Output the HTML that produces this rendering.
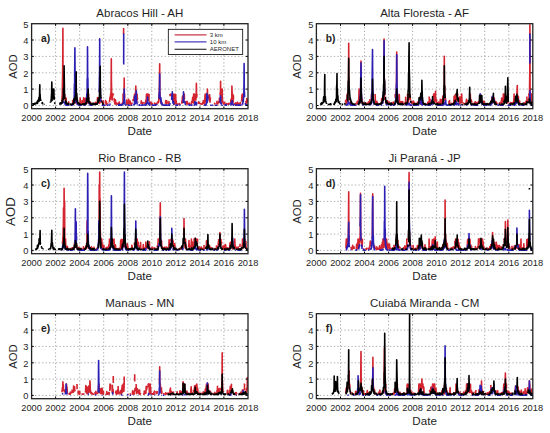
<!DOCTYPE html>
<html><head><meta charset="utf-8"><style>
html,body{margin:0;padding:0;background:#fff;width:550px;height:433px;overflow:hidden}
svg{display:block;font-family:"Liberation Sans", sans-serif}
text{fill:#1e1e1e}
</style></head><body>
<svg width="550" height="433" viewBox="0 0 550 433">
<rect width="550" height="433" fill="#fff"/>
<path d="M55.6,23.7V108.7M79.7,23.7V108.7M103.7,23.7V108.7M127.8,23.7V108.7M151.8,23.7V108.7M175.8,23.7V108.7M199.9,23.7V108.7M223.9,23.7V108.7M31.6,105.5H248.0M31.6,89.1H248.0M31.6,72.8H248.0M31.6,56.4H248.0M31.6,40.0H248.0" stroke="#ababab" stroke-width="1" stroke-dasharray="1.3,2.2" fill="none"/>
<clipPath id="ca"><rect x="31.6" y="23.7" width="216.4" height="85.0"/></clipPath>
<g clip-path="url(#ca)" fill="none" stroke-width="1.6" stroke-linejoin="round">
<path d="M61.1,102.1 61.2,103.6 61.4,102.8M61.7,101.3 61.9,100.9 62.1,96.3 62.2,99.3 62.4,84.6 62.5,80.7 62.7,68.2 62.9,28.4 63.0,68.2 63.2,76.9 63.3,92.7 63.5,99.6 63.7,94.0 63.8,99.5M64.5,94.7 64.5,94.7M64.8,94.0 64.9,97.1 65.1,98.6 65.3,98.2 65.4,100.7 65.6,100.8 65.7,100.4 65.9,103.4 66.1,102.7 66.2,97.6M67.5,104.1 67.7,104.1 67.8,104.1 68.0,104.1 68.1,104.1 68.3,104.1 68.5,104.1 68.6,101.7 68.8,102.8 68.9,103.4M69.3,104.1 69.3,104.1M70.5,104.1 70.7,104.1 70.9,104.1M72.5,100.8 72.6,100.5 72.8,103.8 72.9,103.9 73.1,101.9 73.3,102.1 73.4,103.7 73.6,102.7 73.8,103.3 73.9,102.9 74.1,102.6 74.2,101.6 74.4,102.7 74.6,101.0 74.7,100.8 74.9,94.0 75.0,98.5 75.2,102.2 75.4,101.4 75.5,102.9 75.7,101.6 75.8,101.8 76.0,102.6 76.2,102.3 76.3,102.6 76.5,101.7 76.6,101.2 76.8,102.6M77.9,103.6 78.1,103.8M78.4,104.1 78.6,104.1 78.7,104.1 78.9,104.1 79.0,103.4 79.2,104.1 79.4,104.1 79.5,104.1 79.7,104.1M80.0,104.1 80.2,98.0 80.3,101.8 80.5,104.1 80.6,104.1M81.4,103.9 81.6,102.9 81.8,103.5 81.9,104.1 82.1,100.6 82.2,102.2 82.4,104.1M83.2,104.1 83.4,104.1 83.5,100.7 83.7,97.9 83.8,104.1 84.0,104.1 84.2,104.1 84.3,103.9 84.5,103.3 84.6,101.4 84.8,98.6 85.0,100.7 85.1,101.7 85.3,102.7 85.4,102.3 85.6,99.4 85.8,98.4 85.9,101.6 86.1,99.8 86.3,97.9 86.4,100.9 86.6,101.3 86.7,101.1 86.9,95.6 87.1,102.0 87.2,102.6 87.4,94.7M88.3,103.7 88.5,99.6 88.7,94.0M89.9,101.3 90.1,102.7 90.3,104.0 90.4,104.0M90.7,103.5 90.9,102.8 91.1,103.4 91.2,103.6 91.4,103.6M92.8,104.1 92.8,104.1M93.1,104.1 93.3,103.9 93.5,103.6 93.6,104.1 93.8,104.1M94.1,103.0 94.3,104.1 94.4,104.1 94.6,104.1 94.7,104.1 94.9,104.1 95.1,104.1 95.2,102.4 95.4,102.3 95.5,103.5 95.7,103.4 95.9,104.1 96.0,104.0 96.2,103.6 96.3,104.1 96.5,104.1 96.7,103.7 96.8,102.9 97.0,102.4 97.1,103.6 97.3,101.6 97.5,97.5 97.6,97.5 97.8,98.1 98.0,101.0 98.1,102.4 98.3,102.4M98.6,98.2 98.8,102.7 98.9,102.7 99.1,102.6 99.2,102.2 99.4,101.8 99.6,103.4 99.7,101.9M100.7,99.6 100.8,97.7 101.0,102.7M102.4,102.5 102.4,102.5M102.8,104.1 102.9,103.8 103.1,102.5 103.2,100.9 103.4,103.1 103.6,104.1 103.7,104.1M105.5,103.1 105.6,100.6 105.8,103.6 106.0,104.1 106.1,104.1 106.3,104.1 106.4,101.9 106.6,103.5 106.8,104.1 106.9,102.9M107.7,103.6 107.9,103.0M108.5,103.0 108.7,102.8M109.0,104.1 109.0,104.1M109.3,102.4 109.5,101.4 109.6,101.3 109.8,99.2 110.0,97.1 110.1,98.6 110.3,97.5 110.5,99.0 110.6,94.0 110.8,94.0 110.9,94.9 111.1,89.9 111.3,58.9 111.4,79.2 111.6,89.1 111.7,93.8 111.9,96.1 112.1,100.0 112.2,99.7 112.4,95.5 112.5,94.0 112.7,96.2 112.9,95.0 113.0,94.0 113.2,94.0 113.3,94.0 113.5,94.9M114.0,98.7 114.1,98.5 114.3,101.8 114.5,101.2 114.6,100.8 114.8,103.3 114.9,104.0 115.1,103.6 115.3,100.4 115.4,99.9 115.6,101.2 115.7,104.1 115.9,104.1 116.1,104.1 116.2,104.1 116.4,104.0 116.5,103.1 116.7,104.0 116.9,103.8M117.3,104.1 117.5,104.1 117.7,103.6 117.8,103.5 118.0,102.8M118.3,104.1 118.5,104.1 118.6,104.1 118.8,104.1 118.9,103.8 119.1,102.1 119.3,102.0 119.4,103.2 119.6,104.1 119.7,103.3 119.9,103.4M121.7,104.1 121.7,104.1M122.0,102.9 122.2,104.0 122.3,104.0 122.5,103.7 122.6,102.5 122.8,102.5 123.0,101.8 123.1,94.0 123.3,95.0 123.4,96.5 123.6,94.5 123.8,99.4 123.9,98.2 124.1,87.7 124.2,78.1 124.4,98.9 124.6,97.6 124.7,94.3M126.0,103.8 126.2,103.8 126.3,104.0 126.5,104.1 126.6,104.1 126.8,99.3M127.1,103.5 127.3,103.0 127.4,104.0 127.6,103.7 127.8,101.6 127.9,103.5 128.1,104.1 128.2,103.2 128.4,104.1 128.6,103.9 128.7,99.2 128.9,103.4 129.0,103.6M129.5,103.1 129.7,102.7 129.8,103.8 130.0,102.6 130.2,101.1 130.3,102.1 130.5,104.1 130.6,104.1 130.8,104.1 131.0,103.9 131.1,104.1 131.3,104.1 131.4,104.1 131.6,104.1 131.8,103.5 131.9,103.1 132.1,104.1M133.0,101.2 133.2,99.0M133.5,100.6 133.7,99.8 133.9,98.6 134.0,96.9 134.2,99.6 134.3,98.9 134.5,94.6 134.7,94.0 134.8,94.0 135.0,94.9M135.3,95.9 135.5,97.2 135.6,94.4 135.8,86.0 135.9,94.0 136.1,94.0 136.3,94.0 136.4,94.0 136.6,100.9 136.7,101.7 136.9,99.4 137.1,94.0 137.2,99.7 137.4,97.7 137.5,99.0 137.7,99.6M138.5,101.9 138.7,102.2M139.8,104.1 139.9,104.1M141.1,104.0 141.2,100.7 141.4,103.0 141.5,104.1M141.9,104.1 142.0,104.1 142.2,103.2 142.3,102.5 142.5,103.8 142.7,103.8 142.8,103.9 143.0,103.6 143.1,102.6 143.3,103.7M144.9,104.1 145.1,103.0 145.2,102.2 145.4,103.2 145.5,103.4 145.7,103.0 145.9,100.0 146.0,99.8 146.2,102.5 146.4,95.3 146.5,94.4 146.7,96.1 146.8,94.0 147.0,94.1 147.2,100.1 147.3,100.4 147.5,94.0 147.6,94.0 147.8,94.0 148.0,94.0 148.1,94.0 148.3,96.7 148.4,96.8M148.9,101.0 149.1,94.0M149.7,101.1 149.9,101.9 150.0,102.7 150.2,104.0 150.4,103.0 150.5,102.7 150.7,104.0M151.0,104.1 151.2,103.4 151.3,102.5 151.5,103.9 151.6,104.1 151.8,104.1 152.0,103.8 152.1,103.3 152.3,103.9 152.4,104.1 152.6,104.1M154.4,104.1 154.5,103.1 154.7,104.0 154.8,103.9 155.0,104.0 155.2,104.1 155.3,104.1 155.5,103.8 155.6,103.7 155.8,104.1 156.0,104.1 156.1,104.1 156.3,104.1 156.4,104.1 156.6,104.1 156.8,104.1 156.9,104.0 157.1,103.9 157.2,103.4 157.4,102.1 157.6,103.7M158.2,103.3 158.4,102.6 158.5,101.6 158.7,100.5 158.9,95.9 159.0,93.9 159.2,98.4 159.3,90.6 159.5,78.0 159.7,63.9 159.8,92.2 160.0,92.0 160.1,97.1 160.3,97.6 160.5,97.6 160.6,101.6 160.8,102.8 160.9,102.9 161.1,103.0 161.3,102.9 161.4,103.4 161.6,103.2 161.7,102.1 161.9,102.7M164.3,104.1 164.5,103.8M165.4,103.3 165.6,103.4 165.7,100.6 165.9,101.1 166.1,103.2 166.2,100.8 166.4,102.3 166.5,103.9 166.7,103.1 166.9,101.1 167.0,102.2 167.2,103.5 167.3,103.6M168.3,104.1 168.5,104.1 168.6,103.6 168.8,103.3 168.9,101.6 169.1,102.0 169.3,102.7M169.9,94.0 170.1,96.2M170.6,94.0 170.7,94.8 170.9,94.0 171.0,94.0 171.2,94.0 171.4,94.0 171.5,94.0M173.3,98.6 173.4,101.7 173.6,99.9 173.8,94.0 173.9,94.0 174.1,96.5M174.4,99.5 174.6,104.1 174.7,104.1 174.9,102.9 175.0,100.9 175.2,94.3 175.4,102.0 175.5,101.9 175.7,94.5 175.8,100.4 176.0,103.1 176.2,100.9 176.3,101.5 176.5,104.1 176.6,104.1 176.8,104.1 177.0,104.1M177.4,103.7 177.6,104.1 177.8,104.0M178.2,104.1 178.4,104.1 178.6,104.1 178.7,104.1 178.9,104.1 179.0,104.1 179.2,104.1 179.4,104.1 179.5,103.6 179.7,104.1 179.8,104.1 180.0,104.1 180.2,104.1 180.3,104.1M181.6,103.8 181.8,103.3 181.9,101.1 182.1,102.9 182.3,100.6 182.4,96.7 182.6,98.1 182.7,96.2 182.9,96.3 183.1,95.6 183.2,101.9 183.4,99.6 183.5,100.3 183.7,102.0 183.9,99.8 184.0,95.3 184.2,94.0 184.3,94.0 184.5,99.4M185.8,100.9 185.9,102.3 186.1,103.7 186.3,104.1 186.4,104.0 186.6,104.1M186.9,103.4 187.1,101.4 187.2,103.7 187.4,102.6 187.5,103.1 187.7,103.7 187.9,104.1 188.0,104.1 188.2,104.1 188.3,103.9 188.5,103.5 188.7,104.1 188.8,104.1 189.0,104.1 189.1,104.1 189.3,103.3 189.5,103.6 189.6,104.1 189.8,104.1 189.9,104.1M190.6,104.0 190.7,104.1 190.9,104.0 191.1,104.1 191.2,103.9 191.4,103.9 191.5,101.7 191.7,101.9M192.2,103.2 192.3,101.2 192.5,99.3 192.7,97.3 192.8,99.9 193.0,101.2 193.1,102.6M193.5,102.9 193.6,94.0 193.8,98.9 194.0,103.0 194.1,103.8 194.3,99.0 194.4,101.7 194.6,103.5 194.8,95.6 194.9,94.0 195.1,94.0M195.7,100.6 195.9,99.2 196.0,94.0 196.2,94.0 196.4,83.4 196.5,94.0 196.7,97.4 196.8,96.1 197.0,94.0M198.3,102.7 198.4,103.3 198.6,101.9 198.8,102.4 198.9,102.7 199.1,103.3 199.2,102.9 199.4,102.7 199.6,103.3 199.7,104.0M200.5,103.8 200.7,103.6 200.8,103.5 201.0,104.1 201.2,104.0 201.3,104.0 201.5,104.1 201.6,104.1 201.8,104.1 202.0,104.0 202.1,104.1 202.3,103.9 202.4,103.4 202.6,103.4 202.8,103.1 202.9,102.2M203.2,99.9 203.4,102.1 203.6,104.1M204.0,103.8 204.2,101.3 204.4,102.4 204.5,104.1 204.7,102.7 204.8,100.3 205.0,95.7 205.2,94.0 205.3,98.1M205.6,100.2 205.8,99.2 206.0,101.9 206.1,101.2 206.3,97.7 206.5,97.8 206.6,98.0 206.8,94.0 206.9,94.0 207.1,94.0 207.3,94.0 207.4,89.1 207.6,97.8 207.7,94.0 207.9,94.0M208.7,98.8 208.9,98.2 209.0,96.6 209.2,98.7 209.3,100.1 209.5,94.7 209.7,94.7 209.8,100.5 210.0,102.1 210.1,100.7 210.3,98.8 210.5,97.5M211.4,102.3 211.4,102.3M212.2,103.2 212.2,103.2M214.1,103.0 214.1,103.0M214.5,104.1 214.6,103.4 214.8,104.1 214.9,104.1 215.1,104.1 215.3,104.1 215.4,104.1M216.4,103.8 216.5,103.3 216.7,103.7 216.9,103.5 217.0,101.2 217.2,102.6 217.3,103.2 217.5,103.4 217.7,104.1 217.8,102.6 218.0,102.8 218.2,102.6M218.5,101.9 218.6,102.7 218.8,101.4M219.1,103.2 219.3,101.7 219.4,98.1 219.6,98.2M220.1,94.5 220.2,92.5 220.4,95.5 220.6,81.3 220.7,94.1 220.9,94.0 221.0,94.0 221.2,96.9 221.4,101.1 221.5,100.0 221.7,102.1 221.8,99.6 222.0,96.1 222.2,89.1 222.3,95.8 222.5,100.6 222.6,101.2 222.8,101.1 223.0,103.3 223.1,103.0 223.3,103.3 223.4,103.3 223.6,103.9 223.8,104.0 223.9,104.0 224.1,103.9 224.2,104.1 224.4,104.1 224.6,103.1 224.7,102.3 224.9,104.1M225.5,104.1 225.5,104.1M225.8,104.1 226.0,104.1 226.2,104.1 226.3,104.1 226.5,104.0 226.6,103.6 226.8,103.5 227.0,104.1 227.1,104.0M227.6,103.3 227.8,103.8 227.9,104.1 228.1,104.1 228.2,104.1 228.4,104.1 228.6,104.1 228.7,104.0 228.9,103.2 229.0,104.1 229.2,104.1M230.5,103.6 230.7,102.8 230.8,99.8 231.0,102.9M231.3,102.0 231.5,98.5 231.6,100.0 231.8,98.9 231.9,86.0 232.1,92.0 232.3,95.6 232.4,100.2 232.6,97.0 232.7,94.0 232.9,97.8 233.1,102.3 233.2,99.8 233.4,95.5 233.5,99.5M234.0,103.3 234.2,103.4 234.3,104.1 234.5,103.7 234.7,104.0 234.8,104.1 235.0,104.1 235.1,104.1 235.3,103.7 235.5,104.1 235.6,104.0 235.8,103.2 235.9,102.8 236.1,103.8 236.3,104.1 236.4,104.1 236.6,104.1 236.7,104.1 236.9,104.1 237.1,104.1 237.2,103.2 237.4,102.3 237.5,104.1 237.7,104.1 237.9,103.0 238.0,103.5 238.2,104.1 238.3,104.1 238.5,104.1 238.7,104.1 238.8,103.4 239.0,104.1 239.1,104.1M240.1,104.0 240.3,102.5 240.4,102.7 240.6,103.9 240.7,103.6M241.4,100.6 241.5,101.0 241.7,100.5 241.9,95.6 242.0,95.5 242.2,94.7 242.4,94.0 242.5,95.0 242.7,98.7M243.2,101.6 243.3,95.2M245.2,98.4 245.2,98.4M245.9,101.0 246.0,102.9 246.2,101.7 246.4,101.1 246.5,103.2 246.7,102.5 246.8,98.5 247.0,100.3 247.2,99.4 247.3,102.6M123.6,28.1 123.6,34.3" stroke="#d42430"/>
<path d="M62.4,102.0 62.5,102.6 62.7,102.9 62.9,102.0 63.0,102.6 63.2,101.2M64.6,102.6 64.8,102.0 64.9,103.6 65.1,104.4 65.3,104.2 65.4,104.3 65.6,104.6 65.7,104.9 65.9,104.9 66.1,104.6 66.2,104.7 66.4,105.1 66.5,105.2 66.7,105.1 66.9,105.1 67.0,104.9 67.2,105.0 67.3,105.2 67.5,105.2 67.7,105.2M68.0,105.1 68.1,105.0 68.3,105.2 68.5,105.1 68.6,105.1 68.8,105.2 68.9,105.0 69.1,105.0 69.3,105.2 69.4,105.2M71.2,104.9 71.3,105.0 71.5,105.2 71.7,105.2 71.8,105.2 72.0,105.1 72.1,104.9 72.3,104.9 72.5,104.9 72.6,104.5 72.8,104.6 72.9,104.5 73.1,104.6 73.3,103.3 73.4,103.3 73.6,102.0 73.8,102.9 73.9,100.2 74.1,99.6 74.2,98.9 74.4,84.3 74.6,93.6 74.7,69.8 74.9,47.9 75.0,65.2 75.2,82.2 75.4,96.4 75.5,97.8 75.7,99.2 75.8,98.3 76.0,102.1 76.2,101.5 76.3,102.9M76.6,100.3 76.8,101.8 77.0,103.2 77.1,104.0 77.3,104.5 77.4,105.0M78.2,105.1 78.4,105.1 78.6,105.2 78.7,105.2 78.9,105.1 79.0,105.0 79.2,105.0 79.4,105.0 79.5,105.0 79.7,105.2 79.8,105.2 80.0,105.2 80.2,105.1 80.3,105.0 80.5,105.1 80.6,105.1 80.8,105.2 81.0,105.0 81.1,104.8 81.3,105.0 81.4,104.9 81.6,105.2 81.8,105.2M83.5,105.2 83.7,105.1 83.8,105.2 84.0,105.2 84.2,105.2 84.3,105.2 84.5,104.9 84.6,105.1 84.8,105.0 85.0,104.9 85.1,105.0 85.3,104.9 85.4,104.8 85.6,104.1 85.8,104.5 85.9,103.9 86.1,103.8 86.3,103.4 86.4,100.3 86.6,99.1 86.7,95.5 86.9,93.3 87.1,93.0 87.2,78.7 87.4,83.3 87.5,46.9 87.7,81.3 87.9,78.2 88.0,89.4 88.2,95.4 88.3,101.2 88.5,101.5 88.7,101.8 88.8,101.7 89.0,103.5 89.1,102.6 89.3,104.1 89.5,104.3 89.6,104.1 89.8,104.9 89.9,105.0 90.1,105.0 90.3,105.1 90.4,105.1 90.6,105.0 90.7,105.1 90.9,105.1 91.1,105.1 91.2,105.1 91.4,105.0 91.5,105.1 91.7,105.1 91.9,105.0 92.0,105.2M92.5,105.2 92.7,105.2 92.8,105.2 93.0,105.2 93.1,105.2M98.3,102.4 98.4,100.8 98.6,100.9 98.8,100.0M99.2,92.3 99.4,78.3 99.6,72.7 99.7,38.9 99.9,84.2 100.0,93.2 100.2,87.4 100.4,100.4 100.5,100.1 100.7,101.3 100.8,100.4 101.0,101.3M102.0,104.6 102.1,104.6 102.3,105.0 102.4,105.1 102.6,105.1 102.8,105.1 102.9,105.2 103.1,105.2 103.2,105.2 103.4,105.2 103.6,105.2 103.7,105.2 103.9,105.2 104.0,105.2 104.2,105.0 104.4,105.1 104.5,105.2 104.7,105.2 104.8,105.2 105.0,105.1 105.2,105.0M106.6,105.1 106.8,105.1 106.9,105.1 107.1,105.2 107.2,105.2 107.4,105.2 107.6,105.2 107.7,105.1 107.9,105.2 108.0,105.0 108.2,104.9 108.4,105.2M109.3,105.1 109.5,105.1 109.6,105.2 109.8,105.1 110.0,104.4 110.1,103.5M111.6,102.6 111.7,102.7M112.2,101.8 112.2,101.8M116.1,105.2 116.2,105.2 116.4,105.1M118.0,105.2 118.1,105.1 118.3,105.2 118.5,105.2 118.6,105.2 118.8,105.0 118.9,104.8 119.1,104.3 119.3,104.3 119.4,104.9 119.6,105.1 119.7,105.0 119.9,105.0 120.1,105.2 120.2,105.2 120.4,105.2 120.5,104.9 120.7,104.9 120.9,105.1 121.0,105.2 121.2,105.2 121.3,104.8 121.5,104.7 121.7,104.7 121.8,105.0 122.0,105.0 122.2,104.9 122.3,104.4 122.5,104.7 122.6,104.6 122.8,104.4 123.0,103.8 123.1,103.5 123.3,103.5 123.4,102.5 123.6,102.0 123.8,102.1 123.9,99.7 124.1,99.3 124.2,89.1 124.4,102.2 124.6,99.9 124.7,100.5 124.9,103.6 125.0,104.2 125.2,104.6 125.4,104.7 125.5,104.7 125.7,104.9 125.8,104.7 126.0,105.1 126.2,105.0M127.8,105.2 127.9,105.0 128.1,105.2 128.2,105.2 128.4,105.1 128.6,105.0 128.7,105.2 128.9,105.2 129.0,105.2 129.2,105.2 129.4,105.2 129.5,105.1 129.7,105.2 129.8,105.2 130.0,104.9M131.1,105.1 131.3,105.2 131.4,105.2 131.6,105.2 131.8,105.2 131.9,105.1 132.1,105.2 132.2,105.2 132.4,105.2M132.7,105.2 132.7,105.2M133.5,105.1 133.7,104.8 133.9,104.8 134.0,104.7 134.2,104.5 134.3,104.6 134.5,103.2 134.7,95.9 134.8,100.2 135.0,101.1 135.1,102.2 135.3,103.7 135.5,101.7 135.6,100.7 135.8,100.9 135.9,99.0 136.1,93.9 136.3,90.7 136.4,99.6 136.6,101.2 136.7,101.4 136.9,102.3 137.1,103.8 137.2,103.9 137.4,103.6M138.5,105.1 138.7,105.1 138.8,105.2 139.0,105.2 139.1,105.2 139.3,104.8 139.5,104.9 139.6,105.2 139.8,105.2 139.9,105.2 140.1,105.2 140.3,105.2 140.4,105.2M140.7,105.2 140.9,105.2 141.1,105.1 141.2,105.1 141.4,105.2 141.5,105.2 141.7,105.2 141.9,105.2 142.0,105.2 142.2,105.2 142.3,105.2 142.5,104.9 142.7,105.1M143.0,105.0 143.1,105.0 143.3,105.2 143.5,105.1 143.6,105.2 143.8,105.2M144.4,105.1 144.6,105.1 144.7,104.9 144.9,104.6 145.1,105.0 145.2,105.2 145.4,105.1 145.5,105.0 145.7,105.1 145.9,105.1 146.0,105.1 146.2,104.2 146.4,103.1 146.5,104.2 146.7,104.2 146.8,104.0 147.0,102.7 147.2,102.7 147.3,103.2 147.5,99.7 147.6,97.0 147.8,101.1 148.0,102.7 148.1,103.1 148.3,103.4 148.4,103.4 148.6,103.5 148.8,104.3 148.9,104.3 149.1,104.6 149.2,104.6 149.4,103.0 149.6,103.9 149.7,105.2 149.9,105.0 150.0,104.9 150.2,104.7 150.4,104.7M151.6,105.2 151.8,105.2 152.0,105.2 152.1,105.2 152.3,104.9 152.4,104.9 152.6,105.2 152.8,105.2 152.9,105.2 153.1,105.2 153.2,105.2 153.4,105.1 153.6,105.2 153.7,105.2 153.9,105.2 154.0,105.1 154.2,105.2 154.4,105.2 154.5,105.1 154.7,105.1 154.8,105.1 155.0,105.2 155.2,105.1 155.3,104.9 155.5,105.1 155.6,105.0 155.8,105.0 156.0,105.0 156.1,104.9 156.3,104.9 156.4,104.5 156.6,104.4 156.8,104.5 156.9,104.1M159.0,98.5 159.2,93.3 159.3,91.9 159.5,96.6 159.7,73.9 159.8,94.7 160.0,98.6 160.1,95.2M160.5,98.1 160.6,98.8 160.8,97.9 160.9,101.8 161.1,99.6 161.3,103.9 161.4,103.6 161.6,102.7 161.7,102.7 161.9,104.1 162.1,103.5 162.2,104.4 162.4,104.8 162.5,104.9 162.7,104.6 162.9,104.7 163.0,104.9 163.2,104.8 163.3,104.9 163.5,105.1 163.7,105.0 163.8,105.1 164.0,105.1 164.1,105.1 164.3,105.1 164.5,105.1 164.6,105.1 164.8,105.1 164.9,105.2 165.1,105.2 165.3,105.2 165.4,105.2 165.6,105.2 165.7,105.1 165.9,104.9 166.1,105.2 166.2,105.2 166.4,105.2 166.5,105.2 166.7,105.2 166.9,105.1 167.0,105.1 167.2,105.2 167.3,105.2 167.5,105.1 167.7,105.2 167.8,105.2 168.0,105.1 168.1,105.0 168.3,105.2 168.5,105.2 168.6,105.2 168.8,105.2 168.9,105.2 169.1,105.1 169.3,105.2 169.4,105.2 169.6,104.9 169.7,104.0 169.9,103.9 170.1,103.7 170.2,103.1M171.7,100.0 171.8,94.4 172.0,96.3 172.2,94.8 172.3,91.7 172.5,97.6 172.6,99.4 172.8,101.3 173.0,103.7M173.3,101.1 173.4,101.3 173.6,101.7 173.8,104.3 173.9,104.6 174.1,104.5M175.2,105.2 175.4,105.2 175.5,105.2 175.7,105.2 175.8,105.2 176.0,105.2 176.2,105.1 176.3,105.2 176.5,105.2 176.6,105.2 176.8,105.2 177.0,105.2 177.1,105.2 177.3,105.1 177.4,105.0 177.6,105.0 177.8,105.1 177.9,105.1 178.1,105.2 178.2,105.2M179.5,104.8 179.7,104.8 179.8,104.9 180.0,105.1 180.2,105.0 180.3,104.9 180.5,105.0M182.9,102.9 183.1,102.7 183.2,100.0 183.4,99.3 183.5,91.7 183.7,97.3 183.9,99.1 184.0,100.7M184.5,102.6 184.7,101.7 184.8,102.0 185.0,102.3 185.1,103.3 185.3,104.2 185.5,104.5 185.6,104.3 185.8,104.1 185.9,104.1M187.1,105.2 187.2,105.2 187.4,105.2M188.5,105.2 188.7,105.2 188.8,105.1 189.0,104.7 189.1,104.7 189.3,105.0 189.5,105.2 189.6,105.2 189.8,105.2 189.9,105.2 190.1,105.1 190.3,105.1M190.6,105.2 190.7,105.2 190.9,105.0 191.1,105.2 191.2,105.2 191.4,105.2 191.5,105.0 191.7,105.1 191.9,105.2 192.0,105.1 192.2,105.0 192.3,105.2M193.8,105.0 194.0,105.1 194.1,105.0 194.3,105.0 194.4,104.7 194.6,104.7 194.8,104.3 194.9,101.8 195.1,103.8 195.2,104.7 195.4,104.7 195.6,104.6 195.7,103.9 195.9,104.4 196.0,104.8 196.2,104.8 196.4,103.5 196.5,102.3 196.7,103.8 196.8,104.8 197.0,104.9M199.7,105.0 199.7,105.0M204.4,104.8 204.5,105.1 204.7,105.2 204.8,105.0 205.0,105.1 205.2,104.7 205.3,105.0 205.5,105.2 205.6,105.1 205.8,105.0 206.0,105.0 206.1,104.9 206.3,103.4 206.5,103.4 206.6,103.4 206.8,94.7 206.9,93.5 207.1,102.0 207.3,102.2 207.4,100.8 207.6,100.7 207.7,95.6 207.9,98.8 208.1,98.2 208.2,98.6M210.0,104.2 210.0,104.2M210.5,104.6 210.6,104.8 210.8,105.2 210.9,105.1 211.1,105.1 211.3,105.2 211.4,105.2 211.6,105.2 211.7,105.2M212.2,104.9 212.4,105.0 212.5,105.2 212.7,105.2 212.9,105.2 213.0,105.2 213.2,105.2 213.3,105.2M214.8,105.2 214.8,105.2M215.1,105.1 215.3,105.2 215.4,105.2 215.6,105.2 215.7,105.2 215.9,105.2 216.1,105.2 216.2,105.2 216.4,105.2 216.5,105.2 216.7,105.1 216.9,105.1 217.0,105.0 217.2,104.9M219.9,102.3 220.1,99.2 220.2,100.0 220.4,95.9 220.6,96.7 220.7,103.2 220.9,102.8 221.0,103.5 221.2,103.1 221.4,104.4 221.5,104.7 221.7,104.9 221.8,104.9M222.5,104.9 222.6,105.1 222.8,105.2 223.0,105.2 223.1,105.2M224.7,105.2 224.9,105.2 225.0,105.2 225.2,104.7 225.4,104.8 225.5,105.2 225.7,105.2 225.8,105.1 226.0,105.0 226.2,105.1 226.3,105.1 226.5,105.2 226.6,105.1 226.8,105.1 227.0,105.2M228.9,104.9 229.0,104.9 229.2,105.1M230.5,104.3 230.7,104.1 230.8,104.9 231.0,104.1 231.1,102.8 231.3,104.0 231.5,104.4 231.6,104.3 231.8,102.2 231.9,101.6 232.1,100.8 232.3,100.8 232.4,102.5 232.6,102.7 232.7,104.0 232.9,104.4 233.1,104.4 233.2,104.8 233.4,105.1 233.5,104.9 233.7,104.3M235.1,105.2 235.3,105.2 235.5,104.7 235.6,105.0 235.8,105.0 235.9,105.1 236.1,105.2 236.3,105.0M236.6,105.2 236.7,105.2 236.9,105.2 237.1,105.0 237.2,105.2 237.4,105.2 237.5,105.2 237.7,105.0M238.0,105.2 238.2,105.2 238.3,105.1 238.5,105.2 238.7,105.2 238.8,105.1 239.0,105.0 239.1,105.2 239.3,105.1 239.5,105.2 239.6,105.1 239.8,104.8 239.9,105.2 240.1,105.2 240.3,105.2 240.4,105.2 240.6,105.2 240.7,105.2 240.9,105.2 241.1,105.2 241.2,105.1 241.4,105.2M242.4,104.6 242.5,104.2 242.7,104.2 242.8,103.2 243.0,100.8 243.2,99.7 243.3,101.7 243.5,98.2 243.6,97.9 243.8,95.8 244.0,83.2 244.1,63.6 244.3,92.2 244.4,91.5 244.6,97.1M245.1,103.8 245.2,103.6 245.4,104.0 245.6,104.4 245.7,104.9 245.9,104.6 246.0,104.7 246.2,105.0 246.4,105.1 246.5,105.2 246.7,104.9 246.8,104.9 247.0,105.0 247.2,104.8 247.3,105.1 247.5,105.2M247.8,105.0 248.0,105.1M123.7,33.5 123.7,64.6" stroke="#2c20b4"/>
<path d="M32.2,104.1 32.4,104.0 32.6,103.8 32.7,103.9 32.9,104.1 33.0,104.2 33.2,104.0 33.4,103.9 33.5,104.0 33.7,104.0 33.8,103.8 34.0,104.3 34.2,104.2 34.3,103.5 34.5,103.8 34.6,103.5 34.8,104.2 35.0,103.3 35.1,103.2 35.3,103.1 35.4,103.7 35.6,103.6 35.8,103.7 35.9,103.8 36.1,102.5M36.6,103.8 36.7,102.7 36.9,102.9 37.0,102.6 37.2,101.4 37.4,101.1 37.5,103.4 37.7,101.1 37.9,100.4 38.0,100.6M38.5,102.1 38.7,99.0 38.8,99.5 39.0,97.3 39.1,98.0 39.3,101.0 39.5,97.8 39.6,92.0 39.8,84.7 39.9,96.4 40.1,94.3 40.3,97.5 40.4,99.4 40.6,100.3 40.7,99.7 40.9,101.0M41.9,102.5 42.0,103.0 42.2,103.3 42.3,102.6 42.5,102.9 42.7,103.4 42.8,103.8 43.0,103.8M43.9,103.7 44.1,103.9 44.3,104.0 44.4,103.8M49.7,102.5 49.7,102.5M50.4,101.5 50.5,102.7M50.8,101.5 51.0,101.4 51.2,98.7 51.3,99.2 51.5,94.2 51.6,95.9 51.8,82.1 52.0,92.2 52.1,100.4 52.3,96.3 52.4,98.6 52.6,89.1 52.8,96.5 52.9,93.6 53.1,96.4 53.2,95.0 53.4,95.7 53.6,96.1 53.7,92.7 53.9,89.1 54.0,99.4 54.2,96.9 54.4,99.3M54.7,102.2 54.8,103.4 55.0,102.6M59.3,104.3 59.5,104.3 59.6,104.3 59.8,104.1 60.0,103.8 60.1,103.0 60.3,102.8 60.4,103.8 60.6,103.4 60.8,103.6 60.9,104.0 61.1,103.7 61.2,103.8 61.4,102.9 61.6,102.9 61.7,103.0 61.9,103.0 62.1,101.0 62.2,100.5 62.4,102.8 62.5,102.1 62.7,100.6 62.9,101.0 63.0,98.4 63.2,97.7 63.3,99.4 63.5,88.3 63.7,91.1 63.8,95.8 64.0,95.1 64.1,65.7 64.3,80.5 64.5,93.5 64.6,96.7 64.8,97.4 64.9,99.0M65.4,99.8 65.6,99.9 65.7,101.7 65.9,103.2 66.1,101.5 66.2,102.8 66.4,103.1 66.5,103.3 66.7,103.8 66.9,103.4 67.0,103.4 67.2,103.8 67.3,103.5 67.5,103.3 67.7,104.1 67.8,104.3 68.0,104.2 68.1,104.3 68.3,104.4 68.5,104.0 68.6,103.6 68.8,104.3M69.7,104.4 69.9,104.4 70.1,104.4 70.2,104.4 70.4,104.2 70.5,104.4 70.7,104.4 70.9,104.2 71.0,104.4 71.2,104.3 71.3,104.4 71.5,104.4 71.7,104.4 71.8,104.4 72.0,104.1 72.1,104.4 72.3,104.3 72.5,104.2 72.6,104.1 72.8,104.1 72.9,103.9 73.1,103.4 73.3,103.0 73.4,103.7 73.6,104.0 73.8,102.4 73.9,98.8 74.1,100.1 74.2,102.6 74.4,100.2 74.6,100.3 74.7,100.8 74.9,99.0 75.0,98.6 75.2,95.8 75.4,98.8 75.5,96.8 75.7,96.9 75.8,92.6 76.0,89.0 76.2,71.9 76.3,90.6 76.5,97.8 76.6,99.4 76.8,93.5 77.0,97.1 77.1,98.5 77.3,101.6 77.4,99.8 77.6,101.8 77.8,102.8 77.9,103.5 78.1,102.8 78.2,103.2 78.4,103.6 78.6,103.5 78.7,103.6 78.9,103.2 79.0,103.6 79.2,104.1 79.4,104.3 79.5,104.2 79.7,104.3 79.8,104.3 80.0,104.4 80.2,104.3 80.3,104.3 80.5,104.4 80.6,104.4 80.8,104.4 81.0,104.4 81.1,104.4 81.3,104.4M81.6,103.8 81.8,104.2 81.9,104.4 82.1,104.5 82.2,104.5 82.4,104.4 82.6,104.5 82.7,104.5 82.9,104.5 83.0,104.4 83.2,103.7 83.4,104.3 83.5,104.5 83.7,104.4 83.8,104.5 84.0,104.1 84.2,103.9 84.3,104.4 84.5,104.4 84.6,104.3 84.8,104.4 85.0,104.4 85.1,104.3 85.3,103.7 85.4,103.3 85.6,103.7 85.8,103.4 85.9,102.9 86.1,103.3 86.3,103.5 86.4,102.8 86.6,101.6 86.7,99.0 86.9,99.5 87.1,99.4 87.2,97.7 87.4,98.2 87.5,100.0 87.7,101.5 87.9,93.7 88.0,95.4 88.2,89.1 88.3,97.6 88.5,98.7 88.7,97.6 88.8,100.4 89.0,102.3 89.1,102.4 89.3,102.2 89.5,101.6 89.6,102.2 89.8,103.5 89.9,103.5 90.1,103.5 90.3,103.1 90.4,103.5 90.6,104.2 90.7,104.3 90.9,104.3 91.1,104.1 91.2,103.7 91.4,104.3 91.5,104.4 91.7,104.4 91.9,104.4 92.0,104.4 92.2,104.3 92.3,104.4 92.5,104.5 92.7,104.4 92.8,104.2 93.0,103.0 93.1,104.2 93.3,104.5 93.5,104.5 93.6,104.3 93.8,104.0 93.9,103.9 94.1,104.3 94.3,104.5 94.4,104.4 94.6,104.5 94.7,104.5 94.9,104.4 95.1,104.2 95.2,103.6 95.4,104.4 95.5,104.4 95.7,104.1 95.9,104.1 96.0,104.3 96.2,104.0 96.3,103.7 96.5,103.6 96.7,104.0 96.8,104.3 97.0,104.1 97.1,104.2 97.3,103.4 97.5,103.2 97.6,103.1 97.8,103.2 98.0,100.9 98.1,99.1 98.3,102.2 98.4,101.8 98.6,100.4 98.8,97.7 98.9,100.6 99.1,100.5 99.2,97.2 99.4,97.8 99.6,90.2 99.7,89.8 99.9,96.1 100.0,77.8 100.2,66.2 100.4,93.2 100.5,88.3 100.7,95.9 100.8,97.3 101.0,97.4 101.2,98.4M101.6,101.2 101.8,101.1 102.0,102.5M102.4,103.4 102.6,103.1 102.8,104.1 102.9,104.1 103.1,104.2 103.2,104.2 103.4,104.2 103.6,104.2 103.7,104.3" stroke="#000000"/>
</g>
<path d="M55.6,23.7v2.2M55.6,108.7v-2.2M79.7,23.7v2.2M79.7,108.7v-2.2M103.7,23.7v2.2M103.7,108.7v-2.2M127.8,23.7v2.2M127.8,108.7v-2.2M151.8,23.7v2.2M151.8,108.7v-2.2M175.8,23.7v2.2M175.8,108.7v-2.2M199.9,23.7v2.2M199.9,108.7v-2.2M223.9,23.7v2.2M223.9,108.7v-2.2M31.6,105.5h2.2M248.0,105.5h-2.2M31.6,89.1h2.2M248.0,89.1h-2.2M31.6,72.8h2.2M248.0,72.8h-2.2M31.6,56.4h2.2M248.0,56.4h-2.2M31.6,40.0h2.2M248.0,40.0h-2.2" stroke="#000" stroke-width="1" fill="none"/>
<rect x="31.6" y="23.7" width="216.4" height="85.0" fill="none" stroke="#222" stroke-width="1.3"/>
<text x="31.6" y="120.8" font-size="9.3" text-anchor="middle">2000</text>
<text x="55.6" y="120.8" font-size="9.3" text-anchor="middle">2002</text>
<text x="79.7" y="120.8" font-size="9.3" text-anchor="middle">2004</text>
<text x="103.7" y="120.8" font-size="9.3" text-anchor="middle">2006</text>
<text x="127.8" y="120.8" font-size="9.3" text-anchor="middle">2008</text>
<text x="151.8" y="120.8" font-size="9.3" text-anchor="middle">2010</text>
<text x="175.8" y="120.8" font-size="9.3" text-anchor="middle">2012</text>
<text x="199.9" y="120.8" font-size="9.3" text-anchor="middle">2014</text>
<text x="223.9" y="120.8" font-size="9.3" text-anchor="middle">2016</text>
<text x="248.0" y="120.8" font-size="9.3" text-anchor="middle">2018</text>
<text x="28.5" y="109.2" font-size="9.3" text-anchor="end">0</text>
<text x="28.5" y="92.9" font-size="9.3" text-anchor="end">1</text>
<text x="28.5" y="76.5" font-size="9.3" text-anchor="end">2</text>
<text x="28.5" y="60.2" font-size="9.3" text-anchor="end">3</text>
<text x="28.5" y="43.8" font-size="9.3" text-anchor="end">4</text>
<text x="28.5" y="27.5" font-size="9.3" text-anchor="end">5</text>
<text x="139.8" y="16.8" font-size="11.5" text-anchor="middle">Abracos Hill - AH</text>
<text x="139.8" y="134.5" font-size="11.6" text-anchor="middle">Date</text>
<text transform="translate(16.6,66.6) rotate(-90)" font-size="11.3" text-anchor="middle">AOD</text>
<text x="41.0" y="41.5" font-size="10.2" font-weight="bold">a)</text>
<rect x="168.3" y="29.3" width="74.4" height="25.1" fill="#fff" stroke="#000" stroke-width="0.8"/>
<path d="M174.6,34.9H206.5" stroke="#c83a48" stroke-width="1.1"/>
<text x="209.8" y="36.9" font-size="6">3 km</text>
<path d="M174.6,41.9H206.5" stroke="#4a3ec0" stroke-width="1.1"/>
<text x="209.8" y="43.9" font-size="6">10 km</text>
<path d="M174.6,49.2H206.5" stroke="#111" stroke-width="1.1"/>
<text x="209.8" y="51.2" font-size="6">AERONET</text>
<path d="M340.5,23.7V108.7M364.5,23.7V108.7M388.6,23.7V108.7M412.6,23.7V108.7M436.6,23.7V108.7M460.7,23.7V108.7M484.7,23.7V108.7M508.8,23.7V108.7M316.4,105.5H532.8M316.4,89.1H532.8M316.4,72.8H532.8M316.4,56.4H532.8M316.4,40.0H532.8" stroke="#ababab" stroke-width="1" stroke-dasharray="1.3,2.2" fill="none"/>
<clipPath id="cb"><rect x="316.4" y="23.7" width="216.4" height="85.0"/></clipPath>
<g clip-path="url(#cb)" fill="none" stroke-width="1.6" stroke-linejoin="round">
<path d="M345.5,102.4 345.6,100.8 345.8,101.6 345.9,102.6 346.1,103.2 346.3,101.5 346.4,99.5 346.6,102.8 346.7,103.4 346.9,102.5 347.1,95.6 347.2,94.0 347.4,100.7 347.5,101.5 347.7,97.2 347.9,94.0M348.2,91.5 348.3,93.1 348.5,91.9 348.7,43.3 348.8,76.1 349.0,90.4 349.1,91.0M349.5,97.8 349.6,100.4M349.9,101.8 350.1,103.1 350.3,103.3M350.6,101.7 350.7,104.0 350.9,104.1M351.4,103.8 351.5,104.1 351.7,103.7 351.9,102.8M355.1,104.1 355.2,104.1 355.4,104.1 355.6,104.1 355.7,103.6 355.9,104.1 356.0,104.1 356.2,104.1 356.4,104.1 356.5,104.1M356.8,103.8 357.0,103.7 357.2,102.5 357.3,101.2 357.5,103.6 357.6,103.6 357.8,103.4 358.0,103.2 358.1,101.4 358.3,102.7 358.4,102.4 358.6,100.6 358.8,98.4 358.9,94.1 359.1,89.1 359.2,95.6 359.4,96.1 359.6,99.5 359.7,96.8 359.9,100.0 360.0,101.9 360.2,99.0 360.4,95.9 360.5,90.5 360.7,95.0 360.8,88.1 361.0,61.1 361.2,93.2 361.3,93.8 361.5,96.8 361.6,98.9 361.8,101.1 362.0,98.7 362.1,102.9 362.3,103.8 362.4,101.7M363.1,103.2 363.2,103.2 363.4,102.5 363.6,104.1 363.7,104.1 363.9,103.7 364.0,103.3 364.2,102.9 364.4,103.7M365.7,103.3 365.8,103.8 366.0,103.4M366.5,103.2 366.6,104.1 366.8,104.1 366.9,103.1 367.1,103.7M367.7,104.1 367.9,104.1 368.1,104.1 368.2,104.1 368.4,103.6 368.5,101.9 368.7,101.9 368.9,102.6M369.5,103.5 369.7,103.0 369.8,99.9 370.0,100.6M371.3,100.0 371.4,98.4 371.6,94.0M372.2,99.9 372.4,99.2 372.5,99.4 372.7,95.3 372.9,97.3 373.0,96.7 373.2,94.0 373.3,94.0M374.8,99.2 374.8,99.2M375.1,94.0 375.3,98.8 375.4,101.2 375.6,103.2 375.7,104.1 375.9,104.1 376.1,103.2 376.2,103.0 376.4,104.1 376.5,104.1 376.7,102.9 376.9,101.4 377.0,103.0 377.2,103.9 377.4,103.8 377.5,102.3 377.7,102.3M378.5,104.0 378.6,104.1 378.8,104.1 379.0,103.3M379.4,103.8 379.6,104.1 379.8,104.1 379.9,104.1 380.1,104.1 380.2,104.1 380.4,104.1 380.6,103.1 380.7,103.2 380.9,104.1M381.5,101.9 381.7,97.7M382.0,104.0 382.2,100.3 382.3,99.8 382.5,100.4 382.6,100.3M383.0,94.0 383.1,94.0 383.3,94.0M383.6,92.9 383.8,90.1 383.9,86.6 384.1,39.1 384.2,83.8 384.4,78.5 384.6,87.5 384.7,99.0 384.9,97.4 385.0,100.0M385.5,103.0 385.7,102.2 385.8,100.4 386.0,101.9 386.2,101.6 386.3,103.2 386.5,103.8 386.6,104.0 386.8,103.8 387.0,104.1 387.1,104.1 387.3,102.4 387.4,100.0M387.8,101.6 387.9,104.0 388.1,103.8 388.2,102.5 388.4,103.3 388.6,104.1 388.7,104.1 388.9,102.3 389.1,101.9 389.2,103.7 389.4,103.9M389.7,104.0 389.9,103.4 390.0,103.3 390.2,103.9 390.3,103.9 390.5,104.1 390.7,104.1M391.1,104.1 391.3,104.1 391.5,104.1 391.6,103.3 391.8,102.8 391.9,104.1 392.1,104.1 392.3,104.1M392.6,103.5 392.7,103.4 392.9,103.4 393.1,102.9 393.2,103.7 393.4,104.1 393.5,101.4M395.0,94.0 395.1,94.0 395.3,97.6 395.5,94.0M396.3,93.7 396.4,87.4 396.6,71.4 396.7,52.0 396.9,81.4 397.1,89.3 397.2,94.0 397.4,94.0 397.5,94.0 397.7,100.3 397.9,102.5 398.0,101.9 398.2,100.5 398.3,99.7 398.5,101.7 398.7,102.5M399.1,100.8 399.3,94.6 399.5,100.8 399.6,103.5M400.4,104.1 400.6,101.8 400.8,102.8 400.9,104.1 401.1,104.1 401.2,104.1 401.4,104.1 401.6,101.7 401.7,101.6 401.9,102.7 402.0,103.6 402.2,104.1 402.4,104.1 402.5,103.3 402.7,101.6 402.8,103.0 403.0,104.0 403.2,104.1 403.3,104.1 403.5,104.1 403.6,103.8 403.8,104.1 404.0,104.1 404.1,104.1M404.6,102.7 404.8,103.4 404.9,102.9 405.1,103.9 405.2,104.0 405.4,104.0 405.6,100.5 405.7,97.3 405.9,103.8 406.0,104.1M407.5,96.4 407.6,94.0 407.8,99.4 408.0,96.6 408.1,101.1 408.3,103.7 408.4,101.8 408.6,97.2 408.8,94.0 408.9,94.2M409.6,99.7 409.7,98.2M410.0,94.0 410.2,96.4 410.4,100.2M411.3,103.3 411.5,101.2 411.6,101.9 411.8,103.8 412.0,103.6 412.1,104.1 412.3,104.1M413.1,104.1 413.3,102.5 413.4,101.1 413.6,104.1 413.7,104.1 413.9,104.1 414.1,102.0 414.2,102.7 414.4,103.3 414.5,104.1 414.7,104.1 414.9,103.9 415.0,104.1 415.2,104.1 415.3,103.8 415.5,104.1 415.7,104.1 415.8,104.1 416.0,103.4 416.1,104.1 416.3,104.1M417.1,104.1 417.3,104.1 417.4,103.9 417.6,102.1 417.7,102.1 417.9,104.1 418.1,103.2 418.2,103.7 418.4,103.9M419.0,103.0 419.2,102.7 419.3,103.3M419.8,103.1 419.8,103.1M420.3,103.9 420.5,103.4 420.6,101.2 420.8,102.4 420.9,104.1 421.1,104.1 421.3,104.1 421.4,102.8 421.6,103.2 421.7,103.9 421.9,103.9 422.1,103.7 422.2,104.1M422.5,101.8 422.7,103.5 422.9,104.1 423.0,104.1 423.2,103.7 423.3,102.2M423.8,104.1 424.0,104.1 424.1,104.1 424.3,104.1 424.5,103.7 424.6,103.1M426.6,103.4 426.7,103.7M427.5,104.1 427.7,104.1 427.8,102.3 428.0,104.0 428.2,104.1 428.3,104.1 428.5,101.7 428.6,103.2 428.8,104.1M429.1,96.5 429.3,99.0 429.4,103.6 429.6,101.5 429.8,101.9 429.9,102.0 430.1,99.2 430.2,100.3 430.4,99.8M432.5,94.0 432.5,94.0M433.0,94.0 433.1,94.0 433.3,94.0 433.4,94.0 433.6,94.0 433.8,97.0 433.9,94.5 434.1,94.0 434.2,100.4 434.4,98.7 434.6,97.5 434.7,101.2 434.9,99.2 435.0,100.4 435.2,97.0 435.4,97.6 435.5,91.4 435.7,100.2 435.8,99.0 436.0,100.8 436.2,102.7 436.3,99.8 436.5,99.5 436.6,103.2 436.8,103.7 437.0,103.2 437.1,102.6 437.3,103.9 437.5,103.5 437.6,103.0 437.8,104.0 437.9,104.1 438.1,103.8 438.3,103.4 438.4,104.1 438.6,103.7 438.7,102.0 438.9,103.7 439.1,104.1 439.2,103.8 439.4,104.1 439.5,104.1 439.7,104.1 439.9,104.1 440.0,103.8 440.2,103.0 440.3,99.3 440.5,100.4 440.7,103.8 440.8,104.1 441.0,104.0 441.1,103.4 441.3,103.9 441.5,101.9 441.6,99.8 441.8,101.1 441.9,100.6 442.1,102.0 442.3,104.0 442.4,104.0 442.6,103.4 442.7,96.0 442.9,98.5 443.1,102.2 443.2,101.9 443.4,100.9 443.5,102.3 443.7,101.3 443.9,94.4 444.0,96.4 444.2,94.7 444.3,56.4 444.5,93.1 444.7,86.2 444.8,96.5 445.0,96.4M445.5,98.0 445.6,100.6 445.8,100.8M448.5,104.1 448.5,104.1M448.8,101.1 449.0,102.9 449.2,104.1M449.5,99.9 449.6,102.6 449.8,104.1M450.3,104.1 450.4,104.1M450.8,102.0 450.9,102.1M451.4,103.6 451.6,103.4 451.7,104.0 451.9,104.1 452.0,104.1 452.2,104.1M452.7,102.8 452.8,103.4 453.0,103.9 453.2,104.1 453.3,103.4 453.5,103.2 453.6,102.7 453.8,101.7 454.0,98.6 454.1,96.4 454.3,97.9M454.9,98.4 455.1,95.1 455.2,100.3 455.4,101.0 455.6,95.1 455.7,96.5 455.9,99.1 456.0,97.0M456.7,102.0 456.8,94.0 457.0,94.0 457.2,96.5 457.3,98.5 457.5,100.1 457.6,94.8 457.8,94.0 458.0,94.0 458.1,94.0 458.3,94.0 458.4,94.0M458.9,96.1 458.9,96.1M459.6,104.0 459.7,102.7 459.9,96.8 460.0,99.3 460.2,100.7 460.4,101.9 460.5,102.8 460.7,102.9 460.9,102.5 461.0,102.4 461.2,101.1 461.3,102.4 461.5,97.3 461.7,94.0 461.8,97.1 462.0,101.7 462.1,101.9 462.3,102.5 462.5,103.2M462.9,103.6 463.1,103.6 463.3,103.8 463.4,103.6 463.6,103.2 463.7,104.0M465.2,103.0 465.3,104.1M465.7,102.4 465.8,103.1 466.0,103.0 466.1,102.8 466.3,101.0 466.5,99.2 466.6,101.0 466.8,103.4 466.9,102.7 467.1,101.4 467.3,100.1M469.5,95.1 469.7,94.0 469.8,94.2 470.0,99.0 470.1,94.0 470.3,94.0 470.5,100.5 470.6,102.3 470.8,101.8 470.9,100.8 471.1,99.9 471.3,100.8 471.4,101.2 471.6,101.7 471.7,100.6M472.4,104.1 472.5,103.8 472.7,103.2 472.9,103.5 473.0,104.1M473.4,104.1 473.4,104.1M474.0,104.1 474.2,104.1 474.3,104.1 474.5,104.0 474.6,102.9 474.8,103.4 475.0,103.4 475.1,101.8 475.3,101.8 475.4,104.1 475.6,104.1 475.8,104.1 475.9,103.7 476.1,103.0 476.2,102.9 476.4,104.1 476.6,104.0 476.7,102.9 476.9,103.2 477.0,102.4 477.2,104.0M478.2,104.1 478.3,104.1M478.6,103.3 478.8,101.4 479.0,101.4 479.1,103.3 479.3,103.0 479.4,101.5 479.6,100.3 479.8,99.5 479.9,100.0 480.1,98.7 480.2,98.8 480.4,102.0 480.6,101.7 480.7,94.0M481.0,94.0 481.0,94.0M483.0,103.4 483.1,101.8 483.3,101.4M483.6,102.7 483.8,101.0 483.9,103.5 484.1,103.8 484.2,101.9 484.4,101.7 484.6,103.2 484.7,104.1M485.4,103.2 485.5,104.1 485.7,104.1 485.9,104.1 486.0,104.1 486.2,104.1 486.3,104.1M487.1,103.6 487.3,104.1M487.6,104.1 487.8,104.1M488.1,104.0 488.3,104.1 488.4,104.1 488.6,103.3M489.9,104.0 490.0,104.1 490.2,103.7 490.3,103.2 490.5,104.0 490.7,103.8 490.8,102.4 491.0,102.8 491.1,101.7 491.3,102.4 491.5,102.9 491.6,100.8 491.8,99.8 491.9,97.3 492.1,101.4 492.3,101.3 492.4,103.1M493.4,102.8 493.5,102.5 493.7,100.6 493.9,102.7 494.0,102.2 494.2,99.8 494.3,98.0 494.5,102.4 494.7,102.4 494.8,101.0 495.0,101.3 495.1,103.0 495.3,104.1 495.5,103.7 495.6,104.1 495.8,104.1 495.9,103.4 496.1,101.8 496.3,102.3 496.4,103.3 496.6,104.1 496.7,102.7 496.9,103.2 497.1,104.1 497.2,104.1 497.4,104.1M498.4,101.6 498.4,101.6M498.7,104.1 498.7,104.1M499.3,104.1 499.5,104.1 499.6,102.8 499.8,103.0 500.0,103.6 500.1,104.0 500.3,104.1 500.4,104.1 500.6,103.5 500.8,103.6 500.9,104.1 501.1,103.9 501.2,101.3 501.4,100.8 501.6,99.7 501.7,98.0 501.9,101.8 502.0,99.9M502.8,103.2 503.0,102.1 503.2,99.3 503.3,94.0 503.5,94.0 503.6,94.0 503.8,94.0 504.0,94.0 504.1,99.3M504.8,94.0 504.9,98.2 505.1,95.3 505.2,94.0 505.4,99.5 505.6,94.5M506.4,103.2 506.4,103.2M506.7,100.6 506.8,99.0M507.5,97.9 507.6,100.5 507.8,103.0 508.0,102.2 508.1,101.8 508.3,100.5M509.6,104.1 509.7,104.1 509.9,104.1 510.1,104.1 510.2,104.1 510.4,104.1 510.5,103.5 510.7,102.8 510.9,101.9M511.5,104.1 511.7,103.6 511.8,102.8 512.0,103.2 512.1,103.8 512.3,103.3 512.5,104.0 512.6,104.1 512.8,104.1 512.9,102.6 513.1,103.8 513.3,104.1 513.4,104.1 513.6,103.7 513.7,101.1 513.9,98.8 514.1,94.0 514.2,100.6 514.4,103.5 514.5,102.6 514.7,103.3 514.9,102.4 515.0,101.3M516.0,97.4 516.1,102.7 516.3,102.6 516.5,102.2 516.6,99.8 516.8,94.0 516.9,94.0 517.1,89.8 517.3,85.5 517.4,100.1 517.6,97.7 517.7,99.3M518.2,101.8 518.4,96.4 518.5,101.5 518.7,103.5 518.9,103.7 519.0,101.1M519.5,101.1 519.7,101.0 519.8,103.6 520.0,103.5 520.1,102.9M522.4,104.1 522.6,104.1 522.7,104.1 522.9,104.1 523.0,103.5M523.5,104.1 523.7,104.0 523.8,104.1 524.0,102.9 524.2,102.7 524.3,104.1 524.5,104.1M525.1,104.1 525.3,103.9 525.4,103.0 525.6,103.4 525.8,103.4 525.9,102.2 526.1,100.5M526.4,99.5 526.4,99.5M526.9,96.4 527.0,102.0 527.2,100.9 527.4,99.3M528.2,94.0 528.3,94.0 528.5,94.0 528.6,94.0 528.8,95.0 529.0,95.2 529.1,100.4 529.3,99.5 529.4,98.2 529.6,85.5 529.8,69.2 529.9,24.8 530.1,87.7 530.2,90.1 530.4,94.9 530.6,100.6 530.7,101.4 530.9,103.0 531.0,100.7 531.2,96.9 531.4,94.0 531.5,94.0 531.7,100.1 531.8,101.1 532.0,103.5 532.2,104.1 532.3,103.2 532.5,100.7 532.6,103.6 532.8,104.1" stroke="#d42430"/>
<path d="M345.5,105.2 345.6,105.2 345.8,105.2 345.9,105.1 346.1,105.1 346.3,104.7 346.4,104.7 346.6,104.9 346.7,104.9 346.9,105.0 347.1,104.4 347.2,104.0 347.4,104.6 347.5,104.8 347.7,104.1 347.9,103.6 348.0,103.2 348.2,101.8 348.3,102.7M348.8,101.9 349.0,103.6 349.1,103.5 349.3,103.3 349.5,103.9 349.6,103.6 349.8,103.6 349.9,103.6 350.1,104.2 350.3,104.8 350.4,105.0 350.6,104.9 350.7,105.1 350.9,105.2 351.1,105.2 351.2,105.2 351.4,105.2 351.5,104.9 351.7,104.9 351.9,105.2 352.0,105.2 352.2,105.2 352.3,105.2 352.5,105.0 352.7,105.0 352.8,105.1 353.0,104.9 353.2,105.2 353.3,105.2 353.5,105.2 353.6,105.2 353.8,105.2 354.0,105.0 354.1,105.1 354.3,105.2 354.4,105.2 354.6,105.2 354.8,105.0 354.9,104.9 355.1,105.2 355.2,105.1 355.4,105.2 355.6,105.2 355.7,105.2 355.9,105.2M356.2,105.2 356.4,105.2 356.5,105.2 356.7,105.2 356.8,105.2M359.1,103.7 359.2,101.6 359.4,102.6 359.6,101.3 359.7,102.2 359.9,102.1 360.0,102.7 360.2,97.2 360.4,93.8 360.5,93.8 360.7,81.8 360.8,74.3 361.0,62.9 361.2,83.8 361.3,89.7 361.5,94.2 361.6,97.6 361.8,101.0 362.0,100.6M362.4,104.1 362.6,104.3 362.8,104.2 362.9,104.6 363.1,105.1 363.2,104.9 363.4,105.1 363.6,105.1 363.7,105.1M364.7,105.2 364.7,105.2M365.3,105.2 365.5,105.2 365.7,105.2M368.5,104.8 368.7,105.0M369.8,104.8 370.0,104.8 370.1,104.9 370.3,104.8 370.5,104.7 370.6,104.6 370.8,104.7 370.9,103.3 371.1,102.2 371.3,103.5 371.4,103.1 371.6,101.1 371.7,93.2 371.9,98.5 372.1,91.8 372.2,72.5 372.4,59.4 372.5,49.5 372.7,81.7 372.9,92.9 373.0,90.3 373.2,95.7 373.3,97.6 373.5,102.9 373.7,102.4 373.8,102.1 374.0,104.1 374.1,103.9 374.3,104.1 374.5,104.5M376.2,105.1 376.4,105.2 376.5,105.2 376.7,105.2 376.9,105.2 377.0,105.2 377.2,105.2 377.4,105.2 377.5,105.2 377.7,105.1 377.8,105.0 378.0,105.0 378.2,105.2 378.3,105.2 378.5,105.0 378.6,104.9 378.8,104.9M380.9,105.2 381.0,105.1 381.2,105.1 381.4,105.0 381.5,105.0 381.7,105.0 381.8,104.7 382.0,104.9M382.8,103.6 383.0,101.0 383.1,99.2 383.3,94.2 383.4,92.9 383.6,96.4 383.8,84.1 383.9,66.7 384.1,40.9 384.2,80.3 384.4,79.2 384.6,93.2M385.0,97.1 385.0,97.1M385.8,104.2 386.0,104.2 386.2,104.7 386.3,104.6 386.5,104.6 386.6,104.8M387.3,105.1 387.4,104.8 387.6,105.1M388.6,105.2 388.7,105.2 388.9,105.2 389.1,105.2M390.3,105.2 390.5,105.1 390.7,104.9 390.8,105.2 391.0,105.2 391.1,105.2 391.3,105.0 391.5,105.1 391.6,105.2 391.8,105.2M392.7,105.1 392.9,105.1 393.1,105.1 393.2,105.2 393.4,105.2 393.5,105.2 393.7,105.2 393.9,105.1 394.0,104.7 394.2,105.0 394.3,104.9 394.5,104.9 394.7,104.6 394.8,104.7 395.0,104.4 395.1,103.8 395.3,104.0 395.5,102.8 395.6,101.5 395.8,98.4 395.9,100.9 396.1,96.0 396.3,88.2 396.4,84.3 396.6,87.5 396.7,54.8 396.9,77.6 397.1,96.4 397.2,88.2 397.4,94.7 397.5,96.9 397.7,100.7 397.9,103.5 398.0,104.0 398.2,103.9 398.3,103.7 398.5,104.3 398.7,104.8M402.2,105.2 402.4,105.2 402.5,105.2 402.7,105.2M403.0,105.2 403.0,105.2M403.5,105.2 403.5,105.2M405.4,105.2 405.6,105.2 405.7,105.2 405.9,105.2 406.0,105.2 406.2,105.0 406.4,104.9 406.5,104.9 406.7,104.4 406.8,104.5 407.0,104.7 407.2,104.6 407.3,104.7 407.5,103.7 407.6,102.7 407.8,103.7M408.8,103.3 408.9,104.2 409.1,104.8 409.2,104.3 409.4,103.3 409.6,104.1 409.7,104.6 409.9,104.8 410.0,105.1 410.2,105.1 410.4,105.0 410.5,105.0 410.7,104.9 410.8,105.1 411.0,105.2 411.2,105.2 411.3,105.2 411.5,105.2 411.6,105.2 411.8,105.2 412.0,105.2M412.6,105.2 412.8,105.2 412.9,105.1 413.1,105.2 413.3,105.2 413.4,105.2 413.6,105.2 413.7,105.2 413.9,105.1 414.1,105.2 414.2,105.2 414.4,105.2 414.5,105.2 414.7,105.0 414.9,105.1M415.2,105.2 415.3,105.2 415.5,105.2 415.7,105.0 415.8,105.2 416.0,105.2 416.1,105.2 416.3,105.2 416.5,105.2 416.6,105.2 416.8,105.2 416.9,105.0 417.1,105.1 417.3,105.2M417.9,104.8 418.1,104.9 418.2,105.1 418.4,105.1 418.5,104.6M419.5,104.4 419.7,104.3 419.8,103.2 420.0,101.5 420.1,102.6 420.3,102.6 420.5,98.5 420.6,98.3 420.8,101.8 420.9,97.8 421.1,99.4 421.3,103.1 421.4,100.6 421.6,100.4 421.7,104.1 421.9,104.6 422.1,104.9 422.2,104.9 422.4,104.5 422.5,104.9 422.7,104.8 422.9,104.0 423.0,104.5M424.5,105.2 424.6,105.2 424.8,104.9M425.6,105.0 425.8,105.1 425.9,105.2 426.1,104.8M427.4,105.1 427.5,105.1 427.7,105.2 427.8,105.2 428.0,105.2 428.2,105.2 428.3,105.2 428.5,105.2 428.6,105.1 428.8,105.1 429.0,105.2 429.1,105.2 429.3,105.2 429.4,105.2 429.6,105.2 429.8,105.2 429.9,105.1 430.1,105.1 430.2,105.2 430.4,105.1 430.6,104.3 430.7,103.3 430.9,104.1 431.0,104.5 431.2,103.6 431.4,102.6 431.5,104.1 431.7,104.1 431.8,100.2 432.0,101.6 432.2,103.1 432.3,101.9 432.5,101.9M432.8,102.4 433.0,104.1 433.1,103.8M435.8,105.2 435.8,105.2M437.1,105.2 437.3,104.9 437.5,104.9 437.6,105.2 437.8,105.2 437.9,105.2 438.1,105.2 438.3,105.2 438.4,105.2 438.6,105.0 438.7,105.2M439.1,105.2 439.2,105.1 439.4,104.7 439.5,105.0 439.7,105.2 439.9,105.1 440.0,104.9 440.2,105.0 440.3,105.0 440.5,105.2 440.7,105.2 440.8,105.2 441.0,105.2 441.1,105.1 441.3,105.2 441.5,105.2 441.6,105.1 441.8,105.2 441.9,105.2 442.1,105.1 442.3,105.2 442.4,105.2 442.6,105.1 442.7,104.7 442.9,105.1 443.1,105.0 443.2,104.9 443.4,104.7 443.5,103.6 443.7,103.5 443.9,104.2 444.0,104.6 444.2,103.3 444.3,103.6 444.5,103.7 444.7,102.8 444.8,103.1 445.0,103.6 445.1,103.4 445.3,102.6 445.5,102.6 445.6,100.3 445.8,102.4 445.9,104.3 446.1,104.8 446.3,104.4 446.4,104.3 446.6,104.8 446.7,105.0 446.9,105.2 447.1,105.1 447.2,105.0 447.4,105.1 447.5,105.1 447.7,105.1 447.9,105.1 448.0,105.1 448.2,105.2 448.3,105.2 448.5,105.1 448.7,105.1M449.2,105.2 449.3,105.1 449.5,105.2 449.6,105.1 449.8,105.1 450.0,105.2 450.1,104.9 450.3,105.2 450.4,105.2 450.6,105.0 450.8,105.1 450.9,105.2 451.1,105.2 451.2,105.2 451.4,105.1 451.6,105.2 451.7,105.2M453.6,105.2 453.8,105.1 454.0,105.2 454.1,105.2 454.3,105.1 454.4,105.1 454.6,104.8 454.8,104.1 454.9,104.1 455.1,104.3 455.2,104.0 455.4,103.4 455.6,101.6 455.7,102.7 455.9,104.4 456.0,103.9 456.2,102.5 456.4,102.2 456.5,102.2 456.7,104.0 456.8,104.4 457.0,103.5 457.2,104.0M458.1,104.7 458.3,103.2 458.4,103.8 458.6,104.7 458.8,105.1 458.9,105.1 459.1,104.8 459.2,105.2 459.4,105.2M460.5,105.2 460.7,105.2 460.9,105.0 461.0,105.2 461.2,105.1M462.1,105.2 462.1,105.2M462.5,105.2 462.6,105.2 462.8,105.2 462.9,105.1 463.1,105.1M466.0,105.2 466.1,105.2 466.3,105.1 466.5,105.0 466.6,104.7M467.1,103.2 467.3,103.4 467.4,103.0 467.6,103.8 467.7,103.0 467.9,102.2M470.6,104.4 470.8,104.6 470.9,105.0M471.3,105.1 471.4,105.2 471.6,105.2 471.7,105.2 471.9,105.2 472.1,105.1 472.2,105.2 472.4,105.2 472.5,105.2 472.7,105.2M473.5,105.0 473.7,105.1 473.8,105.1 474.0,105.2 474.2,105.2 474.3,105.2 474.5,105.2 474.6,105.2 474.8,105.2 475.0,105.2 475.1,105.2 475.3,105.2 475.4,105.1 475.6,105.2 475.8,105.0 475.9,105.0 476.1,105.1 476.2,105.0 476.4,105.1 476.6,105.2 476.7,105.2 476.9,105.2 477.0,105.2 477.2,105.2 477.4,105.2 477.5,105.1 477.7,105.0 477.8,105.0 478.0,105.0 478.2,105.0M480.2,93.2 480.4,97.3 480.6,97.0 480.7,95.5 480.9,97.0 481.0,99.9 481.2,101.8 481.4,101.3 481.5,101.2 481.7,102.1 481.8,103.7 482.0,104.3 482.2,103.6 482.3,103.6M483.1,105.1 483.3,105.1 483.4,104.8 483.6,105.1 483.8,105.2 483.9,105.2 484.1,105.2 484.2,105.0M484.7,105.2 484.9,105.1 485.1,105.2 485.2,105.2 485.4,105.2 485.5,105.2 485.7,105.2 485.9,105.0M486.2,105.1 486.3,105.2 486.5,105.2 486.7,105.2 486.8,105.2 487.0,105.2 487.1,105.0 487.3,105.0 487.5,105.0 487.6,105.1M488.6,105.2 488.7,105.2 488.9,104.9 489.1,104.9M489.7,105.2 489.9,105.2 490.0,105.2 490.2,105.2 490.3,104.9 490.5,104.5 490.7,104.7 490.8,104.9 491.0,104.8 491.1,104.2M491.5,103.7 491.6,102.3 491.8,101.5 491.9,103.6 492.1,103.1 492.3,99.2 492.4,96.3 492.6,96.3 492.7,99.8M494.0,102.8 494.2,99.5 494.3,103.2M495.9,105.2 495.9,105.2M497.4,105.2 497.6,105.2 497.7,105.1 497.9,104.9 498.0,105.1 498.2,105.2 498.4,105.2 498.5,105.2 498.7,105.2 498.8,105.2 499.0,105.2M499.6,105.2 499.8,105.2 500.0,105.2 500.1,105.1 500.3,105.2 500.4,105.2 500.6,105.2 500.8,105.2 500.9,105.2 501.1,105.2 501.2,105.1 501.4,105.1 501.6,105.2 501.7,105.2 501.9,105.1 502.0,105.1 502.2,105.2 502.4,105.1 502.5,105.1 502.7,104.7 502.8,104.8 503.0,104.6 503.2,104.8 503.3,104.9 503.5,104.3M504.4,103.3 504.4,103.3M507.6,105.1 507.8,105.2 508.0,105.2 508.1,105.2 508.3,105.2 508.4,105.1 508.6,105.1 508.8,105.0 508.9,105.0 509.1,105.2 509.3,105.2 509.4,105.2 509.6,105.2 509.7,105.2 509.9,105.2 510.1,105.1 510.2,105.0 510.4,105.2 510.5,105.2 510.7,105.2 510.9,105.2 511.0,105.2 511.2,105.2 511.3,105.1M513.3,105.2 513.4,105.2 513.6,105.2 513.7,105.2 513.9,105.2 514.1,105.0 514.2,105.0 514.4,105.1 514.5,105.0 514.7,105.2 514.9,104.5 515.0,103.0 515.2,104.3 515.3,104.4 515.5,104.1 515.7,104.1 515.8,103.5 516.0,101.5 516.1,102.1M516.8,102.1 516.9,103.0 517.1,99.6 517.3,97.3 517.4,98.1 517.6,100.4 517.7,103.4M518.5,104.8 518.5,104.8M519.0,104.6 519.2,105.1 519.3,105.1 519.5,105.1 519.7,105.1M520.8,105.1 521.0,105.2 521.1,105.2 521.3,105.2M521.8,105.1 521.9,105.1 522.1,105.2 522.2,105.2 522.4,104.7 522.6,105.1M522.9,104.8 523.0,105.0 523.2,105.2 523.4,105.2 523.5,105.2 523.7,105.2 523.8,105.1 524.0,105.1 524.2,105.2 524.3,105.2 524.5,105.2 524.6,105.2M528.8,96.7 528.8,96.7M529.4,100.3 529.6,98.8 529.8,100.9 529.9,90.7 530.1,95.0 530.2,100.6 530.4,102.0 530.6,102.6 530.7,103.8 530.9,104.2 531.0,104.3 531.2,104.5 531.4,104.7 531.5,105.0 531.7,105.0 531.8,105.0 532.0,105.0 532.2,105.1 532.3,105.1 532.5,105.2 532.6,105.2 532.8,105.2M529.9,33.5 529.9,63.6" stroke="#2c20b4"/>
<path d="M320.5,104.5 320.6,104.1 320.8,104.3 320.9,104.5 321.1,103.4 321.3,103.8 321.4,104.5 321.6,104.4M321.9,102.0 322.1,103.6 322.2,104.0 322.4,103.4M323.0,102.5 323.2,102.7 323.3,101.6 323.5,99.3 323.7,96.8 323.8,101.0 324.0,101.9 324.1,99.3 324.3,100.1 324.5,97.3 324.6,82.3 324.8,74.5 324.9,97.0 325.1,98.7 325.3,96.4 325.4,97.5 325.6,101.5 325.7,101.1 325.9,101.9 326.1,102.4 326.2,102.6 326.4,102.9 326.5,104.0M327.7,104.4 327.8,104.4 328.0,104.4 328.1,104.5 328.3,104.5 328.5,104.5 328.6,104.5 328.8,104.5 329.0,104.5 329.1,104.5 329.3,104.4 329.4,104.5 329.6,104.5 329.8,104.5 329.9,104.3 330.1,104.4 330.2,104.3 330.4,103.7 330.6,103.8 330.7,104.2 330.9,104.4 331.0,104.1 331.2,104.5 331.4,104.5M331.7,104.4 331.7,104.4M333.1,104.4 333.3,104.3 333.4,104.3 333.6,104.3 333.8,104.3 333.9,104.1 334.1,104.1 334.2,104.0 334.4,104.2 334.6,103.1 334.7,102.5 334.9,102.3 335.0,101.7 335.2,102.6 335.4,102.5 335.5,102.7 335.7,101.1 335.8,99.3 336.0,100.8 336.2,98.9 336.3,101.4 336.5,98.0 336.6,86.0 336.8,85.9 337.0,73.6 337.1,86.7 337.3,94.1 337.4,89.1 337.6,97.7 337.8,95.8 337.9,95.9 338.1,101.0 338.2,102.2 338.4,101.4 338.6,101.2 338.7,101.5 338.9,101.4 339.0,102.0 339.2,102.9 339.4,102.6 339.5,103.0 339.7,103.6 339.8,103.8 340.0,103.8 340.2,103.9 340.3,103.8 340.5,104.2M341.8,104.4 341.9,104.4 342.1,104.1 342.3,104.2 342.4,104.4 342.6,104.4 342.7,104.4 342.9,104.3 343.1,104.3M344.0,104.4 344.2,104.1M344.5,103.7 344.7,103.5 344.8,103.8 345.0,104.0 345.1,103.8 345.3,103.9 345.5,103.5M347.2,100.2 347.4,100.0 347.5,95.4 347.7,98.0 347.9,100.6 348.0,90.4 348.2,81.0 348.3,90.0 348.5,80.9 348.7,58.4 348.8,75.5 349.0,80.9 349.1,86.8 349.3,90.9 349.5,90.0 349.6,93.3 349.8,94.7 349.9,97.0 350.1,99.5 350.3,97.7 350.4,99.1 350.6,101.3 350.7,99.7 350.9,101.5 351.1,102.8 351.2,101.3 351.4,101.8 351.5,103.3 351.7,103.3 351.9,103.2 352.0,102.9 352.2,103.9 352.3,103.2 352.5,103.8 352.7,103.7 352.8,104.1 353.0,103.9 353.2,104.2 353.3,104.0 353.5,104.0 353.6,104.0 353.8,104.0 354.0,104.2 354.1,104.3 354.3,104.4 354.4,104.4 354.6,104.4 354.8,104.3 354.9,104.3 355.1,104.4 355.2,104.4M356.7,102.8 356.7,102.8M357.0,104.2 357.0,104.2M357.6,104.2 357.8,104.2 358.0,104.3 358.1,104.2 358.3,104.2 358.4,104.3 358.6,104.0 358.8,104.2 358.9,103.3 359.1,103.9 359.2,103.9 359.4,102.4 359.6,102.9 359.7,101.0 359.9,103.0 360.0,100.0 360.2,100.4 360.4,98.8 360.5,96.1 360.7,98.3 360.8,93.6 361.0,78.1 361.2,91.0 361.3,95.5 361.5,101.9M362.1,101.2 362.3,103.7 362.4,102.8 362.6,103.7 362.8,103.1 362.9,103.7 363.1,103.7 363.2,103.6 363.4,104.0 363.6,104.3 363.7,104.3 363.9,103.8 364.0,103.7 364.2,104.2 364.4,104.0 364.5,104.2 364.7,104.4 364.9,104.4 365.0,104.2 365.2,102.8 365.3,103.8 365.5,104.3 365.7,104.2 365.8,104.1 366.0,103.8 366.1,103.9 366.3,104.3 366.5,104.5 366.6,104.5 366.8,104.5 366.9,104.5 367.1,104.5 367.3,104.5 367.4,104.5 367.6,104.5 367.7,104.4 367.9,104.5 368.1,104.3 368.2,104.4 368.4,104.4 368.5,104.4 368.7,104.2 368.9,104.3 369.0,104.3 369.2,104.3 369.3,104.2 369.5,103.5 369.7,103.7 369.8,103.9 370.0,104.1 370.1,103.6 370.3,103.8 370.5,102.9 370.6,102.6 370.8,102.5 370.9,102.1 371.1,103.1 371.3,100.5 371.4,103.0M372.1,100.6 372.2,97.6 372.4,86.7 372.5,79.3 372.7,96.0 372.9,93.7 373.0,95.0 373.2,99.3 373.3,99.2 373.5,100.3 373.7,100.7 373.8,101.8 374.0,101.8 374.1,103.0 374.3,102.8 374.5,103.8 374.6,104.0 374.8,103.5 374.9,103.7 375.1,103.9 375.3,104.2 375.4,103.9 375.6,104.4 375.7,104.4 375.9,104.4 376.1,104.3 376.2,104.3 376.4,104.4 376.5,104.4 376.7,104.4 376.9,103.6 377.0,104.3 377.2,104.4 377.4,104.1 377.5,104.4 377.7,104.4 377.8,104.4 378.0,104.4 378.2,104.4 378.3,104.0 378.5,104.2 378.6,104.3 378.8,104.4 379.0,104.3 379.1,104.4 379.3,104.2 379.4,104.1 379.6,104.0 379.8,103.9 379.9,104.0 380.1,104.1 380.2,104.0 380.4,104.2 380.6,104.0 380.7,103.5 380.9,103.9 381.0,104.0 381.2,102.8 381.4,103.0 381.5,103.2 381.7,103.3 381.8,101.9 382.0,102.2 382.2,101.2 382.3,102.6 382.5,99.8 382.6,100.5 382.8,97.5 383.0,95.1 383.1,96.3 383.3,91.3 383.4,100.4 383.6,84.3 383.8,93.2 383.9,68.5 384.1,56.4 384.2,87.1 384.4,80.9 384.6,81.2 384.7,94.5 384.9,89.1M385.4,97.0 385.5,97.2 385.7,100.0 385.8,100.2 386.0,102.9 386.2,102.7 386.3,100.7 386.5,101.3 386.6,101.7 386.8,103.1 387.0,103.2 387.1,102.4 387.3,102.4 387.4,102.8 387.6,103.6 387.8,103.3 387.9,103.3 388.1,103.8 388.2,103.9 388.4,104.1 388.6,104.2 388.7,103.9 388.9,104.1 389.1,103.7 389.2,104.3 389.4,104.2 389.5,104.2 389.7,104.4 389.9,104.4 390.0,104.3 390.2,104.4 390.3,104.4 390.5,104.3 390.7,104.4 390.8,103.3 391.0,103.0 391.1,103.8 391.3,104.4 391.5,104.4 391.6,103.7 391.8,104.0 391.9,104.4 392.1,104.4 392.3,104.4 392.4,104.4 392.6,104.4 392.7,104.4 392.9,104.4M393.9,104.3 394.0,104.2 394.2,104.4 394.3,104.2 394.5,103.8 394.7,104.1 394.8,103.4 395.0,103.0 395.1,102.5 395.3,102.1 395.5,100.9 395.6,101.4M395.9,100.4 396.1,102.0 396.3,101.8 396.4,97.6 396.6,101.3 396.7,89.1 396.9,93.0 397.1,96.0 397.2,99.7 397.4,100.4 397.5,101.8 397.7,103.4 397.9,101.3 398.0,102.3 398.2,103.2 398.3,103.1 398.5,104.0 398.7,103.6 398.8,103.9 399.0,104.1 399.1,104.0 399.3,104.3 399.5,104.2 399.6,104.4 399.8,104.0 399.9,104.1 400.1,104.2 400.3,103.7 400.4,104.4 400.6,104.4 400.8,104.4 400.9,104.5 401.1,104.3 401.2,104.3 401.4,104.5 401.6,104.3 401.7,103.7 401.9,104.1 402.0,103.3 402.2,103.9 402.4,104.5 402.5,104.4 402.7,104.4 402.8,104.4 403.0,104.4 403.2,104.4 403.3,104.4 403.5,104.4 403.6,104.4 403.8,104.4 404.0,104.3 404.1,104.2M404.9,104.3 405.1,104.0 405.2,103.7 405.4,103.2 405.6,103.5 405.7,103.9 405.9,104.2 406.0,103.7 406.2,103.2 406.4,103.7M406.7,102.4 406.8,103.1 407.0,103.6 407.2,102.7 407.3,102.2 407.5,100.7 407.6,99.7 407.8,98.8 408.0,99.7 408.1,90.4 408.3,91.4 408.4,89.1 408.6,73.1 408.8,73.9 408.9,55.6 409.1,42.7 409.2,67.4 409.4,74.0 409.6,80.7 409.7,88.1 409.9,97.4 410.0,95.7 410.2,97.7M410.5,101.6 410.7,101.3 410.8,102.0 411.0,102.9M411.5,103.2 411.6,103.0M413.4,104.3 413.6,104.1 413.7,104.3 413.9,104.1 414.1,103.7 414.2,104.0 414.4,104.4 414.5,104.3 414.7,104.4 414.9,104.4 415.0,104.2 415.2,104.4 415.3,104.4 415.5,104.5 415.7,104.4 415.8,104.0 416.0,103.7 416.1,104.1 416.3,103.9 416.5,103.6 416.6,104.4 416.8,104.4 416.9,104.5 417.1,104.5 417.3,104.2 417.4,104.3 417.6,104.5 417.7,104.5 417.9,104.2 418.1,104.2 418.2,104.0 418.4,103.5 418.5,103.6 418.7,102.6 418.9,101.7 419.0,97.9 419.2,99.1M419.7,100.5 419.8,99.7 420.0,99.0 420.1,97.0 420.3,97.2 420.5,99.3 420.6,98.8 420.8,93.2 420.9,97.7 421.1,97.6 421.3,93.2 421.4,93.4 421.6,94.1 421.7,93.7 421.9,80.3 422.1,92.3 422.2,91.4 422.4,100.7 422.5,97.2 422.7,100.2 422.9,101.3 423.0,102.6 423.2,102.7 423.3,103.9 423.5,103.4 423.7,103.3 423.8,103.7 424.0,104.1 424.1,103.9 424.3,104.1 424.5,104.3 424.6,104.3 424.8,104.3 425.0,104.3 425.1,103.6 425.3,104.0 425.4,104.5 425.6,104.4 425.8,104.2 425.9,104.3 426.1,104.5 426.2,104.5 426.4,104.5 426.6,104.5 426.7,104.5 426.9,104.5 427.0,104.5 427.2,104.5 427.4,104.5 427.5,104.4M428.3,103.9 428.5,103.7 428.6,104.4 428.8,104.5 429.0,103.9 429.1,104.4 429.3,104.4 429.4,104.2 429.6,103.6 429.8,103.7 429.9,104.4 430.1,104.4M430.7,103.9 430.9,103.1 431.0,103.2 431.2,103.7 431.4,103.2 431.5,101.7 431.7,101.3M432.2,102.8 432.3,101.6 432.5,102.0 432.6,96.5 432.8,99.2 433.0,101.6 433.1,103.0 433.3,102.2 433.4,102.6 433.6,103.5 433.8,102.9 433.9,102.1 434.1,103.1 434.2,103.4 434.4,103.3 434.6,103.9 434.7,104.3M435.5,104.2 435.7,104.0 435.8,104.2 436.0,104.5 436.2,104.4 436.3,104.1 436.5,104.5 436.6,104.3 436.8,104.0 437.0,104.2 437.1,104.5 437.3,104.5 437.5,104.1 437.6,103.6 437.8,104.2 437.9,104.5 438.1,104.5 438.3,104.4 438.4,104.4 438.6,104.4 438.7,104.4 438.9,104.4 439.1,104.4 439.2,104.4 439.4,104.2M439.7,104.4 439.9,104.4 440.0,104.3 440.2,104.4 440.3,104.3 440.5,104.3 440.7,104.3 440.8,104.1 441.0,104.0M441.9,103.8 442.1,103.5 442.3,103.5 442.4,103.6 442.6,103.4 442.7,103.7 442.9,102.2 443.1,101.1 443.2,98.6 443.4,101.9 443.5,98.6 443.7,96.4 443.9,94.8 444.0,85.4 444.2,86.9 444.3,65.7 444.5,92.8 444.7,85.8 444.8,93.8 445.0,94.3 445.1,96.8 445.3,98.2M445.8,101.7 445.8,101.7M448.5,104.3 448.7,104.3 448.8,104.4 449.0,104.4 449.2,104.4 449.3,104.4 449.5,104.4 449.6,103.9M450.3,104.4 450.4,104.5 450.6,104.4 450.8,104.4 450.9,104.4 451.1,104.4 451.2,104.1M451.6,104.4 451.7,104.5 451.9,104.5 452.0,104.0 452.2,104.4 452.4,104.4 452.5,104.5 452.7,104.5 452.8,104.5 453.0,104.5 453.2,104.4 453.3,103.6 453.5,103.5 453.6,104.3 453.8,103.8 454.0,103.9 454.1,103.5 454.3,102.6 454.4,103.7 454.6,103.5 454.8,102.9 454.9,101.8 455.1,101.0 455.2,100.3 455.4,101.4 455.6,102.0M456.2,95.2 456.4,93.2 456.5,94.5 456.7,95.8 456.8,93.5 457.0,91.5 457.2,89.6 457.3,99.7 457.5,99.6 457.6,98.3 457.8,97.7 458.0,98.6 458.1,97.8 458.3,98.9 458.4,101.9 458.6,102.2M459.9,104.4 460.0,104.4M460.9,104.5 461.0,104.5 461.2,104.5 461.3,104.5 461.5,104.5 461.7,104.5M462.1,104.5 462.3,104.5 462.5,104.5 462.6,104.2M464.5,104.5 464.7,104.3 464.9,104.5 465.0,104.5 465.2,104.1 465.3,104.4 465.5,104.5 465.7,104.4 465.8,104.4 466.0,103.9 466.1,103.9 466.3,104.5 466.5,104.3 466.6,103.6 466.8,103.6 466.9,104.3 467.1,104.3 467.3,104.2 467.4,104.0 467.6,104.1 467.7,103.9 467.9,103.6 468.1,103.9 468.2,102.8 468.4,103.4 468.5,103.3 468.7,101.4 468.9,100.1 469.0,101.9 469.2,100.7 469.3,99.2 469.5,95.5 469.7,87.3 469.8,96.7 470.0,97.7 470.1,102.5 470.3,99.3 470.5,101.8 470.6,102.2 470.8,103.6 470.9,103.9 471.1,103.9 471.3,104.2 471.4,104.1 471.6,104.3 471.7,104.4 471.9,104.3 472.1,104.3 472.2,104.1 472.4,104.2 472.5,104.3 472.7,104.4 472.9,104.4 473.0,104.4 473.2,104.1 473.4,104.3 473.5,104.5 473.7,104.5 473.8,104.5 474.0,104.3 474.2,104.1 474.3,104.1 474.5,103.7 474.6,103.9 474.8,104.5 475.0,104.5 475.1,104.3 475.3,104.2 475.4,104.5 475.6,104.5 475.8,104.5 475.9,104.3 476.1,104.5 476.2,104.5 476.4,104.5 476.6,104.5 476.7,104.5 476.9,104.5 477.0,104.5 477.2,104.3 477.4,103.9 477.5,104.0 477.7,104.3M478.6,102.4 478.8,102.9 479.0,103.3 479.1,102.4 479.3,103.3 479.4,101.6 479.6,95.3 479.8,96.2 479.9,96.5 480.1,99.6 480.2,102.7 480.4,101.2 480.6,99.0 480.7,99.2 480.9,99.8 481.0,95.6 481.2,96.0 481.4,98.4 481.5,100.6 481.7,97.6 481.8,95.6 482.0,100.2 482.2,102.6 482.3,103.8 482.5,103.8 482.6,104.1 482.8,103.2 483.0,103.4 483.1,103.8 483.3,103.8 483.4,103.6 483.6,104.4 483.8,104.4 483.9,104.4 484.1,104.0 484.2,104.2 484.4,104.5 484.6,104.3 484.7,104.0 484.9,104.5 485.1,104.5M485.5,104.5 485.7,104.1 485.9,103.5 486.0,104.2 486.2,104.5 486.3,104.5 486.5,104.5 486.7,104.5 486.8,104.5 487.0,104.5 487.1,103.9 487.3,103.6 487.5,104.4 487.6,104.5 487.8,104.5 487.9,104.5 488.1,104.5 488.3,104.5 488.4,104.5 488.6,104.5 488.7,104.5 488.9,104.5 489.1,104.4 489.2,103.7 489.4,103.3 489.5,104.1 489.7,104.5 489.9,104.3M490.2,103.6 490.3,103.2 490.5,103.5 490.7,102.6 490.8,101.4 491.0,101.0 491.1,101.5 491.3,102.2 491.5,101.5 491.6,101.5 491.8,102.4 491.9,102.1 492.1,102.2 492.3,101.9 492.4,97.4M492.9,100.5 493.1,100.0 493.2,101.0 493.4,93.4 493.5,99.6 493.7,100.6 493.9,102.5 494.0,102.2 494.2,101.0 494.3,101.4 494.5,102.7 494.7,103.1 494.8,103.6 495.0,104.1 495.1,103.0 495.3,102.4 495.5,104.2M495.9,104.2 496.1,104.0 496.3,104.4 496.4,104.4 496.6,104.5 496.7,104.4 496.9,104.5 497.1,104.5M498.5,103.7 498.7,104.0M499.0,104.5 499.2,104.5 499.3,104.5 499.5,104.3 499.6,104.3 499.8,104.5 500.0,104.5 500.1,104.5 500.3,104.5M500.9,104.2 501.1,104.5 501.2,104.5 501.4,104.5 501.6,104.4 501.7,104.0 501.9,104.0 502.0,104.3 502.2,104.1 502.4,104.2 502.5,104.0 502.7,104.3 502.8,104.2 503.0,104.4 503.2,104.2 503.3,104.2 503.5,103.9 503.6,104.0 503.8,103.5 504.0,102.9 504.1,100.8 504.3,101.3 504.4,103.6 504.6,100.0 504.8,99.7 504.9,101.2 505.1,102.0 505.2,98.2 505.4,86.2 505.6,99.1 505.7,95.7 505.9,96.6 506.0,100.1 506.2,99.7 506.4,103.2 506.5,101.8 506.7,102.6 506.8,101.2 507.0,100.0 507.2,97.2 507.3,98.4 507.5,95.1 507.6,85.9 507.8,77.8 508.0,88.8 508.1,91.5 508.3,101.7M509.6,103.7 509.7,103.6 509.9,104.0 510.1,103.9 510.2,104.2 510.4,104.4 510.5,104.4 510.7,104.3 510.9,104.4 511.0,104.2 511.2,103.9 511.3,104.1 511.5,104.1 511.7,104.1 511.8,104.4M512.1,104.5 512.3,104.5 512.5,104.5 512.6,104.4 512.8,104.0 512.9,103.8 513.1,104.3 513.3,104.4M513.7,103.5 513.9,103.7 514.1,103.8 514.2,102.8 514.4,102.7 514.5,103.8 514.7,103.8M515.2,100.9 515.3,101.1 515.5,98.2 515.7,96.4 515.8,98.8 516.0,101.6 516.1,101.9 516.3,100.6M516.8,99.3 516.9,94.2 517.1,96.8 517.3,97.3 517.4,100.9 517.6,99.6 517.7,98.8 517.9,99.1 518.1,101.7 518.2,103.0 518.4,102.9 518.5,103.7 518.7,104.3 518.9,103.2 519.0,103.0 519.2,103.7 519.3,103.9 519.5,104.4 519.7,104.4M520.3,104.5 520.5,104.1 520.6,104.1 520.8,103.9 521.0,104.0 521.1,104.5 521.3,104.5 521.4,104.4 521.6,104.3 521.8,104.1 521.9,103.8 522.1,103.8 522.2,104.3 522.4,104.5 522.6,104.5 522.7,104.2 522.9,103.3 523.0,103.7 523.2,104.3 523.4,104.5 523.5,104.5 523.7,104.4 523.8,104.5 524.0,104.4M524.3,104.5 524.5,104.4 524.6,104.2 524.8,104.3 525.0,104.5 525.1,104.5 525.3,104.5 525.4,104.5 525.6,104.5 525.8,103.8 525.9,104.2 526.1,104.5 526.2,104.1 526.4,103.6 526.6,104.4 526.7,104.0 526.9,101.8 527.0,101.9 527.2,102.5M527.8,101.7 528.0,102.2 528.2,102.6 528.3,102.4 528.5,102.4 528.6,102.3 528.8,102.1 529.0,101.1 529.1,102.0 529.3,102.1 529.4,98.5 529.6,99.4 529.8,102.1 529.9,103.1 530.1,103.3 530.2,103.7 530.4,103.5M530.9,103.1 531.0,103.3 531.2,102.8 531.4,102.9 531.5,102.3 531.7,102.3 531.8,104.1 532.0,104.3 532.2,103.9 532.3,104.1 532.5,104.2 532.6,104.0 532.8,103.8" stroke="#000000"/>
</g>
<path d="M340.5,23.7v2.2M340.5,108.7v-2.2M364.5,23.7v2.2M364.5,108.7v-2.2M388.6,23.7v2.2M388.6,108.7v-2.2M412.6,23.7v2.2M412.6,108.7v-2.2M436.6,23.7v2.2M436.6,108.7v-2.2M460.7,23.7v2.2M460.7,108.7v-2.2M484.7,23.7v2.2M484.7,108.7v-2.2M508.8,23.7v2.2M508.8,108.7v-2.2M316.4,105.5h2.2M532.8,105.5h-2.2M316.4,89.1h2.2M532.8,89.1h-2.2M316.4,72.8h2.2M532.8,72.8h-2.2M316.4,56.4h2.2M532.8,56.4h-2.2M316.4,40.0h2.2M532.8,40.0h-2.2" stroke="#000" stroke-width="1" fill="none"/>
<rect x="316.4" y="23.7" width="216.4" height="85.0" fill="none" stroke="#222" stroke-width="1.3"/>
<text x="316.4" y="120.8" font-size="9.3" text-anchor="middle">2000</text>
<text x="340.5" y="120.8" font-size="9.3" text-anchor="middle">2002</text>
<text x="364.5" y="120.8" font-size="9.3" text-anchor="middle">2004</text>
<text x="388.6" y="120.8" font-size="9.3" text-anchor="middle">2006</text>
<text x="412.6" y="120.8" font-size="9.3" text-anchor="middle">2008</text>
<text x="436.6" y="120.8" font-size="9.3" text-anchor="middle">2010</text>
<text x="460.7" y="120.8" font-size="9.3" text-anchor="middle">2012</text>
<text x="484.7" y="120.8" font-size="9.3" text-anchor="middle">2014</text>
<text x="508.8" y="120.8" font-size="9.3" text-anchor="middle">2016</text>
<text x="532.8" y="120.8" font-size="9.3" text-anchor="middle">2018</text>
<text x="313.3" y="109.2" font-size="9.3" text-anchor="end">0</text>
<text x="313.3" y="92.9" font-size="9.3" text-anchor="end">1</text>
<text x="313.3" y="76.5" font-size="9.3" text-anchor="end">2</text>
<text x="313.3" y="60.2" font-size="9.3" text-anchor="end">3</text>
<text x="313.3" y="43.8" font-size="9.3" text-anchor="end">4</text>
<text x="313.3" y="27.5" font-size="9.3" text-anchor="end">5</text>
<text x="424.6" y="16.8" font-size="11.5" text-anchor="middle">Alta Floresta - AF</text>
<text x="424.6" y="134.5" font-size="11.6" text-anchor="middle">Date</text>
<text transform="translate(301.4,66.6) rotate(-90)" font-size="11.3" text-anchor="middle">AOD</text>
<text x="325.8" y="41.5" font-size="10.2" font-weight="bold">b)</text>
<path d="M55.6,168.7V253.7M79.7,168.7V253.7M103.7,168.7V253.7M127.8,168.7V253.7M151.8,168.7V253.7M175.8,168.7V253.7M199.9,168.7V253.7M223.9,168.7V253.7M31.6,250.4H248.0M31.6,234.1H248.0M31.6,217.8H248.0M31.6,201.4H248.0M31.6,185.0H248.0" stroke="#ababab" stroke-width="1" stroke-dasharray="1.3,2.2" fill="none"/>
<clipPath id="cc"><rect x="31.6" y="168.7" width="216.4" height="85.0"/></clipPath>
<g clip-path="url(#cc)" fill="none" stroke-width="1.6" stroke-linejoin="round">
<path d="M62.4,243.8 62.5,242.4 62.7,241.5 62.9,236.9 63.0,239.0 63.2,226.7 63.3,230.1 63.5,207.9 63.7,223.1 63.8,230.4 64.0,212.9 64.1,188.3 64.3,221.2 64.5,231.8 64.6,201.4 64.8,241.0 64.9,240.6 65.1,243.2 65.3,246.1 65.4,246.0 65.6,239.0 65.7,245.6 65.9,247.3 66.1,246.7 66.2,246.7 66.4,246.8 66.5,248.8 66.7,248.6 66.9,248.1 67.0,248.6 67.2,247.6 67.3,246.3 67.5,247.0 67.7,249.1 67.8,249.1M68.3,248.5 68.5,248.2M69.9,248.7 70.1,248.7 70.2,249.0 70.4,248.7 70.5,247.9M71.0,249.1 71.2,249.1 71.3,249.1 71.5,249.0 71.7,249.1 71.8,249.1 72.0,247.9 72.1,248.4 72.3,248.5 72.5,247.7 72.6,249.1 72.8,249.1 72.9,248.5 73.1,248.1M74.2,247.7 74.4,246.1 74.6,243.0 74.7,244.7 74.9,245.9 75.0,245.2 75.2,247.5 75.4,245.5 75.5,241.0 75.7,245.3 75.8,244.7 76.0,243.7 76.2,247.1 76.3,246.4 76.5,245.4 76.6,246.3 76.8,244.6M77.4,247.9 77.6,248.8 77.8,249.1 77.9,248.3 78.1,247.2 78.2,248.8 78.4,249.1 78.6,249.1 78.7,247.7 78.9,248.3M79.2,249.1 79.4,249.1 79.5,248.1 79.7,248.9 79.8,249.1 80.0,249.1 80.2,249.1 80.3,249.1 80.5,249.1 80.6,249.1 80.8,248.7 81.0,248.3 81.1,248.8 81.3,249.1 81.4,249.1M82.1,249.1 82.1,249.1M82.7,248.5 82.9,249.1 83.0,249.1 83.2,248.2 83.4,248.0 83.5,246.7 83.7,248.0 83.8,248.4 84.0,247.9 84.2,249.1 84.3,249.1 84.5,249.1 84.6,249.1 84.8,248.4M85.3,248.4 85.4,249.1 85.6,247.7 85.8,248.6 85.9,248.2 86.1,245.0M86.6,246.2 86.7,245.2 86.9,244.7 87.1,221.0 87.2,229.2 87.4,235.3 87.5,240.1 87.7,246.0 87.9,246.5 88.0,248.0 88.2,247.7 88.3,245.9 88.5,245.6M88.8,239.0 88.8,239.0M89.8,247.7 89.9,248.9 90.1,249.1 90.3,248.5 90.4,248.2 90.6,248.6 90.7,248.3 90.9,248.4 91.1,248.8 91.2,248.6 91.4,247.9 91.5,246.9 91.7,247.4 91.9,248.8 92.0,249.1 92.2,248.9 92.3,249.1 92.5,249.1 92.7,248.7 92.8,248.6 93.0,249.1 93.1,248.7 93.3,249.1 93.5,249.1 93.6,249.1 93.8,249.1 93.9,248.8 94.1,246.7M95.4,248.8 95.4,248.8M96.7,248.0 96.8,248.6 97.0,248.6 97.1,248.1 97.3,247.9M98.6,242.0 98.8,238.2 98.9,232.2 99.1,232.5 99.2,185.0 99.4,213.2 99.6,187.7 99.7,172.0 99.9,219.0 100.0,198.1 100.2,227.4 100.4,234.1 100.5,238.3 100.7,239.0 100.8,239.0 101.0,239.0 101.2,239.3 101.3,242.6 101.5,240.7 101.6,239.0 101.8,239.0 102.0,246.7 102.1,248.5 102.3,243.1M102.6,247.6 102.6,247.6M102.9,249.0 103.1,248.6 103.2,248.9 103.4,248.4 103.6,245.8 103.7,245.2 103.9,245.4 104.0,246.8 104.2,247.1 104.4,247.7M105.6,249.1 105.8,248.6 106.0,248.7 106.1,247.7 106.3,248.9 106.4,249.1 106.6,249.1 106.8,249.1 106.9,248.2 107.1,248.9 107.2,247.0 107.4,248.4 107.6,249.1 107.7,249.1 107.9,249.1 108.0,248.4 108.2,247.9 108.4,247.5 108.5,247.0 108.7,247.4 108.8,244.8 109.0,245.8 109.2,245.4 109.3,244.3 109.5,239.0 109.6,239.0 109.8,239.0M110.1,239.0 110.3,239.0 110.5,239.0 110.6,239.0M111.1,239.0 111.3,239.0 111.4,241.2 111.6,243.7 111.7,240.7 111.9,239.0 112.1,239.0 112.2,243.2 112.4,239.0 112.5,239.0 112.7,239.0 112.9,243.5M113.8,239.0 114.0,239.0 114.1,242.0 114.3,244.9 114.5,247.9 114.6,246.8 114.8,246.6 114.9,249.1 115.1,249.1 115.3,247.8 115.4,244.9 115.6,246.0 115.7,248.7 115.9,249.1 116.1,249.1 116.2,248.2 116.4,249.1 116.5,249.1 116.7,249.1 116.9,249.1 117.0,249.0 117.2,249.1 117.3,249.1 117.5,249.1 117.7,249.1 117.8,248.7 118.0,248.5 118.1,249.1 118.3,249.1 118.5,248.7 118.6,248.8M119.6,247.5 119.7,248.6 119.9,249.1 120.1,249.1 120.2,248.9 120.4,248.5 120.5,245.6 120.7,240.1 120.9,243.3 121.0,243.2 121.2,246.6 121.3,249.1 121.5,247.5 121.7,239.4 121.8,247.5 122.0,240.9 122.2,239.0M122.8,247.2 123.0,240.5 123.1,244.5M123.4,239.0 123.6,239.0 123.8,239.0 123.9,246.5 124.1,247.1 124.2,239.0 124.4,239.0 124.6,239.0 124.7,240.8 124.9,239.0 125.0,241.2 125.2,245.5M126.5,249.1 126.6,248.8 126.8,247.9 127.0,246.7 127.1,246.1 127.3,245.6 127.4,243.8 127.6,245.6 127.8,246.7 127.9,248.3 128.1,248.9 128.2,249.1 128.4,249.1 128.6,248.9 128.7,249.1 128.9,249.1 129.0,248.6 129.2,248.9 129.4,249.1 129.5,249.1 129.7,249.1 129.8,249.1 130.0,249.1 130.2,249.1 130.3,249.1 130.5,249.1 130.6,249.0 130.8,249.1 131.0,249.1M131.6,248.2 131.8,245.4 131.9,246.9 132.1,246.0 132.2,248.4 132.4,249.1 132.6,249.1 132.7,249.1 132.9,249.1 133.0,249.1M133.9,244.7 133.9,244.7M134.3,245.1 134.5,242.9 134.7,245.6M135.3,240.6 135.5,239.0 135.6,239.0 135.8,239.0M136.6,245.4 136.7,246.9 136.9,246.2 137.1,239.0 137.2,239.0 137.4,242.6 137.5,244.6 137.7,245.0 137.9,243.0 138.0,243.8 138.2,242.2 138.3,244.4 138.5,246.8M139.1,247.8 139.3,246.1 139.5,248.7 139.6,249.1 139.8,249.1 139.9,248.8 140.1,248.2M140.4,244.7 140.6,242.6 140.7,247.5 140.9,249.1 141.1,248.6 141.2,248.7 141.4,249.1 141.5,249.1 141.7,249.0 141.9,249.1 142.0,249.1 142.2,249.1M142.7,248.6 142.8,248.4 143.0,249.0 143.1,246.9 143.3,244.5 143.5,247.7 143.6,248.4 143.8,248.5M144.6,249.1 144.7,248.5 144.9,248.3 145.1,247.7 145.2,248.9 145.4,249.1 145.5,249.0 145.7,246.7 145.9,242.0 146.0,245.6 146.2,247.4 146.4,248.0 146.5,245.9M147.8,248.3 148.0,248.0 148.1,249.1M149.1,246.0 149.2,243.8 149.4,241.7 149.6,246.6M149.9,249.1 150.0,248.4 150.2,248.6 150.4,249.1 150.5,249.1M151.0,249.1 151.2,249.1 151.3,249.1 151.5,247.9 151.6,248.1 151.8,249.1 152.0,249.1M152.4,247.1 152.6,247.1 152.8,249.1M153.6,248.3 153.7,249.1M154.0,249.0 154.2,249.1 154.4,249.1 154.5,248.2 154.7,247.1M155.2,248.5 155.3,248.0 155.5,247.9M155.8,249.1 156.0,249.1 156.1,248.9M157.2,245.3 157.4,246.8 157.6,249.1 157.7,248.6 157.9,244.2 158.1,242.7 158.2,239.0 158.4,239.0 158.5,239.0 158.7,239.0 158.9,239.0 159.0,239.0M159.8,236.9 160.0,238.3 160.1,219.5 160.3,202.9 160.5,238.1 160.6,239.0 160.8,239.0 160.9,240.3M161.3,245.6 161.4,243.0 161.6,241.0 161.7,246.7M162.4,246.3 162.5,247.9 162.7,247.4M164.1,247.0 164.3,249.1 164.5,248.8 164.6,247.4 164.8,249.1 164.9,249.1 165.1,249.1 165.3,248.7 165.4,247.9 165.6,247.3 165.7,247.3 165.9,248.5 166.1,249.1 166.2,249.1 166.4,248.9 166.5,248.0 166.7,247.1 166.9,248.6 167.0,249.1 167.2,249.1 167.3,249.1 167.5,249.1 167.7,249.1 167.8,249.1 168.0,248.8 168.1,248.2 168.3,249.1 168.5,249.1 168.6,249.1 168.8,248.4 168.9,245.8 169.1,239.7 169.3,242.2 169.4,244.6 169.6,241.9M170.9,239.0 171.0,241.0 171.2,239.2 171.4,239.0 171.5,242.2 171.7,240.9 171.8,243.6 172.0,239.0 172.2,239.0 172.3,239.0 172.5,239.0 172.6,241.7 172.8,244.4 173.0,242.8 173.1,240.9 173.3,247.1 173.4,245.7 173.6,245.9 173.8,248.9M174.1,247.7 174.2,248.4 174.4,247.7 174.6,243.6 174.7,244.5 174.9,244.8 175.0,247.4 175.2,248.3 175.4,248.9 175.5,249.1 175.7,248.7 175.8,249.1 176.0,249.1 176.2,249.1 176.3,248.9M177.4,249.0 177.6,249.1 177.8,249.1M178.4,249.1 178.6,249.1 178.7,249.1 178.9,249.1 179.0,249.1 179.2,249.1M179.5,249.1 179.7,249.1M180.0,249.1 180.2,249.1 180.3,248.4 180.5,247.5 180.6,249.1 180.8,249.1 181.0,249.1 181.1,249.1M181.4,248.4 181.6,248.2 181.8,248.8 181.9,249.1 182.1,248.9 182.3,248.6 182.4,248.8 182.6,247.8 182.7,246.4M183.5,243.8 183.7,240.6 183.9,239.9 184.0,218.6 184.2,237.1 184.3,242.4 184.5,244.4 184.7,244.7 184.8,246.2 185.0,247.6 185.1,246.9 185.3,241.3 185.5,239.0 185.6,242.2 185.8,243.5 185.9,246.8 186.1,248.9 186.3,247.9 186.4,246.7M188.5,247.5 188.7,245.9 188.8,244.8 189.0,240.6 189.1,244.8 189.3,244.5 189.5,246.0 189.6,247.3 189.8,248.4 189.9,248.1 190.1,248.3M190.9,247.5 191.1,246.2 191.2,244.9 191.4,239.0 191.5,245.7 191.7,243.8 191.9,244.8M192.2,247.2 192.3,242.1 192.5,248.4 192.7,248.4 192.8,248.9 193.0,248.8 193.1,248.8 193.3,245.2 193.5,246.6 193.6,248.3 193.8,248.0 194.0,244.1 194.1,239.0 194.3,240.3 194.4,239.0 194.6,240.1 194.8,244.5 194.9,241.4 195.1,238.2 195.2,239.0 195.4,242.3 195.6,244.5 195.7,239.0 195.9,239.0 196.0,239.0 196.2,239.0 196.4,239.0 196.5,239.0 196.7,239.0M197.2,239.3 197.3,244.5 197.5,241.8 197.6,239.0 197.8,239.0M198.4,248.7 198.6,248.0 198.8,246.9 198.9,247.7 199.1,248.2 199.2,248.4 199.4,249.1 199.6,247.4 199.7,248.0 199.9,248.8 200.0,248.3 200.2,249.1 200.4,248.5 200.5,248.5 200.7,249.1 200.8,249.1 201.0,248.8 201.2,248.1 201.3,247.1 201.5,249.1 201.6,249.1 201.8,249.1M202.3,249.1 202.4,249.1 202.6,249.1 202.8,249.1 202.9,248.3 203.1,248.9 203.2,249.1 203.4,249.1 203.6,249.1 203.7,249.1M204.0,245.0 204.2,249.1 204.4,249.1 204.5,249.1 204.7,249.1M206.1,248.8 206.3,248.6 206.5,240.7 206.6,244.3 206.8,246.6 206.9,246.3M208.5,249.1 208.5,249.1M209.2,247.6 209.3,247.5 209.5,244.7M210.3,246.6 210.5,248.0M211.1,248.4 211.3,247.6 211.4,246.8M212.2,249.1 212.4,249.1 212.5,248.8 212.7,249.1M213.5,249.1 213.7,249.1 213.8,249.1 214.0,249.1 214.1,249.1 214.3,249.1 214.5,248.8 214.6,248.9 214.8,248.6 214.9,249.1 215.1,249.0 215.3,249.1M215.7,248.0 215.9,249.1 216.1,249.1 216.2,249.1 216.4,248.0 216.5,246.1 216.7,247.4 216.9,246.1M218.0,245.9 218.2,248.2 218.3,241.6M218.6,239.0 218.8,242.8 219.0,246.1 219.1,242.0 219.3,242.1 219.4,243.5 219.6,240.9 219.8,239.0 219.9,232.6 220.1,241.4 220.2,241.8 220.4,241.0 220.6,241.3 220.7,245.8 220.9,245.3 221.0,239.0 221.2,239.0M221.5,241.9 221.7,242.7 221.8,242.3M222.3,246.2 222.5,246.5 222.6,246.3 222.8,248.5 223.0,248.3 223.1,248.2 223.3,249.0 223.4,247.5 223.6,247.8 223.8,249.1 223.9,247.8 224.1,245.2 224.2,245.8 224.4,246.5 224.6,247.8 224.7,248.6 224.9,249.1 225.0,249.1 225.2,249.1 225.4,249.0 225.5,244.6 225.7,245.3 225.8,248.7 226.0,248.2 226.2,248.1 226.3,249.1 226.5,249.1 226.6,248.4 226.8,246.8M227.1,249.1 227.3,249.1 227.4,249.0 227.6,249.1 227.8,249.1 227.9,249.1 228.1,249.1 228.2,248.1 228.4,248.3 228.6,249.1 228.7,249.1M229.0,249.1 229.2,248.6 229.4,248.0 229.5,248.0 229.7,248.6 229.8,246.6 230.0,242.9 230.2,247.0 230.3,248.0 230.5,247.7 230.7,247.3 230.8,247.3 231.0,245.9 231.1,241.3M231.5,245.1 231.6,245.9 231.8,243.8 231.9,243.2 232.1,245.2 232.3,243.3 232.4,246.6 232.6,249.0 232.7,248.9 232.9,248.4 233.1,248.4 233.2,247.5 233.4,246.9 233.5,247.7 233.7,245.0 233.9,246.6 234.0,247.1 234.2,245.0 234.3,245.8 234.5,245.0 234.7,240.7 234.8,239.0 235.0,246.3 235.1,245.6 235.3,247.6 235.5,247.0 235.6,248.4 235.8,246.7 235.9,248.5M236.4,247.8 236.6,249.0 236.7,248.7 236.9,247.6 237.1,249.1 237.2,249.1M237.5,249.1 237.7,249.1 237.9,249.1 238.0,249.1 238.2,248.8 238.3,246.4M239.6,249.0 239.6,249.0M239.9,247.1 240.1,243.8M242.0,245.1 242.2,247.0 242.4,246.5 242.5,239.0 242.7,239.0 242.8,247.9 243.0,245.1M243.5,239.0 243.5,239.0M244.1,239.0 244.3,239.0M244.6,239.0 244.8,242.0 244.9,243.0 245.1,243.2 245.2,244.8M245.6,248.7 245.7,247.4 245.9,241.5 246.0,247.2 246.2,246.9 246.4,248.5" stroke="#d42430"/>
<path d="M61.1,250.1 61.2,250.0 61.4,249.7 61.6,250.0 61.7,249.9 61.9,249.0 62.1,249.8 62.2,249.4 62.4,248.5 62.5,247.3 62.7,245.0 62.9,247.0 63.0,247.9 63.2,246.4 63.3,245.8 63.5,246.6 63.7,244.5 63.8,243.1 64.0,247.7M64.6,247.2 64.8,246.6 64.9,247.8 65.1,248.4 65.3,248.4 65.4,249.3 65.6,249.8M66.5,250.1 66.7,250.1 66.9,250.1 67.0,250.2 67.2,250.1 67.3,250.2 67.5,250.2 67.7,250.2M68.1,250.1 68.3,250.2 68.5,250.2 68.6,250.0 68.8,250.2 68.9,250.2 69.1,250.2 69.3,250.2M70.4,249.9 70.5,250.1 70.7,250.2 70.9,250.2 71.0,250.2 71.2,250.2 71.3,250.2 71.5,250.2 71.7,250.2 71.8,250.2 72.0,250.2 72.1,250.1 72.3,249.8 72.5,250.0 72.6,250.1 72.8,250.1M73.4,250.0 73.6,249.9 73.8,249.8 73.9,249.5 74.1,249.3 74.2,248.4M74.9,240.0 75.0,244.2 75.2,230.0 75.4,208.9 75.5,234.7 75.7,239.2 75.8,232.4 76.0,232.8 76.2,221.8 76.3,242.7 76.5,236.0 76.6,240.2M78.1,249.7 78.2,250.0 78.4,249.6 78.6,249.9 78.7,249.9 78.9,250.0 79.0,250.0 79.2,250.1 79.4,250.1 79.5,250.1 79.7,250.0 79.8,250.2 80.0,250.2 80.2,250.1 80.3,250.2 80.5,250.2 80.6,250.2 80.8,250.2 81.0,250.2 81.1,250.1 81.3,250.0 81.4,250.2 81.6,250.2 81.8,250.2 81.9,250.0 82.1,250.1 82.2,250.2 82.4,250.0 82.6,249.6 82.7,250.0 82.9,250.2 83.0,250.2 83.2,250.2 83.4,250.2 83.5,250.2 83.7,250.0 83.8,250.0 84.0,250.2 84.2,250.2 84.3,249.8 84.5,250.2 84.6,250.2 84.8,250.2 85.0,250.2M87.2,233.7 87.4,229.1 87.5,211.8 87.7,173.4 87.9,201.1 88.0,234.6 88.2,231.3 88.3,240.6 88.5,246.8 88.7,247.4 88.8,246.9 89.0,247.5 89.1,245.3 89.3,246.5 89.5,248.8 89.6,249.4 89.8,249.5 89.9,249.2 90.1,249.4 90.3,250.2 90.4,250.2 90.6,250.2 90.7,250.2 90.9,250.2 91.1,250.2 91.2,250.2 91.4,250.1 91.5,250.1 91.7,250.2 91.9,249.9 92.0,250.0 92.2,250.2 92.3,250.2 92.5,250.0 92.7,250.1 92.8,250.1 93.0,250.0 93.1,250.2 93.3,250.2 93.5,250.0 93.6,249.5 93.8,250.0 93.9,250.2 94.1,250.2 94.3,250.2 94.4,250.2 94.6,250.2 94.7,250.1 94.9,250.2 95.1,250.2 95.2,250.2 95.4,250.1 95.5,250.0 95.7,249.9 95.9,249.9 96.0,250.0 96.2,250.1 96.3,250.1 96.5,250.1 96.7,250.1 96.8,250.0 97.0,249.7 97.1,249.7 97.3,249.4 97.5,249.2 97.6,249.1 97.8,249.2 98.0,246.7 98.1,245.6 98.3,245.4 98.4,242.5 98.6,244.2 98.8,234.3 98.9,221.0 99.1,233.2 99.2,241.5 99.4,239.7M100.8,246.7 101.0,249.1M101.8,249.5 102.0,249.1 102.1,249.4 102.3,249.8 102.4,250.0 102.6,250.0 102.8,250.1M103.2,250.2 103.4,250.2 103.6,250.2 103.7,250.2 103.9,249.9 104.0,249.8 104.2,250.1 104.4,250.1M104.8,250.2 105.0,250.0 105.2,250.0 105.3,250.2 105.5,250.2 105.6,250.1 105.8,249.9 106.0,250.2 106.1,250.2 106.3,250.2 106.4,250.2 106.6,250.1 106.8,250.1 106.9,250.2 107.1,250.2 107.2,250.2 107.4,250.2 107.6,250.2 107.7,250.2 107.9,250.2 108.0,250.2 108.2,250.2 108.4,250.2 108.5,250.2 108.7,250.2 108.8,250.1 109.0,249.7 109.2,249.8 109.3,249.8 109.5,249.5 109.6,249.5 109.8,249.7 110.0,249.6 110.1,249.6 110.3,247.4 110.5,246.9 110.6,247.1 110.8,247.2 110.9,245.3 111.1,235.4 111.3,217.8 111.4,195.7 111.6,237.5 111.7,242.0 111.9,238.7 112.1,243.5 112.2,245.2 112.4,244.9 112.5,246.3 112.7,248.0 112.9,246.8 113.0,246.7 113.2,247.7 113.3,249.1 113.5,249.8 113.7,249.8 113.8,249.8 114.0,250.1 114.1,250.2 114.3,250.0 114.5,249.8 114.6,249.9 114.8,250.2 114.9,250.2 115.1,250.2 115.3,250.2 115.4,250.0 115.6,250.1 115.7,250.1 115.9,250.1 116.1,250.2 116.2,250.2 116.4,250.1 116.5,250.0 116.7,249.9 116.9,250.1 117.0,250.2 117.2,250.2 117.3,250.2 117.5,250.2 117.7,250.2 117.8,250.2 118.0,250.2 118.1,250.2 118.3,250.2 118.5,250.2 118.6,250.2 118.8,250.1 118.9,249.9 119.1,250.1 119.3,250.2 119.4,250.2 119.6,250.2 119.7,250.2 119.9,250.2 120.1,250.2 120.2,250.0 120.4,249.7 120.5,250.1 120.7,250.2 120.9,250.2 121.0,250.2 121.2,250.2M121.7,249.1 121.7,249.1M122.2,249.8 122.3,250.0 122.5,249.7 122.6,248.2 122.8,245.7M123.9,230.3 124.1,237.1 124.2,225.3 124.4,172.0 124.6,230.2 124.7,223.7 124.9,243.0M125.2,242.3 125.4,247.4 125.5,247.3 125.7,249.3 125.8,249.3 126.0,249.7 126.2,249.8 126.3,250.1 126.5,250.1 126.6,250.1 126.8,250.1M127.6,249.9 127.8,250.1 127.9,250.2 128.1,250.2 128.2,250.2 128.4,250.2 128.6,250.2 128.7,250.2 128.9,249.5 129.0,249.1 129.2,250.0 129.4,250.2M131.3,250.2 131.3,250.2M132.7,250.1 132.9,250.2 133.0,250.2 133.2,250.2 133.4,250.1 133.5,250.2 133.7,250.1 133.9,249.8 134.0,249.6 134.2,248.9 134.3,248.9 134.5,249.4 134.7,248.9 134.8,248.3 135.0,248.4 135.1,246.3 135.3,243.4 135.5,246.9 135.6,241.1 135.8,221.0 135.9,243.2 136.1,244.3 136.3,245.5M136.6,244.7 136.7,247.4 136.9,246.6 137.1,248.8 137.2,249.6 137.4,248.8 137.5,248.6 137.7,249.6 137.9,249.8 138.0,249.6 138.2,249.9 138.3,249.8 138.5,250.1 138.7,250.2 138.8,250.1 139.0,250.2M142.3,250.1 142.5,249.9 142.7,250.1 142.8,250.0 143.0,250.0 143.1,250.1 143.3,250.2 143.5,250.2 143.6,250.2 143.8,250.1 143.9,250.1 144.1,249.8 144.3,250.2M144.6,250.2 144.7,250.2 144.9,250.2 145.1,250.2 145.2,250.1 145.4,250.2 145.5,250.2 145.7,250.0 145.9,249.0 146.0,248.0M148.4,247.4 148.6,247.0 148.8,246.1 148.9,246.9 149.1,248.1 149.2,247.2 149.4,247.4 149.6,249.2 149.7,249.9 149.9,249.9 150.0,250.0 150.2,250.0 150.4,250.0 150.5,250.2M152.3,250.1 152.3,250.1M153.1,250.2 153.1,250.2M153.7,249.9 153.9,250.1 154.0,250.2 154.2,250.1 154.4,249.8 154.5,250.2 154.7,250.2 154.8,250.1 155.0,250.2 155.2,250.2 155.3,250.2 155.5,250.2 155.6,250.1 155.8,250.2 156.0,250.2 156.1,250.2 156.3,250.1 156.4,250.2 156.6,250.2 156.8,250.2 156.9,249.9 157.1,249.9 157.2,249.9 157.4,249.7 157.6,249.9 157.7,249.3 157.9,249.0 158.1,249.7 158.2,249.0 158.4,247.1 158.5,246.0 158.7,247.3M159.0,246.8 159.2,243.4 159.3,245.6 159.5,244.0M159.8,238.2 160.0,232.0 160.1,237.4 160.3,216.9 160.5,233.1 160.6,237.1 160.8,242.2 160.9,246.7M162.2,250.0 162.4,249.9 162.5,250.1 162.7,249.9 162.9,250.0 163.0,250.0 163.2,250.2 163.3,250.2 163.5,250.2 163.7,250.2 163.8,250.2 164.0,250.2 164.1,250.2M165.6,250.2 165.7,250.2 165.9,250.2 166.1,250.2 166.2,250.2 166.4,250.1 166.5,250.2 166.7,250.2 166.9,250.1 167.0,250.2M168.0,250.2 168.1,250.2 168.3,250.2 168.5,250.2 168.6,250.1 168.8,250.0 168.9,250.1 169.1,250.1 169.3,249.7 169.4,248.0 169.6,249.6 169.7,250.0 169.9,249.8 170.1,249.0 170.2,247.4 170.4,249.2 170.6,248.4 170.7,248.2 170.9,247.6 171.0,247.5 171.2,247.7 171.4,242.3 171.5,242.5 171.7,239.0 171.8,228.4 172.0,243.7 172.2,245.7 172.3,245.8 172.5,246.6M173.0,248.5 173.1,249.5 173.3,249.2 173.4,248.8 173.6,249.2 173.8,249.2 173.9,249.9 174.1,250.1 174.2,250.1 174.4,250.1M176.3,250.2 176.5,250.1 176.6,250.2 176.8,250.2 177.0,250.2 177.1,250.2 177.3,250.1 177.4,249.8 177.6,250.0 177.8,250.2 177.9,250.2 178.1,250.2 178.2,250.2 178.4,250.2 178.6,250.2M181.6,250.2 181.6,250.2M182.1,249.5 182.3,248.1 182.4,247.7 182.6,248.8 182.7,249.5 182.9,249.1 183.1,247.5M185.5,249.6 185.6,249.6M186.7,250.2 186.9,250.2 187.1,250.2 187.2,250.2 187.4,250.2 187.5,250.2M188.0,250.2 188.2,250.2 188.3,250.2M190.1,250.2 190.3,250.2 190.4,250.2 190.6,250.0 190.7,250.2 190.9,250.2 191.1,250.1 191.2,250.2 191.4,250.2 191.5,250.2 191.7,250.2 191.9,250.2 192.0,250.2 192.2,249.9 192.3,250.2 192.5,250.2 192.7,250.2 192.8,250.2 193.0,250.2 193.1,250.2M194.6,247.3 194.8,248.8 194.9,248.5 195.1,248.9 195.2,247.5 195.4,242.2 195.6,245.6M196.2,247.6 196.4,248.4 196.5,249.8 196.7,249.7 196.8,248.3M197.2,248.7 197.3,247.8 197.5,249.0 197.6,249.4 197.8,249.7 198.0,250.1M198.6,250.0 198.8,250.2 198.9,250.2 199.1,250.2 199.2,250.2 199.4,250.2 199.6,249.9 199.7,249.8M200.0,250.2 200.2,250.2 200.4,250.1 200.5,250.0 200.7,250.2 200.8,250.2 201.0,250.2 201.2,250.2M203.1,250.2 203.2,250.2 203.4,250.2 203.6,249.9 203.7,250.2 203.9,250.2M204.5,250.1 204.7,250.1 204.8,250.0 205.0,249.9M206.8,249.7 206.9,249.9 207.1,248.9 207.3,248.5 207.4,248.7 207.6,249.2 207.7,249.7 207.9,249.4 208.1,247.8M209.8,250.1 210.0,250.1 210.1,250.1M213.2,250.2 213.3,250.2 213.5,250.2 213.7,250.2 213.8,250.2 214.0,250.2 214.1,250.2 214.3,250.1 214.5,250.2 214.6,250.2 214.8,250.2 214.9,250.2 215.1,250.2M216.4,250.2 216.5,250.1 216.7,250.2 216.9,250.2 217.0,249.8 217.2,249.6 217.3,249.9 217.5,249.8 217.7,249.6 217.8,249.5 218.0,249.4 218.2,249.0 218.3,248.3 218.5,248.2 218.6,246.3M221.4,247.9 221.5,248.6 221.7,248.9 221.8,248.8M224.1,250.1 224.2,250.2 224.4,250.1 224.6,250.0 224.7,250.1 224.9,250.2 225.0,250.2 225.2,250.2 225.4,250.2 225.5,250.2 225.7,250.2 225.8,249.9 226.0,249.7 226.2,250.2 226.3,250.2 226.5,250.2M228.2,250.2 228.4,250.2 228.6,250.2 228.7,250.2 228.9,250.2 229.0,250.1 229.2,249.8 229.4,249.8 229.5,250.1 229.7,250.1 229.8,249.9M231.5,245.5 231.6,243.6 231.8,243.0 231.9,238.2 232.1,238.2 232.3,238.2 232.4,242.6 232.6,245.6 232.7,238.3 232.9,246.0 233.1,248.4M235.0,250.2 235.1,250.2 235.3,250.2 235.5,250.1 235.6,250.2 235.8,250.2M237.4,250.2 237.5,250.2 237.7,250.0 237.9,250.1 238.0,250.2 238.2,250.2 238.3,250.2 238.5,250.2 238.7,250.2 238.8,250.2 239.0,250.2 239.1,250.2 239.3,250.2 239.5,250.2 239.6,250.2 239.8,250.2M240.3,249.8 240.4,250.2 240.6,250.2 240.7,250.2 240.9,250.2 241.1,250.2 241.2,250.0 241.4,250.1 241.5,250.1M243.8,245.0 244.0,244.9 244.1,238.3 244.3,227.4 244.4,209.2 244.6,230.0 244.8,244.2 244.9,243.8 245.1,247.6M247.6,250.2 247.8,250.1 248.0,250.2" stroke="#2c20b4"/>
<path d="M35.3,249.5 35.4,249.4 35.6,249.1 35.8,249.5 35.9,249.5M36.2,249.2 36.4,249.4 36.6,248.6 36.7,248.8 36.9,248.7 37.0,248.7 37.2,248.0 37.4,245.4 37.5,247.2 37.7,248.1 37.9,247.0 38.0,246.8 38.2,246.1 38.3,246.0 38.5,245.1 38.7,243.4 38.8,243.8 39.0,241.9 39.1,238.9 39.3,242.0 39.5,242.1 39.6,238.2 39.8,239.7 39.9,238.2 40.1,230.5 40.3,244.2 40.4,243.3 40.6,244.0M41.4,247.7 41.5,246.8 41.7,247.4 41.9,248.0 42.0,248.2 42.2,248.8M43.0,249.1 43.1,248.9 43.3,249.1 43.5,249.2M44.1,249.5 44.1,249.5M47.9,249.4 48.1,249.4 48.3,249.4 48.4,249.4 48.6,249.3 48.7,249.2 48.9,249.2M49.4,249.2 49.5,249.1 49.7,249.1 49.9,248.8 50.0,249.0 50.2,248.2 50.4,248.6 50.5,248.7 50.7,248.3 50.8,247.4 51.0,245.2 51.2,243.3 51.3,246.3 51.5,240.2 51.6,237.7 51.8,230.2 52.0,242.7 52.1,243.0 52.3,244.2 52.4,242.9 52.6,245.9 52.8,245.7 52.9,248.0 53.1,248.3 53.2,248.1 53.4,249.1 53.6,248.5 53.7,248.8 53.9,248.9 54.0,247.8 54.2,248.9 54.4,249.2 54.5,249.3 54.7,249.4 54.8,249.4 55.0,249.4 55.2,249.4 55.3,249.4 55.5,249.3 55.6,249.4 55.8,249.5 56.0,249.5M57.7,249.5 57.9,249.5M58.2,249.5 58.4,249.5 58.5,249.3 58.7,248.9 58.8,249.5 59.0,249.5 59.2,249.1 59.3,249.3 59.5,249.0 59.6,249.2 59.8,249.1 60.0,248.1M60.6,249.4 60.8,249.4 60.9,248.7 61.1,248.7 61.2,249.0 61.4,249.2 61.6,249.1 61.7,249.4 61.9,249.2 62.1,248.7 62.2,248.5 62.4,249.0 62.5,248.4 62.7,247.9 62.9,247.1 63.0,246.6 63.2,246.6 63.3,243.3 63.5,243.3 63.7,241.9 63.8,241.1 64.0,235.8 64.1,228.4 64.3,240.3 64.5,241.2 64.6,243.7 64.8,244.1 64.9,245.6 65.1,245.8 65.3,248.9 65.4,247.6 65.6,248.9 65.7,248.8 65.9,249.0 66.1,248.7 66.2,249.2 66.4,249.4 66.5,249.4 66.7,249.2 66.9,249.3 67.0,249.4 67.2,249.3 67.3,248.3 67.5,248.4 67.7,248.8 67.8,249.3 68.0,249.5 68.1,249.5 68.3,249.5 68.5,249.5 68.6,249.4 68.8,249.1 68.9,249.5 69.1,249.5 69.3,249.3 69.4,249.5 69.6,249.5 69.7,249.3 69.9,249.2 70.1,249.4 70.2,249.5 70.4,249.5 70.5,249.1 70.7,249.5 70.9,249.5 71.0,249.5 71.2,249.5 71.3,249.5 71.5,249.5 71.7,249.4 71.8,249.5 72.0,249.5 72.1,249.5 72.3,249.4 72.5,249.4 72.6,249.4 72.8,249.3 72.9,248.9 73.1,248.3 73.3,248.6 73.4,249.1 73.6,249.1 73.8,249.1 73.9,247.7 74.1,247.4 74.2,247.6 74.4,245.0 74.6,246.6 74.7,247.5 74.9,245.4 75.0,245.1 75.2,246.8 75.4,246.9 75.5,240.6 75.7,245.8 75.8,244.3 76.0,243.9 76.2,244.2 76.3,244.9 76.5,243.2 76.6,243.7 76.8,247.2 77.0,247.9 77.1,248.9 77.3,249.1 77.4,248.5 77.6,248.7 77.8,248.7 77.9,249.1 78.1,249.4 78.2,249.4 78.4,248.9 78.6,249.4 78.7,249.3 78.9,248.4 79.0,248.8 79.2,249.5 79.4,249.4 79.5,249.2 79.7,249.5 79.8,249.4 80.0,249.5 80.2,249.2 80.3,249.2 80.5,249.3 80.6,248.9 80.8,248.6 81.0,248.7 81.1,249.1 81.3,249.3 81.4,249.5 81.6,249.5 81.8,249.4M83.2,249.5 83.4,249.5M84.0,249.4 84.2,249.4 84.3,249.4 84.5,249.4 84.6,248.9 84.8,248.8 85.0,249.1 85.1,249.0 85.3,249.2 85.4,249.2 85.6,248.8 85.8,249.0 85.9,247.9 86.1,246.6 86.3,246.9 86.4,247.5 86.6,245.8 86.7,243.3 86.9,245.7 87.1,246.3 87.2,245.5 87.4,242.0 87.5,243.1 87.7,234.1 87.9,244.5 88.0,240.6 88.2,243.8 88.3,243.6 88.5,246.2 88.7,246.8 88.8,246.7 89.0,247.3 89.1,248.3 89.3,248.5 89.5,248.1 89.6,248.5 89.8,248.7 89.9,247.7 90.1,247.6 90.3,248.0 90.4,248.8 90.6,248.8 90.7,248.8 90.9,249.0 91.1,249.4 91.2,249.3 91.4,249.2 91.5,249.5 91.7,249.1 91.9,249.1 92.0,249.5 92.2,249.5 92.3,249.2 92.5,248.7 92.7,248.9 92.8,249.4 93.0,249.5 93.1,249.4 93.3,249.0 93.5,249.4 93.6,249.5 93.8,249.4 93.9,248.9 94.1,249.1 94.3,249.5 94.4,249.3 94.6,248.9 94.7,249.3 94.9,249.5 95.1,249.5 95.2,249.4 95.4,249.4 95.5,249.4M96.0,249.4 96.0,249.4M96.3,249.3 96.5,249.4M98.0,248.5 98.1,247.6 98.3,246.4 98.4,244.4 98.6,247.4 98.8,240.7 98.9,239.5 99.1,242.3 99.2,237.6 99.4,223.4 99.6,222.8 99.7,201.4 99.9,216.2 100.0,230.8 100.2,238.6 100.4,237.5 100.5,244.5 100.7,246.4 100.8,241.7 101.0,247.6 101.2,247.0M101.5,247.7 101.5,247.7M102.4,248.8 102.6,249.1 102.8,249.3 102.9,249.3M103.2,249.3 103.4,248.6 103.6,249.0 103.7,249.5 103.9,249.4 104.0,249.1 104.2,249.0 104.4,249.0 104.5,249.5 104.7,249.5 104.8,249.5 105.0,249.2 105.2,249.5 105.3,249.5 105.5,249.5 105.6,249.5 105.8,249.5 106.0,249.2 106.1,249.0 106.3,249.0 106.4,249.3 106.6,249.2 106.8,249.3 106.9,249.5 107.1,249.4 107.2,249.4 107.4,249.3 107.6,249.5M108.7,247.9 108.8,248.2 109.0,248.9 109.2,249.2 109.3,249.2 109.5,248.9 109.6,248.4 109.8,248.0 110.0,247.7 110.1,246.9 110.3,247.4 110.5,246.7 110.6,247.6 110.8,245.0 110.9,247.2 111.1,242.1 111.3,238.7 111.4,227.6 111.6,234.9 111.7,242.8 111.9,238.6 112.1,239.3 112.2,243.7 112.4,244.8 112.5,243.7 112.7,245.2 112.9,247.5 113.0,247.5 113.2,245.7 113.3,247.0 113.5,247.7 113.7,246.9 113.8,248.1 114.0,249.1M114.5,249.4 114.6,248.9 114.8,249.2 114.9,249.5 115.1,249.5 115.3,248.9 115.4,249.1 115.6,249.5 115.7,249.5 115.9,249.4 116.1,249.5 116.2,249.4 116.4,249.4 116.5,248.7 116.7,249.2 116.9,249.5 117.0,249.5 117.2,249.5 117.3,249.3 117.5,249.5 117.7,249.5 117.8,249.2 118.0,249.4 118.1,249.5 118.3,249.3 118.5,249.4 118.6,249.5 118.8,249.5 118.9,249.4 119.1,249.4 119.3,249.5 119.4,249.5 119.6,249.5 119.7,249.5 119.9,249.1 120.1,249.4 120.2,249.4 120.4,249.4M121.8,248.5 122.0,248.9 122.2,246.8 122.3,244.8 122.5,245.8 122.6,246.0 122.8,246.2 123.0,246.5 123.1,244.4 123.3,242.6 123.4,242.4 123.6,241.5 123.8,241.0 123.9,231.3 124.1,228.3 124.2,236.4 124.4,204.3 124.6,221.9 124.7,240.9 124.9,243.5 125.0,234.6 125.2,242.6 125.4,246.6 125.5,242.9 125.7,244.9 125.8,247.9 126.0,247.3 126.2,247.3 126.3,248.7 126.5,248.1 126.6,248.6 126.8,248.8 127.0,249.2 127.1,249.2 127.3,249.4 127.4,249.2 127.6,249.4 127.8,249.3 127.9,249.4 128.1,249.4 128.2,249.4 128.4,249.4 128.6,249.4 128.7,249.4 128.9,249.3 129.0,248.9 129.2,249.3 129.4,249.4 129.5,249.5 129.7,249.5 129.8,249.5 130.0,249.5 130.2,249.5 130.3,249.0 130.5,248.9 130.6,249.1 130.8,248.7 131.0,249.5 131.1,249.5 131.3,249.3 131.4,249.3 131.6,248.8 131.8,249.2 131.9,248.5 132.1,248.2 132.2,249.4 132.4,249.4 132.6,249.4 132.7,249.4 132.9,248.9 133.0,248.9 133.2,248.8 133.4,248.6 133.5,249.0 133.7,248.9 133.9,249.1 134.0,248.7 134.2,248.7 134.3,248.2 134.5,248.0 134.7,248.0 134.8,247.1 135.0,247.6 135.1,245.0 135.3,242.8 135.5,243.5 135.6,237.2 135.8,229.2 135.9,233.9 136.1,243.4 136.3,242.1 136.4,244.9 136.6,246.7 136.7,246.6 136.9,248.4 137.1,247.8 137.2,248.4M137.5,248.4 137.7,249.2 137.9,249.0 138.0,248.9 138.2,248.7 138.3,249.0 138.5,249.4 138.7,249.3 138.8,248.9 139.0,248.1 139.1,248.5 139.3,249.0 139.5,248.9 139.6,249.3 139.8,249.5 139.9,249.5 140.1,249.5 140.3,249.5 140.4,249.5 140.6,249.5 140.7,249.5 140.9,249.5 141.1,249.5 141.2,249.5 141.4,249.5 141.5,249.5 141.7,249.5 141.9,249.5 142.0,249.5 142.2,249.5 142.3,249.5M143.5,249.5 143.6,249.1 143.8,249.5 143.9,249.5 144.1,249.2 144.3,249.1 144.4,249.4 144.6,249.4 144.7,249.5 144.9,249.5M145.9,248.8 145.9,248.8M147.3,247.8 147.5,244.9 147.6,244.8 147.8,241.0 148.0,247.2 148.1,244.4 148.3,246.7 148.4,248.2 148.6,248.1 148.8,246.8 148.9,248.1 149.1,248.3 149.2,248.2 149.4,249.2 149.6,249.3 149.7,249.4 149.9,249.3 150.0,249.2M150.5,249.3 150.7,249.1 150.8,249.3 151.0,249.4 151.2,249.3M151.5,249.5 151.6,249.4 151.8,249.3 152.0,249.5 152.1,249.5 152.3,249.4 152.4,249.2 152.6,249.2 152.8,249.3 152.9,249.5 153.1,249.4M153.9,248.9 153.9,248.9M154.4,249.5 154.5,249.5 154.7,249.2 154.8,249.1 155.0,249.4 155.2,249.5 155.3,249.5 155.5,249.5 155.6,249.1 155.8,249.3 156.0,249.4 156.1,249.4 156.3,249.0 156.4,249.4 156.6,249.4 156.8,249.1 156.9,249.4 157.1,249.4 157.2,249.3 157.4,249.1 157.6,248.8 157.7,249.3 157.9,249.1 158.1,247.9 158.2,246.5 158.4,246.5 158.5,246.1M159.8,245.0 160.0,230.2 160.1,239.7 160.3,218.6 160.5,243.2 160.6,243.7 160.8,240.7 160.9,245.3 161.1,245.7 161.3,245.3 161.4,245.8 161.6,248.3 161.7,248.1 161.9,247.9 162.1,248.4 162.2,248.9 162.4,249.1 162.5,248.6 162.7,249.3 162.9,248.9 163.0,248.5 163.2,249.1 163.3,249.2 163.5,249.4 163.7,248.9 163.8,249.3 164.0,249.4 164.1,249.1 164.3,248.4 164.5,248.4 164.6,248.7 164.8,248.8 164.9,249.1 165.1,249.1 165.3,249.4 165.4,249.5 165.6,249.5 165.7,249.5 165.9,249.2 166.1,249.3 166.2,249.5 166.4,249.5 166.5,249.5 166.7,249.5 166.9,249.5 167.0,249.5 167.2,249.1 167.3,248.8 167.5,248.4 167.7,249.4 167.8,249.5 168.0,249.5 168.1,249.1 168.3,249.0 168.5,249.3M169.4,249.1 169.6,249.2 169.7,247.4 169.9,247.2 170.1,246.4 170.2,244.4 170.4,245.1 170.6,247.4 170.7,247.1 170.9,246.5 171.0,244.3 171.2,243.5 171.4,245.1 171.5,246.1 171.7,246.1 171.8,234.1 172.0,241.9 172.2,245.7 172.3,243.9M173.3,246.3 173.4,245.8 173.6,248.5 173.8,249.0 173.9,248.3 174.1,248.0 174.2,248.3 174.4,249.0 174.6,248.9 174.7,248.2 174.9,249.4 175.0,249.4 175.2,249.1 175.4,248.8 175.5,249.4 175.7,249.3 175.8,248.1 176.0,249.0 176.2,249.4 176.3,249.3 176.5,249.4 176.6,249.2 176.8,249.3 177.0,249.5 177.1,249.5 177.3,249.5 177.4,249.5 177.6,249.2M178.4,249.5 178.6,249.5 178.7,249.4 178.9,249.0 179.0,249.4 179.2,249.5 179.4,249.5 179.5,249.3 179.7,249.0 179.8,249.4M181.0,248.9 181.0,248.9M181.4,248.8 181.6,247.8 181.8,246.1 181.9,247.1 182.1,247.7 182.3,248.4M182.6,245.7 182.7,245.2 182.9,246.6 183.1,242.1 183.2,238.2 183.4,240.6 183.5,241.7 183.7,242.8 183.9,243.1 184.0,228.4 184.2,236.3 184.3,237.4 184.5,240.3M185.1,241.7 185.3,243.2 185.5,245.5 185.6,245.5 185.8,245.0 185.9,247.2 186.1,248.4 186.3,248.4 186.4,248.3 186.6,248.7 186.7,249.3 186.9,249.2 187.1,249.1 187.2,249.4 187.4,249.4 187.5,249.4 187.7,249.4 187.9,249.5 188.0,249.4 188.2,249.5 188.3,249.5 188.5,249.5 188.7,249.5 188.8,249.1 189.0,248.6 189.1,248.8 189.3,248.8 189.5,249.5 189.6,249.5 189.8,249.5 189.9,249.5 190.1,249.5 190.3,249.4 190.4,249.3 190.6,249.4 190.7,249.2 190.9,248.9 191.1,249.1 191.2,249.5 191.4,249.5 191.5,249.3 191.7,247.8 191.9,248.6 192.0,249.5 192.2,249.5 192.3,249.5 192.5,249.5 192.7,249.0 192.8,248.9 193.0,249.1 193.1,249.4 193.3,248.6 193.5,248.4 193.6,248.5 193.8,247.0 194.0,247.1 194.1,247.8 194.3,247.3 194.4,247.7 194.6,247.8 194.8,246.3 194.9,247.0 195.1,246.6 195.2,243.2 195.4,238.2 195.6,241.2 195.7,244.4 195.9,241.6 196.0,243.0 196.2,244.7 196.4,243.7 196.5,241.7 196.7,245.3 196.8,244.7 197.0,243.3 197.2,245.8 197.3,246.7 197.5,246.1 197.6,247.3 197.8,248.6 198.0,248.2 198.1,248.7 198.3,249.0 198.4,248.7M200.0,249.4 200.2,249.0 200.4,249.5 200.5,249.5 200.7,249.5 200.8,249.5 201.0,249.5 201.2,249.5 201.3,249.3 201.5,249.4M202.0,249.5 202.1,249.5 202.3,249.5 202.4,249.5 202.6,249.5 202.8,249.5 202.9,249.5 203.1,249.5 203.2,249.2M203.6,249.5 203.7,249.5M205.6,249.2 205.8,248.3 206.0,247.4 206.1,248.5 206.3,248.5 206.5,248.7 206.6,248.2 206.8,247.9 206.9,248.0 207.1,246.1 207.3,247.1 207.4,248.1 207.6,246.3 207.7,240.0 207.9,234.6 208.1,244.0 208.2,247.0 208.4,245.8 208.5,244.8 208.7,247.5 208.9,246.4 209.0,247.9 209.2,247.9 209.3,248.8 209.5,249.1 209.7,248.7 209.8,248.5 210.0,248.9 210.1,249.2 210.3,249.0 210.5,249.4 210.6,249.4 210.8,249.1 210.9,248.7 211.1,249.4 211.3,249.4 211.4,249.3 211.6,249.4 211.7,249.5 211.9,249.5 212.1,249.5 212.2,249.5 212.4,249.5 212.5,249.0 212.7,248.3 212.9,248.6 213.0,249.0 213.2,249.5M213.8,249.4 214.0,249.5M214.8,249.5 214.9,249.5 215.1,248.9 215.3,249.2 215.4,249.5 215.6,249.4 215.7,249.5 215.9,249.5 216.1,249.5 216.2,249.4 216.4,249.5 216.5,249.1 216.7,249.0M217.3,249.3 217.5,249.2 217.7,248.6 217.8,247.8 218.0,248.9 218.2,248.4 218.3,247.3 218.5,248.4 218.6,247.8 218.8,247.9M219.3,245.1 219.4,244.0 219.6,246.5 219.8,243.0 219.9,234.1 220.1,239.1 220.2,242.1 220.4,242.2 220.6,244.6 220.7,245.9 220.9,247.6 221.0,248.5 221.2,247.7 221.4,248.6 221.5,248.5 221.7,248.6 221.8,248.8 222.0,248.7 222.2,249.1 222.3,249.3 222.5,248.9 222.6,249.2 222.8,249.2M223.9,249.5 224.1,249.4 224.2,249.3 224.4,249.5 224.6,249.5 224.7,249.5 224.9,249.5 225.0,248.7 225.2,249.2 225.4,249.4 225.5,249.5 225.7,249.5 225.8,249.5 226.0,249.5 226.2,249.5 226.3,249.2 226.5,249.4 226.6,249.5 226.8,249.4 227.0,248.6 227.1,248.9 227.3,249.5 227.4,249.5 227.6,249.5 227.8,249.5 227.9,249.5 228.1,249.3 228.2,249.4 228.4,249.5 228.6,249.5 228.7,248.9 228.9,248.9 229.0,248.9M229.5,248.5 229.7,249.0 229.8,248.3 230.0,249.0 230.2,248.4 230.3,246.3 230.5,245.6 230.7,247.7 230.8,248.4 231.0,247.0 231.1,245.6 231.3,244.8 231.5,244.8 231.6,246.5 231.8,241.0 231.9,239.8 232.1,223.6 232.3,236.3 232.4,246.8 232.6,241.3 232.7,245.9 232.9,247.2 233.1,247.4 233.2,246.8 233.4,247.3 233.5,248.3 233.7,248.4 233.9,248.8 234.0,248.6 234.2,247.3 234.3,248.3 234.5,249.1 234.7,249.1 234.8,249.2M236.3,249.4 236.4,249.5 236.6,249.1 236.7,249.5 236.9,249.5 237.1,249.5 237.2,249.5 237.4,249.4 237.5,249.5M237.9,249.5 238.0,249.4 238.2,249.3 238.3,249.1 238.5,249.5 238.7,249.5 238.8,249.1 239.0,249.0 239.1,249.3 239.3,249.4 239.5,249.5 239.6,249.5 239.8,249.5 239.9,248.7 240.1,248.8 240.3,249.4 240.4,249.4 240.6,249.4 240.7,249.4 240.9,249.3 241.1,249.2 241.2,249.4 241.4,249.3 241.5,248.1 241.7,247.5 241.9,248.3 242.0,248.6 242.2,248.6 242.4,248.2 242.5,248.1M243.3,247.0 243.5,247.7 243.6,243.4 243.8,246.6 244.0,247.0 244.1,243.0 244.3,235.7 244.4,229.2 244.6,242.6 244.8,246.6 244.9,243.7M245.4,248.4 245.6,247.9 245.7,248.1 245.9,248.1M246.4,249.0 246.5,248.8 246.7,249.4 246.8,249.2 247.0,249.2 247.2,249.4 247.3,249.4 247.5,249.3 247.6,248.2M248.0,249.2 248.0,249.2" stroke="#000000"/>
</g>
<path d="M55.6,168.7v2.2M55.6,253.7v-2.2M79.7,168.7v2.2M79.7,253.7v-2.2M103.7,168.7v2.2M103.7,253.7v-2.2M127.8,168.7v2.2M127.8,253.7v-2.2M151.8,168.7v2.2M151.8,253.7v-2.2M175.8,168.7v2.2M175.8,253.7v-2.2M199.9,168.7v2.2M199.9,253.7v-2.2M223.9,168.7v2.2M223.9,253.7v-2.2M31.6,250.4h2.2M248.0,250.4h-2.2M31.6,234.1h2.2M248.0,234.1h-2.2M31.6,217.8h2.2M248.0,217.8h-2.2M31.6,201.4h2.2M248.0,201.4h-2.2M31.6,185.0h2.2M248.0,185.0h-2.2" stroke="#000" stroke-width="1" fill="none"/>
<rect x="31.6" y="168.7" width="216.4" height="85.0" fill="none" stroke="#222" stroke-width="1.3"/>
<text x="31.6" y="265.8" font-size="9.3" text-anchor="middle">2000</text>
<text x="55.6" y="265.8" font-size="9.3" text-anchor="middle">2002</text>
<text x="79.7" y="265.8" font-size="9.3" text-anchor="middle">2004</text>
<text x="103.7" y="265.8" font-size="9.3" text-anchor="middle">2006</text>
<text x="127.8" y="265.8" font-size="9.3" text-anchor="middle">2008</text>
<text x="151.8" y="265.8" font-size="9.3" text-anchor="middle">2010</text>
<text x="175.8" y="265.8" font-size="9.3" text-anchor="middle">2012</text>
<text x="199.9" y="265.8" font-size="9.3" text-anchor="middle">2014</text>
<text x="223.9" y="265.8" font-size="9.3" text-anchor="middle">2016</text>
<text x="248.0" y="265.8" font-size="9.3" text-anchor="middle">2018</text>
<text x="28.5" y="254.2" font-size="9.3" text-anchor="end">0</text>
<text x="28.5" y="237.9" font-size="9.3" text-anchor="end">1</text>
<text x="28.5" y="221.6" font-size="9.3" text-anchor="end">2</text>
<text x="28.5" y="205.2" font-size="9.3" text-anchor="end">3</text>
<text x="28.5" y="188.8" font-size="9.3" text-anchor="end">4</text>
<text x="28.5" y="172.5" font-size="9.3" text-anchor="end">5</text>
<text x="139.8" y="161.8" font-size="11.5" text-anchor="middle">Rio Branco - RB</text>
<text x="139.8" y="279.5" font-size="11.6" text-anchor="middle">Date</text>
<text transform="translate(15.0,211.6) rotate(-90)" font-size="13.2" text-anchor="middle">AOD</text>
<text x="41.0" y="186.5" font-size="10.2" font-weight="bold">c)</text>
<path d="M340.5,168.7V253.7M364.5,168.7V253.7M388.6,168.7V253.7M412.6,168.7V253.7M436.6,168.7V253.7M460.7,168.7V253.7M484.7,168.7V253.7M508.8,168.7V253.7M316.4,250.4H532.8M316.4,234.1H532.8M316.4,217.8H532.8M316.4,201.4H532.8M316.4,185.0H532.8" stroke="#ababab" stroke-width="1" stroke-dasharray="1.3,2.2" fill="none"/>
<clipPath id="cd"><rect x="316.4" y="168.7" width="216.4" height="85.0"/></clipPath>
<g clip-path="url(#cd)" fill="none" stroke-width="1.6" stroke-linejoin="round">
<path d="M345.9,248.5 346.1,243.6 346.3,239.0 346.4,244.0 346.6,244.7 346.7,239.4 346.9,239.6 347.1,239.0 347.2,239.0 347.4,246.2 347.5,246.6 347.7,239.0 347.9,239.0 348.0,244.0 348.2,237.7 348.3,237.1 348.5,220.4 348.7,191.9 348.8,219.4 349.0,229.1 349.1,240.8 349.3,240.9M351.1,246.7 351.2,247.5 351.4,248.9 351.5,247.6 351.7,249.1 351.9,249.1 352.0,249.1 352.2,249.1 352.3,249.1 352.5,248.5 352.7,245.2 352.8,247.1 353.0,249.1M354.0,246.3 354.1,249.1M356.2,248.8 356.4,246.9 356.5,244.9 356.7,248.4 356.8,249.1 357.0,248.9 357.2,247.1 357.3,243.1 357.5,247.5 357.6,248.8 357.8,247.1 358.0,239.1 358.1,241.1M358.8,244.5 358.9,242.5 359.1,247.3 359.2,242.4 359.4,239.0 359.6,242.6 359.7,241.2 359.9,239.0 360.0,236.6 360.2,237.8 360.4,208.5 360.5,193.2 360.7,238.6 360.8,236.3 361.0,239.0 361.2,240.0 361.3,239.3 361.5,242.7 361.6,243.9 361.8,241.1 362.0,240.7 362.1,246.6 362.3,244.3 362.4,239.0 362.6,239.0M363.6,248.1 363.7,248.9M365.3,249.1 365.5,249.1 365.7,249.1 365.8,248.8 366.0,249.1 366.1,249.1 366.3,248.9 366.5,248.4 366.6,249.1 366.8,249.1 366.9,249.1 367.1,249.1 367.3,249.1M367.9,248.4 368.1,247.7M368.4,249.1 368.5,248.5 368.7,248.4 368.9,249.1 369.0,249.1 369.2,249.1 369.3,249.1 369.5,248.1 369.7,245.9M370.0,245.8 370.1,242.4 370.3,241.0 370.5,246.6M370.8,246.9 370.8,246.9M372.2,238.9 372.4,235.8 372.5,225.9 372.7,193.9 372.9,234.2 373.0,229.1 373.2,238.1M373.5,245.4 373.7,246.6 373.8,245.9M374.5,245.2 374.6,248.2 374.8,248.8 374.9,248.4 375.1,248.1 375.3,249.0M375.7,249.1 375.9,249.0 376.1,248.8 376.2,248.0 376.4,249.1 376.5,249.1 376.7,246.2M377.2,248.2 377.4,248.1 377.5,249.1 377.7,249.1 377.8,249.1 378.0,248.8 378.2,248.9 378.3,248.7 378.5,249.1 378.6,249.1 378.8,249.1 379.0,249.1 379.1,248.3 379.3,247.9 379.4,246.8 379.6,245.8 379.8,248.6 379.9,249.1 380.1,249.1 380.2,248.8 380.4,248.2M380.9,247.0 381.0,249.1 381.2,249.1 381.4,248.1 381.5,244.5 381.7,245.9 381.8,247.6 382.0,247.6 382.2,246.0 382.3,242.4 382.5,245.4 382.6,247.9 382.8,244.2 383.0,239.0 383.1,240.3 383.3,243.2 383.4,239.0 383.6,239.0 383.8,245.8 383.9,247.5 384.1,242.0 384.2,239.0 384.4,239.1 384.6,244.5 384.7,242.5 384.9,239.0M385.5,243.5 385.7,247.5 385.8,248.5 386.0,243.0 386.2,240.8 386.3,246.6 386.5,245.7 386.6,239.0 386.8,242.0 387.0,244.7 387.1,246.4 387.3,249.1 387.4,247.7 387.6,246.6 387.8,247.9 387.9,245.6 388.1,244.1 388.2,247.4M388.6,248.7 388.7,249.1 388.9,249.1M389.2,249.1 389.4,248.2 389.5,244.0 389.7,247.2 389.9,248.0 390.0,248.2 390.2,248.8 390.3,249.1 390.5,249.1M390.8,248.7 391.0,248.8 391.1,249.1M391.6,247.7 391.8,249.1 391.9,249.1M392.3,248.3 392.4,248.1 392.6,248.3 392.7,249.1 392.9,249.1M393.7,249.1 393.9,248.7 394.0,245.2 394.2,248.4 394.3,248.3M394.7,247.4 394.8,247.7 395.0,247.5 395.1,248.0 395.3,249.1 395.5,249.1 395.6,247.4 395.8,245.4 395.9,240.9 396.1,239.0 396.3,242.6 396.4,248.4 396.6,249.1 396.7,247.3 396.9,241.3 397.1,240.3 397.2,248.1 397.4,247.7 397.5,242.8 397.7,241.8 397.9,240.6 398.0,246.6 398.2,248.5 398.3,247.2 398.5,245.9 398.7,247.7 398.8,247.8 399.0,245.8M399.9,248.8 400.1,246.6M400.6,249.1 400.8,249.1M403.2,248.9 403.3,248.4 403.5,247.6 403.6,249.1 403.8,249.1 404.0,248.7 404.1,248.4 404.3,249.1 404.4,249.1 404.6,249.1 404.8,248.3 404.9,245.7 405.1,247.0M405.4,249.1 405.6,248.7M405.9,246.8 406.0,249.0 406.2,249.0 406.4,249.1 406.5,249.1 406.7,245.1 406.8,239.0 407.0,244.5 407.2,248.6 407.3,246.7M408.6,239.2 408.8,228.2 408.9,190.5 409.1,172.5 409.2,232.2 409.4,229.5 409.6,239.4 409.7,245.5 409.9,243.8 410.0,244.9 410.2,246.8 410.4,244.3 410.5,247.3 410.7,248.4 410.8,247.7 411.0,245.8 411.2,246.8M412.9,246.5 413.1,245.5 413.3,248.4 413.4,249.1 413.6,249.1 413.7,248.6 413.9,249.1M415.2,249.1 415.3,248.3 415.5,249.1M415.8,249.1 416.0,247.8M416.3,249.1 416.5,249.1 416.6,249.1 416.8,249.1 416.9,249.0 417.1,248.3 417.3,246.4 417.4,245.5 417.6,247.3 417.7,248.7 417.9,248.6 418.1,245.2M418.4,248.2 418.5,248.2 418.7,249.1 418.9,248.5 419.0,246.3M419.5,248.8 419.5,248.8M420.3,245.0 420.5,247.4M421.1,248.3 421.3,247.3 421.4,243.8M422.4,242.5 422.5,246.4 422.7,249.0 422.9,248.8 423.0,248.2 423.2,249.0 423.3,249.1 423.5,249.1M424.6,249.1 424.8,248.2 425.0,244.7 425.1,248.9 425.3,249.1 425.4,249.1 425.6,248.8 425.8,247.6 425.9,248.8 426.1,248.8M427.8,249.1 428.0,248.9 428.2,249.1 428.3,249.1 428.5,249.1 428.6,249.1 428.8,249.0 429.0,247.4 429.1,239.0 429.3,244.7M429.9,248.9 430.1,248.7 430.2,248.4 430.4,248.9 430.6,246.0M431.4,245.5 431.5,247.2 431.7,247.8 431.8,248.1 432.0,245.2 432.2,241.0 432.3,242.3 432.5,239.0M433.1,239.0 433.3,247.5 433.4,247.3 433.6,239.0 433.8,240.4 433.9,245.5 434.1,246.0 434.2,244.0M434.6,247.1 434.7,246.2 434.9,244.4 435.0,241.3 435.2,236.7 435.4,243.3 435.5,244.8 435.7,247.6 435.8,247.0 436.0,247.1 436.2,248.1M437.1,245.7 437.3,242.1 437.5,247.4 437.6,249.1 437.8,249.1 437.9,249.1 438.1,249.1 438.3,247.3M438.7,249.1 438.9,249.1 439.1,249.1 439.2,249.1 439.4,248.7 439.5,249.1 439.7,249.1 439.9,249.1 440.0,249.1 440.2,248.3 440.3,249.1 440.5,249.1 440.7,249.1 440.8,249.1M441.8,249.1 441.9,248.8 442.1,247.3 442.3,248.7 442.4,246.7 442.6,246.1 442.7,248.7 442.9,249.1 443.1,248.5 443.2,246.3 443.4,244.1M444.2,245.2 444.3,245.6 444.5,243.4 444.7,238.4 444.8,230.5 445.0,237.2 445.1,200.1 445.3,236.3 445.5,234.7 445.6,245.1 445.8,245.7 445.9,239.8 446.1,241.9 446.3,246.1 446.4,247.8 446.6,247.4 446.7,247.6M447.2,242.8 447.4,245.1 447.5,248.5 447.7,248.6 447.9,248.6 448.0,249.1 448.2,249.1 448.3,249.0 448.5,248.4 448.7,247.6M450.0,249.1 450.0,249.1M450.4,249.1 450.6,249.1 450.8,249.1 450.9,249.1 451.1,249.1 451.2,248.5 451.4,247.1M452.4,249.1 452.5,249.1 452.7,247.3 452.8,248.9 453.0,249.1M453.3,246.9 453.5,248.4 453.6,248.3 453.8,246.9 454.0,247.5M454.8,243.3 454.9,241.3 455.1,242.8 455.2,247.2 455.4,247.4 455.6,239.0 455.7,239.0 455.9,239.0 456.0,246.5 456.2,247.4 456.4,240.2 456.5,239.0 456.7,239.0M457.5,243.0 457.6,246.9 457.8,247.0 458.0,244.5 458.1,239.3 458.3,244.8 458.4,244.2 458.6,244.2 458.8,244.2 458.9,242.9 459.1,246.2 459.2,245.6 459.4,246.8 459.6,248.1 459.7,248.2 459.9,247.8 460.0,247.7 460.2,247.5 460.4,248.6 460.5,249.1 460.7,249.1 460.9,249.1 461.0,249.1 461.2,249.1M461.7,249.1 461.8,248.7 462.0,248.9M465.7,248.4 465.7,248.4M466.6,239.0 466.6,239.0M467.1,246.5 467.3,247.3 467.4,242.7 467.6,239.8 467.7,245.8 467.9,243.9 468.1,239.0 468.2,245.4 468.4,244.5M469.3,239.0 469.5,242.9 469.7,240.4 469.8,239.0 470.0,240.0 470.1,245.9 470.3,246.9 470.5,244.9 470.6,248.1 470.8,247.2 470.9,245.0 471.1,246.5 471.3,247.7 471.4,249.0 471.6,247.8 471.7,246.6 471.9,247.6M472.2,248.4 472.4,249.0M473.8,249.1 474.0,249.1 474.2,249.1M475.1,247.1 475.3,246.7 475.4,249.1 475.6,249.1 475.8,249.1 475.9,249.1 476.1,249.1 476.2,248.6 476.4,247.8M477.4,249.0 477.5,247.3 477.7,246.5 477.8,248.2 478.0,247.0 478.2,246.4 478.3,244.7 478.5,239.0 478.6,244.0 478.8,244.7 479.0,239.0 479.1,239.0 479.3,243.2 479.4,239.0 479.6,239.0 479.8,239.0 479.9,240.5 480.1,239.0 480.2,239.0M481.0,245.1 481.2,240.8 481.4,239.0 481.5,239.0 481.7,239.0 481.8,239.0 482.0,239.0 482.2,239.0 482.3,239.0 482.5,239.0 482.6,239.6 482.8,247.0 483.0,248.0 483.1,241.7 483.3,245.1 483.4,248.6 483.6,248.0M483.9,247.0 484.1,248.0 484.2,249.1 484.4,249.0 484.6,248.3 484.7,249.1 484.9,249.1 485.1,249.1M485.5,249.1 485.7,247.8M486.3,249.1 486.5,248.7 486.7,249.1 486.8,249.1 487.0,248.4 487.1,249.1 487.3,249.1 487.5,249.1 487.6,248.1 487.8,247.5M488.1,248.3 488.3,248.8 488.4,249.1 488.6,249.1 488.7,249.1 488.9,248.2M489.2,249.0 489.4,249.1 489.5,249.1 489.7,248.5 489.9,246.6 490.0,246.7 490.2,247.4M490.5,248.2 490.7,247.9 490.8,244.6 491.0,245.6 491.1,246.4 491.3,248.7 491.5,248.1 491.6,245.1 491.8,246.1 491.9,245.5 492.1,244.8 492.3,241.8 492.4,241.4 492.6,232.6 492.7,240.9 492.9,240.4 493.1,244.0 493.2,246.2 493.4,239.0 493.5,243.7 493.7,245.5 493.9,244.5 494.0,246.5 494.2,247.8 494.3,246.8 494.5,241.7M495.0,249.1 495.1,248.8 495.3,248.8 495.5,248.6 495.6,247.8 495.8,247.3 495.9,248.1 496.1,244.9 496.3,242.2 496.4,246.6 496.6,248.2 496.7,249.1 496.9,249.1 497.1,249.1M497.7,248.6 497.9,245.3 498.0,248.5 498.2,249.1M498.5,248.5 498.7,249.1 498.8,248.8 499.0,249.1 499.2,249.1 499.3,246.5 499.5,245.5 499.6,248.1M500.3,248.0 500.4,249.1M501.1,248.1 501.2,246.9 501.4,249.1 501.6,249.1 501.7,247.5M503.2,246.1 503.3,244.3M504.0,239.9 504.1,239.0 504.3,239.0 504.4,243.1 504.6,243.1 504.8,239.9 504.9,239.0 505.1,239.4 505.2,238.1 505.4,221.5 505.6,235.3 505.7,236.2 505.9,240.6 506.0,243.3 506.2,244.0 506.4,247.0 506.5,243.9 506.7,245.2 506.8,246.6M507.3,242.3 507.5,242.1 507.6,236.7 507.8,220.0 508.0,234.9 508.1,235.2 508.3,244.0 508.4,243.1 508.6,243.7 508.8,245.3 508.9,248.3 509.1,248.0M509.6,248.3 509.7,247.4 509.9,248.7 510.1,248.9 510.2,249.1 510.4,249.1M511.8,247.5 512.0,246.3 512.1,248.3 512.3,249.1 512.5,249.1 512.6,249.1M513.6,249.1 513.7,249.1 513.9,247.9 514.1,248.2 514.2,246.5 514.4,245.7 514.5,249.0 514.7,248.8 514.9,248.0 515.0,247.9 515.2,247.8 515.3,248.7 515.5,249.1 515.7,249.1 515.8,249.1M516.6,247.7 516.8,246.1 516.9,248.1M517.4,249.1 517.6,246.9 517.7,245.6 517.9,246.9 518.1,246.2 518.2,244.6M518.5,249.1 518.7,247.8 518.9,247.3 519.0,244.6 519.2,245.9 519.3,248.4 519.5,248.3 519.7,249.1 519.8,249.1 520.0,247.5 520.1,249.1 520.3,249.1 520.5,249.1 520.6,248.7 520.8,245.5 521.0,239.0 521.1,247.2 521.3,249.1M521.6,248.5 521.8,248.1 521.9,249.1 522.1,249.1 522.2,249.1 522.4,249.1 522.6,248.6 522.7,248.3 522.9,247.8 523.0,249.1 523.2,249.1 523.4,249.1 523.5,249.1 523.7,247.7 523.8,243.9 524.0,248.5 524.2,249.1 524.3,248.5 524.5,248.2 524.6,249.1 524.8,248.7 525.0,249.0M526.7,248.2 526.9,239.0M527.4,246.7 527.5,245.9 527.7,242.4 527.8,239.0 528.0,239.0 528.2,239.0 528.3,242.5 528.5,239.7M528.8,239.0 529.0,239.0 529.1,239.0 529.3,239.0M529.9,242.8 530.1,243.1 530.2,243.0M532.2,248.7 532.2,248.7M532.5,247.4 532.6,248.9 532.8,249.1" stroke="#d42430"/>
<path d="M345.9,249.8 346.1,249.6 346.3,249.5 346.4,249.6 346.6,249.8 346.7,249.1 346.9,246.4 347.1,247.8 347.2,248.0 347.4,247.1 347.5,247.4 347.7,244.7 347.9,246.6 348.0,244.4 348.2,242.6 348.3,242.4 348.5,232.1 348.7,222.2 348.8,238.1 349.0,235.7 349.1,244.5 349.3,247.3M350.6,249.5 350.7,249.5 350.9,249.8 351.1,249.8 351.2,249.8M354.9,250.2 355.1,250.2 355.2,250.2 355.4,250.2M356.2,249.2 356.4,250.0 356.5,250.2 356.7,250.2 356.8,249.9 357.0,250.1M358.6,249.4 358.8,249.0 358.9,247.3 359.1,246.9 359.2,246.9 359.4,244.8 359.6,246.0 359.7,244.3M360.0,226.4 360.2,223.5 360.4,215.9 360.5,194.9 360.7,235.8 360.8,232.3 361.0,240.5M361.6,246.5 361.8,245.1 362.0,248.3 362.1,249.0M363.1,250.0 363.2,249.8 363.4,250.1 363.6,250.1 363.7,250.2 363.9,250.1 364.0,250.2 364.2,250.2 364.4,250.2 364.5,249.9 364.7,250.2 364.9,250.2 365.0,250.2 365.2,250.2 365.3,250.2 365.5,250.2 365.7,250.1M368.2,250.0 368.4,249.8 368.5,249.8 368.7,250.2 368.9,250.2 369.0,250.2M370.5,249.8 370.6,249.1 370.8,248.6 370.9,249.2 371.1,248.9 371.3,248.2 371.4,247.6 371.6,244.7 371.7,247.7 371.9,241.3 372.1,241.8 372.2,238.5 372.4,235.6 372.5,212.5 372.7,196.5 372.9,234.6 373.0,238.7 373.2,235.2 373.3,236.1 373.5,245.5 373.7,243.4 373.8,247.6 374.0,247.4 374.1,249.2 374.3,249.0 374.5,249.0 374.6,249.5 374.8,249.9 374.9,249.7 375.1,249.9M379.4,250.2 379.6,250.1 379.8,250.1 379.9,250.1 380.1,250.1 380.2,250.1 380.4,250.2 380.6,250.2 380.7,250.2 380.9,250.1 381.0,250.2 381.2,250.2 381.4,250.2 381.5,250.1 381.7,250.1 381.8,250.1 382.0,250.1 382.2,250.1 382.3,249.9 382.5,249.8 382.6,249.8 382.8,249.3 383.0,249.4 383.1,248.7M384.2,240.5 384.4,221.0 384.6,233.7 384.7,186.2 384.9,217.6 385.0,228.4 385.2,229.2 385.4,244.8 385.5,240.0 385.7,246.9 385.8,244.7 386.0,247.2 386.2,249.1 386.3,248.2 386.5,249.7 386.6,249.7 386.8,249.5 387.0,249.8 387.1,249.8 387.3,250.0 387.4,249.9 387.6,250.1 387.8,250.2 387.9,250.1M389.1,249.4 389.2,249.9 389.4,250.2 389.5,250.1 389.7,250.2 389.9,250.2 390.0,250.2 390.2,250.2 390.3,250.2 390.5,250.2M390.8,250.2 391.0,250.2 391.1,250.2 391.3,250.0 391.5,249.7 391.6,250.2 391.8,250.2 391.9,250.2 392.1,250.2 392.3,250.2 392.4,250.1 392.6,250.2 392.7,250.1 392.9,250.2 393.1,250.2 393.2,249.8 393.4,249.8 393.5,250.0 393.7,250.0 393.9,250.1 394.0,250.1 394.2,250.1 394.3,250.2 394.5,250.0 394.7,250.0 394.8,249.8 395.0,248.8 395.1,248.7 395.3,249.1 395.5,248.8 395.6,248.5 395.8,247.9 395.9,248.7 396.1,249.2 396.3,249.2 396.4,249.6 396.6,247.7 396.7,244.0 396.9,247.5M397.4,249.8 397.5,246.7 397.7,245.9 397.9,249.1 398.0,249.3 398.2,249.8 398.3,250.0 398.5,249.9 398.7,249.9 398.8,249.9 399.0,249.9 399.1,250.0 399.3,250.2 399.5,250.1 399.6,249.8 399.8,250.1 399.9,250.2 400.1,250.2 400.3,250.1 400.4,250.1 400.6,250.1M401.7,250.2 401.9,250.2 402.0,250.2 402.2,250.2 402.4,250.2 402.5,250.1 402.7,250.2 402.8,250.2 403.0,250.2 403.2,250.2 403.3,250.2 403.5,250.2 403.6,250.2 403.8,250.2 404.0,250.2 404.1,250.2 404.3,250.2 404.4,250.1 404.6,250.1 404.8,250.1 404.9,250.1 405.1,249.9M405.6,250.2 405.7,250.2M406.4,250.0 406.5,249.8 406.7,249.9 406.8,249.7 407.0,248.8 407.2,249.1 407.3,248.2 407.5,248.9 407.6,248.0 407.8,245.5 408.0,244.9 408.1,246.0 408.3,245.3M408.6,236.0 408.8,237.5 408.9,224.3 409.1,182.4 409.2,213.3 409.4,222.8 409.6,238.1 409.7,242.3 409.9,239.4 410.0,243.7 410.2,246.4 410.4,248.3 410.5,248.7 410.7,248.9 410.8,249.2 411.0,249.9 411.2,249.5 411.3,249.8M413.1,250.1 413.3,250.2 413.4,250.2 413.6,250.1 413.7,250.1 413.9,250.2 414.1,250.2 414.2,250.2 414.4,250.2 414.5,250.2M415.2,250.2 415.3,250.1 415.5,250.2 415.7,250.1 415.8,250.1 416.0,250.2 416.1,250.2 416.3,250.2 416.5,250.2 416.6,250.2 416.8,250.2 416.9,250.1 417.1,250.2M417.9,250.2 418.1,250.2 418.2,250.2 418.4,250.1M418.7,249.9 418.9,249.3 419.0,249.8 419.2,249.5 419.3,246.6 419.5,246.6 419.7,248.5 419.8,248.4 420.0,247.3 420.1,248.4 420.3,248.6 420.5,247.4 420.6,244.8 420.8,244.4 420.9,245.0M422.4,250.0 422.5,249.9 422.7,250.1 422.9,250.0 423.0,250.2 423.2,250.2 423.3,250.2 423.5,250.2 423.7,250.2 423.8,250.2 424.0,250.1 424.1,250.2 424.3,250.2 424.5,250.2 424.6,250.1 424.8,249.8 425.0,249.8 425.1,250.1 425.3,250.2 425.4,250.1 425.6,250.0 425.8,250.0 425.9,250.1 426.1,250.2 426.2,250.2 426.4,250.2 426.6,249.9 426.7,250.1 426.9,250.2M429.6,250.2 429.8,250.2M430.1,250.1 430.2,250.0 430.4,249.9 430.6,250.0 430.7,250.0 430.9,249.8 431.0,249.9 431.2,250.0 431.4,249.4 431.5,248.6 431.7,249.2 431.8,248.9 432.0,246.8 432.2,248.6 432.3,249.7 432.5,249.1 432.6,246.6 432.8,244.7 433.0,246.1 433.1,247.9 433.3,249.3 433.4,248.6 433.6,248.0 433.8,248.2 433.9,248.7 434.1,249.2 434.2,249.3 434.4,249.3 434.6,249.3 434.7,250.0 434.9,250.2 435.0,250.2 435.2,249.7 435.4,250.1 435.5,250.2 435.7,250.2 435.8,250.1 436.0,249.8 436.2,249.9 436.3,250.2M436.8,250.2 437.0,250.2 437.1,250.1 437.3,249.5M437.6,250.2 437.8,250.2 437.9,250.0 438.1,250.1 438.3,250.0 438.4,250.0M439.5,250.2 439.7,250.2 439.9,249.6 440.0,249.7 440.2,250.0 440.3,250.0 440.5,250.1 440.7,250.2 440.8,250.2 441.0,250.2 441.1,250.2 441.3,250.2 441.5,250.2 441.6,250.2 441.8,249.9 441.9,249.6 442.1,249.9 442.3,250.0 442.4,249.8 442.6,249.8 442.7,249.9 442.9,249.7 443.1,249.4 443.2,249.5 443.4,248.7 443.5,246.6 443.7,248.4 443.9,248.5 444.0,244.6 444.2,240.6 444.3,239.8 444.5,242.6 444.7,246.3 444.8,247.7 445.0,246.4 445.1,244.1 445.3,242.3 445.5,241.0M446.4,249.5 446.6,249.5 446.7,249.7 446.9,250.0M447.7,250.2 447.9,250.2 448.0,250.1 448.2,250.2 448.3,250.2 448.5,250.2 448.7,250.2 448.8,250.2 449.0,250.2 449.2,250.1 449.3,250.2M449.6,250.0 449.8,250.2 450.0,250.2 450.1,250.2 450.3,250.2 450.4,250.2M452.0,249.6 452.2,249.4 452.4,250.2M453.0,250.2 453.2,250.1 453.3,250.2M455.6,250.0 455.7,249.9 455.9,249.7 456.0,249.8 456.2,249.7 456.4,249.2 456.5,249.9 456.7,250.2 456.8,250.0M457.6,249.4 457.8,249.9 458.0,250.2 458.1,250.2 458.3,250.1 458.4,249.8 458.6,250.0 458.8,250.2 458.9,250.2 459.1,250.2 459.2,250.2 459.4,250.2M459.7,250.2 459.9,250.1 460.0,250.2 460.2,250.2 460.4,250.2 460.5,250.2 460.7,250.2 460.9,250.2 461.0,250.2 461.2,250.0 461.3,250.1 461.5,250.0 461.7,250.0 461.8,250.2 462.0,250.2 462.1,250.2 462.3,250.2 462.5,250.2 462.6,250.1 462.8,250.2 462.9,250.2 463.1,249.9 463.3,249.8 463.4,250.0 463.6,250.0 463.7,250.2 463.9,250.2 464.1,250.2M464.9,250.0 465.0,250.2 465.2,250.2 465.3,250.2 465.5,250.2 465.7,250.1 465.8,249.9 466.0,249.6 466.1,249.7 466.3,249.8 466.5,250.0 466.6,250.0 466.8,249.3 466.9,248.3M467.3,247.8 467.4,246.8 467.6,245.5 467.7,245.0 467.9,246.8 468.1,246.2 468.2,248.1 468.4,247.3 468.5,244.3 468.7,246.4 468.9,241.2 469.0,233.6 469.2,240.4 469.3,244.5 469.5,244.7 469.7,245.7 469.8,244.9 470.0,245.0 470.1,248.1 470.3,247.2 470.5,248.1 470.6,249.7 470.8,249.9 470.9,249.9 471.1,250.0 471.3,250.1 471.4,250.1 471.6,250.1M473.4,250.2 473.5,250.1 473.7,250.2M479.4,249.2 479.6,249.1 479.8,248.3 479.9,247.3 480.1,247.3 480.2,246.9 480.4,246.2 480.6,248.6 480.7,249.1 480.9,249.2 481.0,249.0 481.2,247.5 481.4,246.6 481.5,245.3 481.7,247.1M482.5,249.3 482.6,249.7 482.8,249.9M486.7,250.1 486.8,250.1 487.0,250.2 487.1,250.2 487.3,250.2 487.5,250.2 487.6,250.0 487.8,250.1 487.9,250.2 488.1,250.2 488.3,250.2 488.4,250.2 488.6,250.2M491.6,247.2 491.8,248.1 491.9,246.6 492.1,240.9 492.3,242.3 492.4,243.4 492.6,240.8M493.1,243.8 493.2,244.4 493.4,247.4 493.5,247.5 493.7,248.1 493.9,249.3 494.0,247.9M495.5,250.0 495.6,250.2 495.8,250.2M496.1,250.1 496.3,250.2M496.6,250.2 496.7,250.2 496.9,250.0 497.1,250.0 497.2,250.2 497.4,250.2 497.6,250.2 497.7,250.2 497.9,250.2 498.0,250.1 498.2,250.1 498.4,250.1 498.5,250.1 498.7,250.2M499.2,250.0 499.3,250.2M500.9,250.1 501.1,250.1M503.0,250.2 503.2,250.1 503.3,249.2 503.5,246.7 503.6,248.8 503.8,249.6 504.0,249.7 504.1,249.9 504.3,249.7 504.4,249.3 504.6,249.2M505.1,249.0 505.2,248.5 505.4,248.4 505.6,249.4 505.7,249.4 505.9,249.4 506.0,249.6 506.2,249.5M507.0,250.0 507.2,249.9 507.3,249.7 507.5,250.1 507.6,250.1 507.8,249.8 508.0,249.5 508.1,250.1 508.3,250.2 508.4,250.2 508.6,250.2 508.8,250.2 508.9,250.2 509.1,250.2 509.3,250.2 509.4,250.2 509.6,250.2 509.7,250.2 509.9,250.2 510.1,250.0 510.2,249.8 510.4,250.1 510.5,250.2 510.7,250.2 510.9,250.2 511.0,250.2 511.2,250.2 511.3,250.2 511.5,250.2 511.7,250.2 511.8,250.2 512.0,250.1 512.1,250.1 512.3,250.0 512.5,250.1 512.6,250.2 512.8,250.2 512.9,250.1 513.1,250.2 513.3,250.2 513.4,250.1M514.7,249.5 514.9,248.9 515.0,247.7 515.2,246.0M516.1,246.1 516.3,245.9 516.5,246.1 516.6,244.8 516.8,240.7 516.9,228.1 517.1,236.6 517.3,245.7 517.4,246.0 517.6,246.7 517.7,246.2 517.9,246.0 518.1,245.3 518.2,246.9 518.4,248.2 518.5,248.3 518.7,248.9 518.9,249.5 519.0,249.9 519.2,249.9 519.3,250.1 519.5,250.1 519.7,249.9 519.8,250.0 520.0,249.9 520.1,249.7 520.3,250.1 520.5,250.2 520.6,250.2 520.8,250.2 521.0,250.2 521.1,250.1 521.3,250.0 521.4,250.2 521.6,250.1 521.8,250.2 521.9,250.2 522.1,250.2 522.2,250.1 522.4,250.2 522.6,250.2 522.7,250.2 522.9,250.0 523.0,249.8 523.2,250.1 523.4,250.2 523.5,250.2 523.7,250.2 523.8,250.2 524.0,250.1 524.2,250.2 524.3,250.2 524.5,250.2 524.6,250.2 524.8,250.2 525.0,250.2 525.1,250.2 525.3,250.0 525.4,250.1 525.6,250.2 525.8,250.2 525.9,250.1 526.1,250.2 526.2,250.2 526.4,250.2 526.6,249.9M528.2,247.4 528.3,246.1 528.5,247.2 528.6,246.7 528.8,241.2 529.0,241.1 529.1,243.6 529.3,239.9 529.4,210.2 529.6,232.9 529.8,236.6 529.9,240.8M530.6,247.2 530.7,248.8 530.9,247.7 531.0,248.8 531.2,250.0M531.5,250.0 531.7,250.1 531.8,250.2 532.0,250.0 532.2,249.8 532.3,250.2 532.5,250.2 532.6,250.1 532.8,250.2" stroke="#2c20b4"/>
<path d="M392.3,249.5 392.4,249.5 392.6,249.3 392.7,248.3 392.9,249.2 393.1,249.5 393.2,249.0 393.4,248.8 393.5,249.2 393.7,249.0 393.9,249.2 394.0,249.3 394.2,248.8 394.3,248.1 394.5,248.0 394.7,247.7 394.8,248.4 395.0,248.0M395.3,244.4 395.5,244.6 395.6,245.5 395.8,244.6 395.9,242.6 396.1,237.3 396.3,234.4 396.4,237.5 396.6,229.5 396.7,201.9 396.9,238.7 397.1,234.1 397.2,235.7 397.4,240.8 397.5,244.0 397.7,244.0 397.9,246.9 398.0,246.7 398.2,247.6 398.3,248.1M400.8,249.5 400.9,249.5 401.1,249.5 401.2,249.4 401.4,249.5 401.6,249.3 401.7,249.0 401.9,249.5 402.0,249.4 402.2,249.5 402.4,249.5M402.7,249.2 402.8,248.7 403.0,249.5 403.2,249.5 403.3,249.5M405.6,249.2 405.7,249.4 405.9,249.4 406.0,249.2 406.2,249.0 406.4,249.4 406.5,249.4 406.7,249.0 406.8,249.0 407.0,249.0 407.2,249.0M407.8,247.1 408.0,244.7M408.4,240.1 408.6,230.0 408.8,241.8 408.9,207.3 409.1,190.0 409.2,220.0 409.4,233.6 409.6,232.0 409.7,237.9 409.9,240.0 410.0,245.3 410.2,245.8M410.8,248.4 411.0,248.7 411.2,249.1 411.3,249.2 411.5,248.6 411.6,248.7 411.8,249.2 412.0,248.9 412.1,249.1 412.3,248.7 412.4,249.0 412.6,249.4 412.8,249.5M413.3,249.5 413.4,249.5 413.6,249.5M414.2,249.1 414.4,249.5 414.5,249.5 414.7,249.5 414.9,249.5 415.0,249.5 415.2,249.2 415.3,249.5 415.5,249.5 415.7,249.5 415.8,249.5 416.0,249.5 416.1,249.5 416.3,249.5 416.5,249.5 416.6,249.5 416.8,249.5 416.9,249.5 417.1,249.5 417.3,249.5M417.9,248.5 418.1,247.8 418.2,248.1 418.4,248.3 418.5,247.9 418.7,248.3 418.9,246.5 419.0,246.0 419.2,243.6 419.3,238.2 419.5,244.3 419.7,245.7 419.8,243.3 420.0,243.4 420.1,240.8 420.3,245.7 420.5,245.7 420.6,238.2 420.8,238.2 420.9,238.2 421.1,239.4 421.3,235.1 421.4,238.7 421.6,245.5 421.7,245.3 421.9,240.7 422.1,242.5 422.2,245.6 422.4,246.3 422.5,248.3 422.7,247.7M423.3,248.6 423.5,249.1 423.7,248.6 423.8,248.2 424.0,249.4 424.1,249.4 424.3,249.4 424.5,249.4 424.6,249.4 424.8,248.5 425.0,247.8 425.1,248.5 425.3,249.5 425.4,249.4 425.6,249.5 425.8,249.5 425.9,249.5 426.1,249.5 426.2,249.4 426.4,249.1 426.6,249.1 426.7,249.5M428.0,249.5 428.2,249.5 428.3,249.2 428.5,249.2 428.6,249.2 428.8,248.7 429.0,249.5 429.1,249.5 429.3,249.1 429.4,249.3 429.6,249.5 429.8,249.5 429.9,249.2 430.1,248.5 430.2,248.9 430.4,249.3 430.6,248.6 430.7,248.6 430.9,249.1 431.0,249.1 431.2,249.1 431.4,248.8 431.5,247.2 431.7,247.4 431.8,247.5 432.0,248.3 432.2,249.2 432.3,247.6 432.5,246.1 432.6,246.9 432.8,247.9 433.0,248.6 433.1,247.1 433.3,246.4 433.4,247.1 433.6,247.2 433.8,247.0 433.9,247.7 434.1,248.5M434.7,247.7 434.9,245.5 435.0,245.5 435.2,240.6 435.4,243.4 435.5,246.1 435.7,247.0 435.8,246.7 436.0,247.4 436.2,249.0 436.3,248.7 436.5,248.5 436.6,249.3 436.8,249.2 437.0,249.0 437.1,249.2 437.3,249.2 437.5,248.5 437.6,249.0 437.8,248.7 437.9,249.3 438.1,249.4 438.3,249.4 438.4,249.4M438.7,249.4 438.9,249.5 439.1,249.5 439.2,248.9 439.4,247.6 439.5,248.8 439.7,249.1M440.0,249.4 440.2,249.4 440.3,249.5 440.5,249.5 440.7,249.5 440.8,249.1 441.0,248.9 441.1,248.7 441.3,248.4 441.5,247.9 441.6,248.2 441.8,249.0 441.9,249.1 442.1,248.5 442.3,248.3 442.4,248.3 442.6,248.7 442.7,248.9 442.9,246.7 443.1,244.9 443.2,244.3 443.4,245.1 443.5,246.4 443.7,247.1 443.9,246.5 444.0,242.8 444.2,242.8 444.3,243.8 444.5,240.8 444.7,238.2 444.8,241.6 445.0,240.8 445.1,218.9 445.3,243.4 445.5,234.9 445.6,241.9 445.8,246.3 445.9,244.6 446.1,244.5 446.3,246.4 446.4,246.8 446.6,247.5 446.7,248.0 446.9,248.3 447.1,248.6 447.2,248.5 447.4,248.9 447.5,249.1 447.7,249.2 447.9,249.3 448.0,249.4 448.2,249.4 448.3,249.4M449.8,249.5 450.0,249.2 450.1,249.3 450.3,249.5 450.4,249.4 450.6,249.0 450.8,249.0 450.9,249.5 451.1,249.5 451.2,249.2 451.4,249.5 451.6,249.5 451.7,249.2 451.9,249.5 452.0,249.5 452.2,249.4M452.5,249.5 452.7,249.4 452.8,249.4 453.0,249.5M453.5,249.4 453.6,249.5M454.8,248.1 454.9,248.6 455.1,248.7 455.2,247.3 455.4,247.5 455.6,245.8 455.7,242.7 455.9,245.3 456.0,245.4 456.2,241.6 456.4,239.1 456.5,245.6 456.7,243.8 456.8,242.6 457.0,244.0 457.2,235.1 457.3,245.4 457.5,242.3 457.6,244.5 457.8,244.7 458.0,246.0 458.1,246.3 458.3,247.5 458.4,248.2 458.6,247.9 458.8,248.7 458.9,248.6 459.1,247.8M459.4,249.2 459.6,249.2 459.7,249.4 459.9,249.4 460.0,249.4 460.2,249.4 460.4,249.4 460.5,248.8 460.7,249.0 460.9,249.4 461.0,249.5 461.2,249.5 461.3,249.4 461.5,249.4 461.7,249.0 461.8,249.1 462.0,249.5 462.1,249.5M462.8,249.5 462.9,249.5 463.1,249.5 463.3,249.5 463.4,249.2 463.6,249.2 463.7,249.5 463.9,249.5 464.1,249.3 464.2,249.2 464.4,249.5 464.5,249.1 464.7,248.3 464.9,249.2 465.0,248.4 465.2,248.6 465.3,249.4 465.5,249.4 465.7,249.4 465.8,249.4 466.0,249.4 466.1,248.7 466.3,249.3 466.5,249.4 466.6,249.3 466.8,249.4 466.9,249.1 467.1,248.4 467.3,248.6 467.4,248.3 467.6,248.3M467.9,248.5 468.1,247.5 468.2,247.8 468.4,246.3 468.5,247.6 468.7,246.1 468.9,241.9 469.0,239.0 469.2,243.6 469.3,247.6 469.5,245.3 469.7,247.0 469.8,248.3 470.0,247.1 470.1,247.7 470.3,247.4 470.5,248.8 470.6,249.1 470.8,249.0M471.3,249.3 471.4,249.3 471.6,249.4 471.7,249.1 471.9,248.8 472.1,249.5 472.2,249.5 472.4,249.4 472.5,249.4 472.7,249.3 472.9,248.9 473.0,249.4 473.2,249.5M473.5,249.5 473.7,249.2 473.8,248.8 474.0,249.5 474.2,249.5 474.3,249.5 474.5,249.2 474.6,249.0 474.8,249.0 475.0,249.5 475.1,249.5 475.3,249.4 475.4,249.2 475.6,249.5 475.8,249.5 475.9,249.4 476.1,249.3 476.2,249.5M476.6,249.4 476.7,249.5 476.9,248.9 477.0,249.1 477.2,249.5 477.4,249.4 477.5,249.4 477.7,249.5M479.0,248.5 479.1,248.1 479.3,247.3 479.4,246.6 479.6,248.3 479.8,248.5 479.9,248.2 480.1,247.4 480.2,245.2 480.4,245.4 480.6,246.4 480.7,247.2 480.9,241.3 481.0,238.2 481.2,245.1 481.4,246.2 481.5,244.9 481.7,247.2 481.8,246.9 482.0,247.6 482.2,248.3 482.3,248.0 482.5,246.8 482.6,248.4 482.8,249.0 483.0,249.2 483.1,248.1 483.3,248.1 483.4,248.6 483.6,249.3 483.8,249.4 483.9,249.1M484.4,249.1 484.6,249.4 484.7,249.5 484.9,249.5 485.1,249.5 485.2,249.5 485.4,249.5 485.5,249.4 485.7,249.1 485.9,249.5 486.0,249.2 486.2,248.4 486.3,248.8 486.5,249.4 486.7,249.5 486.8,249.5M487.3,249.4 487.5,249.2M487.8,249.1 487.9,249.1 488.1,249.4 488.3,249.4 488.4,249.3 488.6,249.5 488.7,249.5 488.9,249.0M489.5,249.2 489.7,249.4 489.9,249.4 490.0,249.3 490.2,249.0 490.3,248.7 490.5,249.0 490.7,248.5 490.8,247.0 491.0,247.3 491.1,247.8M491.5,247.2 491.6,247.0 491.8,246.2 491.9,245.7 492.1,243.5 492.3,243.7 492.4,240.7 492.6,235.7 492.7,245.1 492.9,243.2 493.1,244.4 493.2,243.2 493.4,242.6 493.5,239.2 493.7,245.0 493.9,247.7 494.0,248.2 494.2,248.4 494.3,247.0 494.5,244.7 494.7,247.2 494.8,248.0 495.0,247.9 495.1,248.9 495.3,249.1 495.5,248.8 495.6,249.4 495.8,249.4 495.9,249.4 496.1,249.3 496.3,248.9M496.6,248.9 496.7,249.2 496.9,249.5 497.1,249.5 497.2,249.5 497.4,249.5 497.6,249.5 497.7,249.5 497.9,249.4M498.2,248.9 498.4,248.5 498.5,249.4 498.7,248.8 498.8,248.1 499.0,249.4M499.3,249.3 499.5,248.9 499.6,249.1 499.8,249.5 500.0,249.5 500.1,249.3M500.6,249.5 500.8,249.5 500.9,249.4 501.1,249.5 501.2,249.5 501.4,249.5 501.6,249.2 501.7,249.1 501.9,249.2 502.0,249.3 502.2,249.0 502.4,248.4 502.5,247.9 502.7,247.2 502.8,247.4 503.0,247.3 503.2,247.7 503.3,248.0 503.5,244.7 503.6,244.9 503.8,245.3 504.0,244.5 504.1,244.9 504.3,245.7 504.4,243.1 504.6,238.2 504.8,241.7 504.9,240.9 505.1,244.1 505.2,245.5 505.4,229.2 505.6,237.0 505.7,243.2 505.9,241.6M506.5,246.6 506.7,247.4 506.8,245.3 507.0,245.2M507.3,246.2 507.5,240.6 507.6,241.4 507.8,227.6 508.0,236.3 508.1,238.0 508.3,245.8 508.4,247.7 508.6,243.9 508.8,248.2 508.9,246.3 509.1,247.1M511.7,249.2 511.8,249.0 512.0,249.5 512.1,249.5 512.3,249.5 512.5,249.5 512.6,249.4 512.8,249.1 512.9,249.1 513.1,249.4 513.3,249.5 513.4,249.5 513.6,249.4M514.4,248.6 514.5,248.2 514.7,248.3 514.9,247.7 515.0,248.1 515.2,249.0 515.3,248.8 515.5,247.9 515.7,247.6 515.8,245.1M516.5,244.6 516.6,244.3 516.8,244.6 516.9,234.1 517.1,242.7 517.3,245.2 517.4,245.5M518.2,247.2 518.2,247.2M518.9,247.5 519.0,249.1 519.2,249.1 519.3,249.2 519.5,249.4 519.7,249.3 519.8,249.4 520.0,249.4 520.1,249.4 520.3,249.4 520.5,249.5 520.6,249.4 520.8,249.2 521.0,249.3 521.1,249.3 521.3,249.4 521.4,249.5 521.6,249.5 521.8,249.5 521.9,249.5 522.1,249.5 522.2,249.5 522.4,248.7 522.6,249.3 522.7,249.5 522.9,249.5 523.0,249.5 523.2,248.2 523.4,248.4 523.5,248.6 523.7,249.1 523.8,249.5 524.0,249.5 524.2,249.5 524.3,249.2 524.5,249.1 524.6,249.4 524.8,249.0 525.0,249.4 525.1,249.4 525.3,249.4 525.4,249.4 525.6,249.4M526.1,248.9 526.2,248.5 526.4,248.4 526.6,249.2 526.7,249.3 526.9,249.1 527.0,248.4 527.2,247.5 527.4,248.0 527.5,248.5 527.7,248.6 527.8,248.3 528.0,247.5 528.2,246.9 528.3,244.9 528.5,246.4 528.6,242.0 528.8,243.8 529.0,237.0 529.1,233.0 529.3,233.6 529.4,219.4 529.6,234.7 529.8,241.8 529.9,241.5 530.1,247.1 530.2,242.0 530.4,247.2 530.6,246.0 530.7,247.1 530.9,246.9 531.0,248.9 531.2,248.9 531.4,249.0 531.5,248.9 531.7,248.8 531.8,249.1 532.0,249.1 532.2,249.3 532.3,249.2 532.5,249.3 532.6,249.4 532.8,249.4M529.4,188.0 529.4,189.6" stroke="#000000"/>
</g>
<path d="M340.5,168.7v2.2M340.5,253.7v-2.2M364.5,168.7v2.2M364.5,253.7v-2.2M388.6,168.7v2.2M388.6,253.7v-2.2M412.6,168.7v2.2M412.6,253.7v-2.2M436.6,168.7v2.2M436.6,253.7v-2.2M460.7,168.7v2.2M460.7,253.7v-2.2M484.7,168.7v2.2M484.7,253.7v-2.2M508.8,168.7v2.2M508.8,253.7v-2.2M316.4,250.4h2.2M532.8,250.4h-2.2M316.4,234.1h2.2M532.8,234.1h-2.2M316.4,217.8h2.2M532.8,217.8h-2.2M316.4,201.4h2.2M532.8,201.4h-2.2M316.4,185.0h2.2M532.8,185.0h-2.2" stroke="#000" stroke-width="1" fill="none"/>
<rect x="316.4" y="168.7" width="216.4" height="85.0" fill="none" stroke="#222" stroke-width="1.3"/>
<text x="316.4" y="265.8" font-size="9.3" text-anchor="middle">2000</text>
<text x="340.5" y="265.8" font-size="9.3" text-anchor="middle">2002</text>
<text x="364.5" y="265.8" font-size="9.3" text-anchor="middle">2004</text>
<text x="388.6" y="265.8" font-size="9.3" text-anchor="middle">2006</text>
<text x="412.6" y="265.8" font-size="9.3" text-anchor="middle">2008</text>
<text x="436.6" y="265.8" font-size="9.3" text-anchor="middle">2010</text>
<text x="460.7" y="265.8" font-size="9.3" text-anchor="middle">2012</text>
<text x="484.7" y="265.8" font-size="9.3" text-anchor="middle">2014</text>
<text x="508.8" y="265.8" font-size="9.3" text-anchor="middle">2016</text>
<text x="532.8" y="265.8" font-size="9.3" text-anchor="middle">2018</text>
<text x="313.3" y="254.2" font-size="9.3" text-anchor="end">0</text>
<text x="313.3" y="237.9" font-size="9.3" text-anchor="end">1</text>
<text x="313.3" y="221.6" font-size="9.3" text-anchor="end">2</text>
<text x="313.3" y="205.2" font-size="9.3" text-anchor="end">3</text>
<text x="313.3" y="188.8" font-size="9.3" text-anchor="end">4</text>
<text x="313.3" y="172.5" font-size="9.3" text-anchor="end">5</text>
<text x="424.6" y="161.8" font-size="11.5" text-anchor="middle">Ji Paraná - JP</text>
<text x="424.6" y="279.5" font-size="11.6" text-anchor="middle">Date</text>
<text transform="translate(301.4,211.6) rotate(-90)" font-size="11.3" text-anchor="middle">AOD</text>
<text x="325.8" y="186.5" font-size="10.2" font-weight="bold">d)</text>
<path d="M55.6,313.7V398.7M79.7,313.7V398.7M103.7,313.7V398.7M127.8,313.7V398.7M151.8,313.7V398.7M175.8,313.7V398.7M199.9,313.7V398.7M223.9,313.7V398.7M31.6,395.4H248.0M31.6,379.1H248.0M31.6,362.8H248.0M31.6,346.4H248.0M31.6,330.1H248.0" stroke="#ababab" stroke-width="1" stroke-dasharray="1.3,2.2" fill="none"/>
<clipPath id="ce"><rect x="31.6" y="313.7" width="216.4" height="85.0"/></clipPath>
<g clip-path="url(#ce)" fill="none" stroke-width="1.6" stroke-linejoin="round">
<path d="M61.1,392.5 61.1,392.5M61.9,390.1 62.1,391.7 62.2,390.7 62.4,388.7 62.5,387.3 62.7,389.1 62.9,381.7 63.0,387.6 63.2,390.4 63.3,384.9 63.5,388.9 63.7,389.1M64.5,392.5 64.6,389.2M65.1,390.8 65.3,391.8 65.4,392.0 65.6,392.4 65.7,391.8 65.9,392.0 66.1,389.9 66.2,391.2 66.4,386.9 66.5,384.0 66.7,388.4 66.9,389.0 67.0,387.1 67.2,389.6 67.3,393.5M68.3,394.0 68.5,394.0M68.8,394.1 68.9,394.1 69.1,393.8 69.3,393.5 69.4,394.1 69.6,394.1 69.7,394.1 69.9,394.1 70.1,394.1 70.2,394.1 70.4,392.1 70.5,392.8 70.7,394.1 70.9,394.1M71.3,393.1 71.3,393.1M72.0,393.1 72.1,390.0 72.3,390.0M73.1,391.4 73.3,391.3 73.4,392.1 73.6,386.0 73.8,388.8 73.9,390.6 74.1,386.5M74.4,390.6 74.6,386.7 74.7,389.5 74.9,391.1 75.0,391.4M77.0,384.0 77.1,389.3M77.8,393.6 77.9,393.8 78.1,393.6 78.2,391.1 78.4,392.2 78.6,392.6 78.7,391.6 78.9,393.6 79.0,393.3 79.2,394.0 79.4,394.1 79.5,393.8 79.7,391.4 79.8,392.4 80.0,394.1 80.2,394.1 80.3,394.1M81.3,394.1 81.3,394.1M81.9,393.4 82.1,394.1 82.2,394.1 82.4,394.1 82.6,394.1 82.7,394.1 82.9,394.1 83.0,394.1 83.2,394.1 83.4,394.1 83.5,394.1 83.7,394.1 83.8,393.5M84.2,393.4 84.3,393.7M84.6,393.5 84.6,393.5M85.3,392.5 85.4,392.1 85.6,390.8 85.8,385.6 85.9,391.9 86.1,391.3 86.3,386.5 86.4,391.1 86.6,393.0 86.7,387.3 86.9,392.3 87.1,393.8 87.2,391.6M87.7,391.0 87.9,391.0 88.0,390.0 88.2,386.8 88.3,392.7 88.5,390.3 88.7,386.1 88.8,389.3 89.0,387.8 89.1,390.6 89.3,391.3 89.5,391.9 89.6,388.6 89.8,388.1 89.9,380.7 90.1,383.4 90.3,389.5 90.4,389.7 90.6,392.1 90.7,392.6 90.9,393.4 91.1,393.0 91.2,393.2 91.4,393.7 91.5,393.8 91.7,392.5 91.9,393.9 92.0,394.0 92.2,393.4 92.3,394.0 92.5,393.6 92.7,393.7 92.8,394.1 93.0,394.1 93.1,394.1 93.3,394.1 93.5,394.1 93.6,394.1 93.8,394.1 93.9,394.0M94.7,392.1 94.9,392.5 95.1,393.7 95.2,394.1 95.4,394.1 95.5,394.1 95.7,392.8 95.9,391.2 96.0,392.6 96.2,393.4 96.3,393.8 96.5,393.1 96.7,393.0 96.8,394.1M97.3,393.7 97.5,393.6 97.6,393.4 97.8,393.0 98.0,392.8 98.1,391.9 98.3,390.5 98.4,387.8 98.6,385.6 98.8,390.5 98.9,385.4 99.1,384.0 99.2,390.1 99.4,391.7 99.6,388.6 99.7,390.6 99.9,392.9 100.0,392.8 100.2,388.1M100.5,391.6 100.7,391.8 100.8,389.5 101.0,388.8 101.2,393.7 101.3,394.1 101.5,394.1M101.8,393.8 102.0,391.7 102.1,388.1 102.3,391.4 102.4,392.2 102.6,390.3 102.8,392.0 102.9,394.0 103.1,394.1 103.2,394.1 103.4,391.6 103.6,393.7 103.7,394.1 103.9,394.1 104.0,394.1M104.8,387.7 104.8,387.7M105.6,393.9 105.8,394.1 106.0,394.1 106.1,394.1 106.3,394.1 106.4,394.1 106.6,393.7 106.8,391.6 106.9,393.3 107.1,393.9 107.2,394.1 107.4,394.0 107.6,394.1 107.7,394.1 107.9,393.5 108.0,393.6M108.7,391.8 108.8,393.2 109.0,394.1 109.2,394.1 109.3,392.5 109.5,392.8M109.8,390.9 110.0,384.0 110.1,388.6 110.3,389.0 110.5,384.4 110.6,386.3M110.9,389.9 110.9,389.9M111.9,392.0 112.1,392.1 112.2,387.9 112.4,385.4 112.5,390.3 112.7,392.2 112.9,390.7 113.0,389.3 113.2,391.2 113.3,392.8 113.5,393.3 113.7,393.4M114.6,390.8 114.6,390.8M115.7,393.6 115.9,391.2 116.1,391.0 116.2,392.5 116.4,394.1 116.5,394.1 116.7,394.1 116.9,394.1 117.0,392.9M117.3,394.1 117.5,392.8 117.7,389.3M118.1,385.9 118.3,392.5M118.6,394.1 118.8,394.1 118.9,394.1 119.1,392.6 119.3,391.6M120.2,390.5 120.4,393.0 120.5,392.5 120.7,390.5 120.9,390.8 121.0,393.9 121.2,394.1 121.3,393.7 121.5,394.1 121.7,391.8 121.8,388.2 122.0,389.5 122.2,385.3 122.3,388.7 122.5,392.3 122.6,391.0M123.0,389.0 123.1,389.2 123.3,384.0 123.4,384.0 123.6,388.0 123.8,389.7 123.9,391.2 124.1,387.4 124.2,384.4 124.4,385.1M125.0,384.0 125.0,384.0M128.1,394.0 128.2,394.1 128.4,394.1 128.6,394.1M129.8,394.1 130.0,394.1 130.2,394.1 130.3,394.1 130.5,393.3M131.6,394.1 131.8,394.1 131.9,394.1 132.1,394.1 132.2,394.1 132.4,393.5 132.6,390.7 132.7,393.8 132.9,394.0 133.0,393.4 133.2,393.8M133.9,393.5 134.0,394.1 134.2,393.9 134.3,390.9 134.5,392.1M134.8,390.9 135.0,388.8 135.1,388.3 135.3,389.0M136.1,384.0 136.3,389.6 136.4,393.5 136.6,392.8M136.9,389.4 137.1,390.0 137.2,390.6 137.4,388.8 137.5,393.0 137.7,393.5M138.5,394.1 138.7,393.7 138.8,390.3 139.0,391.9 139.1,393.8 139.3,394.1 139.5,392.6 139.6,390.1 139.8,394.1 139.9,394.1M140.4,393.2 140.6,394.1 140.7,394.1 140.9,394.1M143.1,394.1 143.3,394.1 143.5,394.1 143.6,394.1 143.8,394.1 143.9,394.1 144.1,392.9 144.3,391.1 144.4,393.4 144.6,394.0 144.7,393.3 144.9,393.5 145.1,392.9 145.2,392.1 145.4,393.1 145.5,391.8 145.7,391.6 145.9,393.1 146.0,390.0 146.2,386.3 146.4,389.9 146.5,387.3 146.7,387.4 146.8,389.2 147.0,386.6 147.2,386.1M147.8,384.0 148.0,384.0 148.1,384.0 148.3,386.5 148.4,384.0 148.6,384.0 148.8,385.4 148.9,384.0 149.1,384.0 149.2,387.4 149.4,393.9 149.6,393.7 149.7,393.6 149.9,393.3 150.0,390.1 150.2,384.0 150.4,388.0 150.5,387.0 150.7,388.0 150.8,392.4 151.0,393.6 151.2,393.9 151.3,394.0M152.0,394.0 152.1,394.1 152.3,393.7 152.4,394.1 152.6,394.1 152.8,394.1 152.9,394.1 153.1,394.1 153.2,394.1 153.4,394.1 153.6,394.1 153.7,393.3 153.9,392.5 154.0,394.1 154.2,394.1 154.4,391.0 154.5,392.1M156.1,391.3 156.3,394.1M156.9,393.4 157.1,393.5 157.2,391.7 157.4,391.1M159.2,384.5 159.3,384.5 159.5,384.0 159.7,366.8 159.8,384.0 160.0,382.8 160.1,389.8 160.3,384.0 160.5,387.6 160.6,391.2 160.8,387.4M161.4,387.3 161.6,392.6 161.7,393.4 161.9,391.0M163.0,393.4 163.2,393.3M163.5,393.9 163.7,394.1 163.8,393.7 164.0,394.1 164.1,394.1M164.6,394.1 164.8,394.1 164.9,394.1 165.1,394.1 165.3,394.1 165.4,394.1 165.6,393.0 165.7,392.7 165.9,393.6 166.1,394.1 166.2,394.1 166.4,393.3 166.5,393.9 166.7,393.5 166.9,392.4M168.3,392.5 168.5,394.1 168.6,393.8 168.8,393.4 168.9,394.1 169.1,394.1 169.3,393.6 169.4,392.7 169.6,392.4 169.7,392.3 169.9,391.6 170.1,389.8 170.2,389.7 170.4,388.0 170.6,392.4 170.7,393.1 170.9,391.0 171.0,392.1 171.2,393.1 171.4,392.9 171.5,391.5 171.7,394.1 171.8,394.1M172.2,392.4 172.3,392.6 172.5,393.4 172.6,394.0 172.8,394.0 173.0,394.1 173.1,394.1 173.3,393.3 173.4,391.4M176.3,394.1 176.5,394.1 176.6,394.1 176.8,394.1 177.0,392.1 177.1,391.7 177.3,394.1 177.4,394.1 177.6,394.1 177.8,394.1 177.9,394.1 178.1,394.1 178.2,394.1M178.9,391.4 178.9,391.4M179.2,394.1 179.4,394.1 179.5,394.1 179.7,394.1 179.8,392.8 180.0,390.8 180.2,393.5M180.5,391.5 180.6,392.8 180.8,394.0 181.0,393.2 181.1,391.5 181.3,394.0 181.4,394.0 181.6,393.6 181.8,391.2M182.6,391.1 182.7,390.3 182.9,388.7 183.1,381.7 183.2,388.5 183.4,390.2 183.5,385.3 183.7,387.3 183.9,391.2 184.0,384.0 184.2,384.0 184.3,388.9 184.5,392.0 184.7,389.6 184.8,384.0M185.1,391.6 185.3,392.1 185.5,392.9M185.9,387.5 185.9,387.5M186.4,393.8 186.6,394.0 186.7,394.1 186.9,391.1 187.1,392.3 187.2,393.9 187.4,394.1 187.5,394.1 187.7,394.1 187.9,394.0 188.0,393.5 188.2,393.4 188.3,394.1 188.5,394.1 188.7,394.1 188.8,394.1 189.0,392.6M190.3,394.1 190.4,394.1 190.6,394.1 190.7,394.1 190.9,390.0 191.1,388.2 191.2,386.9 191.4,392.9 191.5,394.1 191.7,394.1 191.9,394.1 192.0,393.0 192.2,394.1 192.3,394.1 192.5,394.1 192.7,394.1 192.8,394.1 193.0,394.0M193.5,389.7 193.6,391.9 193.8,390.7 194.0,392.5 194.1,392.2 194.3,389.4 194.4,390.5 194.6,385.9 194.8,389.1 194.9,388.8 195.1,385.6 195.2,389.3 195.4,390.5 195.6,390.6M196.0,391.6 196.2,385.9 196.4,384.8 196.5,388.2 196.7,386.0 196.8,384.0 197.0,386.8 197.2,390.8 197.3,391.7 197.5,390.8 197.6,388.4 197.8,389.8 198.0,391.9 198.1,392.6 198.3,393.4 198.4,393.4 198.6,393.3 198.8,393.1 198.9,392.7 199.1,393.1 199.2,393.4 199.4,394.1 199.6,394.1 199.7,394.1 199.9,394.1 200.0,393.5 200.2,393.4 200.4,394.1 200.5,394.1 200.7,394.1M201.0,393.4 201.2,393.3 201.3,393.5M201.8,394.1 202.0,394.1 202.1,394.1 202.3,394.1 202.4,392.9M203.1,393.8 203.2,391.7 203.4,393.8 203.6,394.1 203.7,393.5 203.9,392.2M204.5,393.6 204.7,394.0 204.8,393.8 205.0,392.2 205.2,389.7 205.3,391.6 205.5,390.4 205.6,388.2 205.8,392.0 206.0,393.6 206.1,391.2 206.3,386.0 206.5,384.0 206.6,384.0 206.8,386.1 206.9,385.9 207.1,385.7 207.3,384.0 207.4,384.5 207.6,388.4 207.7,384.9 207.9,385.3 208.1,384.0 208.2,384.0 208.4,389.5M210.3,392.1 210.5,390.6M211.4,393.4 211.4,393.4M211.7,393.9 211.9,394.1 212.1,394.1 212.2,392.9 212.4,392.8M213.3,394.1 213.5,394.1 213.7,394.1 213.8,394.1 214.0,393.2M214.3,392.7 214.5,394.1 214.6,394.1 214.8,394.1 214.9,392.3 215.1,393.3 215.3,394.1 215.4,394.1 215.6,394.0 215.7,393.9 215.9,394.1 216.1,394.1M216.5,394.1 216.7,393.8 216.9,393.3 217.0,390.3 217.2,393.0 217.3,393.2 217.5,385.7M218.3,394.0 218.5,393.1 218.6,389.1 218.8,389.0 219.0,389.5 219.1,389.1 219.3,388.7 219.4,390.8 219.6,392.1M220.9,387.8 221.0,389.9 221.2,389.2 221.4,389.2 221.5,390.3 221.7,389.9 221.8,383.8 222.0,378.5 222.2,352.9 222.3,380.0 222.5,383.2 222.6,387.8 222.8,389.4 223.0,391.6 223.1,392.5M223.6,393.4 223.8,393.7 223.9,393.9 224.1,394.0 224.2,394.1 224.4,394.1 224.6,394.1M227.0,394.1 227.1,394.1 227.3,391.8 227.4,390.2 227.6,394.0 227.8,394.0 227.9,394.1 228.1,394.1M229.2,393.7 229.4,390.3 229.5,391.3 229.7,394.1 229.8,394.1 230.0,392.0 230.2,387.9 230.3,386.3 230.5,387.4 230.7,390.7 230.8,386.8 231.0,385.7 231.1,391.0 231.3,389.6 231.5,384.0 231.6,384.0M234.8,394.1 235.0,394.1 235.1,393.4 235.3,392.7 235.5,393.2 235.6,394.1 235.8,394.1 235.9,394.1 236.1,394.1 236.3,392.6 236.4,392.8 236.6,394.1 236.7,394.1M237.9,394.1 238.0,394.1 238.2,394.0 238.3,394.1 238.5,394.1M240.3,394.1 240.4,393.5 240.6,392.2 240.7,393.6 240.9,394.1 241.1,393.9 241.2,393.4 241.4,394.1 241.5,394.1M241.9,393.2 242.0,392.4 242.2,390.8 242.4,390.5 242.5,390.2 242.7,389.1M243.0,384.0 243.2,384.0M244.1,389.4 244.3,389.5 244.4,389.8 244.6,384.0 244.8,384.0M246.0,393.6 246.2,391.1 246.4,388.5 246.5,392.1 246.7,390.5 246.8,389.5 247.0,388.6 247.2,388.0 247.3,377.5 247.5,388.8 247.6,385.6 247.8,389.8M113.3,376.0 113.3,382.9M124.2,376.6 124.2,384.8M134.7,374.2 134.7,381.6" stroke="#d42430"/>
<path d="M62.4,394.5 62.5,394.0 62.7,393.6 62.9,393.2M64.9,394.5 65.1,394.0 65.3,393.9M65.6,393.9 65.7,392.1 65.9,389.5 66.1,384.0 66.2,388.6 66.4,389.5 66.5,391.4 66.7,392.3 66.9,393.4 67.0,394.6M70.2,394.9 70.2,394.9M70.7,395.1 70.9,395.1M88.0,394.3 88.2,394.2 88.3,394.5 88.5,394.2 88.7,394.4M90.3,395.1 90.3,395.1M95.2,395.1 95.4,395.0 95.5,394.8 95.7,395.0 95.9,395.0M96.5,395.1 96.7,395.1 96.8,395.1M98.1,392.3 98.3,391.0 98.4,385.1 98.6,360.5 98.8,376.4 98.9,387.7 99.1,392.7M99.6,394.4 99.6,394.4M101.8,395.0 102.0,395.1 102.1,395.1 102.3,395.1M108.5,395.0 108.7,395.0M112.4,391.9 112.5,393.3 112.7,393.9 112.9,394.2 113.0,394.6M121.3,395.1 121.5,395.1 121.7,394.7 121.8,394.8 122.0,394.9 122.2,394.9 122.3,394.8M122.6,394.8 122.6,394.8M127.3,395.1 127.4,395.0 127.6,394.5 127.8,395.1M129.8,394.9 130.0,395.0 130.2,395.0 130.3,395.1 130.5,395.1 130.6,395.1 130.8,394.9M133.5,395.1 133.7,395.0M138.0,395.1 138.2,395.1 138.3,395.1M144.9,394.9 144.9,394.9M148.0,394.7 148.1,394.7 148.3,394.6 148.4,395.0 148.6,394.8 148.8,392.8M150.8,395.0 151.0,394.8 151.2,395.0 151.3,395.1M153.1,395.1 153.1,395.1M154.2,395.1 154.4,395.1 154.5,395.1M155.8,395.1 156.0,395.0 156.1,395.0M158.4,394.7 158.5,394.9 158.7,394.8 158.9,394.4 159.0,393.9 159.2,392.1 159.3,388.1 159.5,390.6 159.7,370.9 159.8,387.9 160.0,392.0 160.1,393.5M161.4,395.0 161.6,395.1 161.7,395.1M162.9,395.1 163.0,395.1 163.2,395.1 163.3,395.1 163.5,395.1 163.7,395.1 163.8,394.8M166.5,394.6 166.5,394.6M170.2,395.0 170.4,394.9 170.6,394.9 170.7,394.6M178.7,395.1 178.9,395.1M181.8,395.1 181.9,395.1 182.1,395.1 182.3,394.8M183.7,394.7 183.9,394.5 184.0,394.7 184.2,394.2M185.1,394.9 185.3,394.6 185.5,395.0 185.6,395.1M196.2,393.9 196.2,393.9M198.1,394.9 198.1,394.9M199.9,395.1 200.0,395.1M206.9,394.1 207.1,394.3 207.3,390.6 207.4,382.9 207.6,392.0 207.7,391.4 207.9,393.8M211.3,395.1 211.4,395.1 211.6,395.1 211.7,395.1M218.2,394.8 218.2,394.8M221.2,393.1 221.4,393.6 221.5,394.9M227.1,395.1 227.3,395.1M229.0,395.1 229.2,395.1 229.4,395.1 229.5,395.1 229.7,395.1 229.8,394.9 230.0,394.5 230.2,394.7 230.3,395.1 230.5,395.1 230.7,394.8 230.8,394.5 231.0,393.8 231.1,392.4M233.4,394.3 233.4,394.3M234.3,395.1 234.3,395.1M235.9,395.1 236.1,395.1 236.3,395.1 236.4,394.8M242.7,393.2 242.8,392.3 243.0,392.2 243.2,390.5 243.3,393.7 243.5,392.7 243.6,391.1M245.1,393.2 245.1,393.2M245.4,394.2 245.4,394.2M246.4,395.1 246.5,395.1 246.7,395.1" stroke="#2c20b4"/>
<path d="M167.5,394.5 167.7,394.4 167.8,394.5 168.0,394.5 168.1,394.5 168.3,394.1 168.5,394.1 168.6,394.5 168.8,394.5 168.9,394.5 169.1,394.5 169.3,394.4 169.4,394.4 169.6,394.3 169.7,394.1 169.9,394.2 170.1,394.4 170.2,394.5 170.4,394.1 170.6,394.4 170.7,394.5 170.9,394.3 171.0,394.0 171.2,393.7 171.4,393.1M172.3,392.4 172.5,393.3 172.6,393.8 172.8,393.4 173.0,394.0 173.1,394.4M173.4,393.9 173.6,394.5 173.8,394.5 173.9,394.5 174.1,394.4 174.2,394.2 174.4,394.3 174.6,394.5 174.7,394.5 174.9,394.5 175.0,394.5 175.2,394.5 175.4,394.5 175.5,394.2 175.7,394.2 175.8,394.2 176.0,394.1 176.2,394.4 176.3,394.5 176.5,394.3 176.6,393.9 176.8,394.0 177.0,393.8 177.1,394.0M177.4,394.1 177.6,394.3 177.8,394.5 177.9,394.5 178.1,394.0 178.2,394.3 178.4,394.5 178.6,394.4 178.7,394.5 178.9,394.5 179.0,394.5 179.2,394.4 179.4,394.5 179.5,394.5 179.7,394.4 179.8,394.5 180.0,394.5 180.2,394.4 180.3,393.8 180.5,393.7 180.6,394.5 180.8,394.5 181.0,394.4 181.1,394.4 181.3,394.3 181.4,394.1 181.6,394.0 181.8,394.2 181.9,394.2 182.1,394.2 182.3,393.5 182.4,392.7 182.6,392.3 182.7,392.1 182.9,388.5 183.1,383.2 183.2,392.3 183.4,392.9 183.5,391.6 183.7,393.1 183.9,392.6 184.0,391.3 184.2,391.3 184.3,391.9 184.5,392.2 184.7,389.9 184.8,384.0 185.0,387.7 185.1,390.8 185.3,391.9 185.5,391.2 185.6,393.5 185.8,392.8 185.9,393.2 186.1,393.9 186.3,393.9 186.4,393.8 186.6,393.9 186.7,394.1 186.9,394.2 187.1,394.5 187.2,394.4 187.4,394.5 187.5,394.5 187.7,394.5 187.9,393.8 188.0,393.5 188.2,394.0 188.3,394.5 188.5,394.5 188.7,394.4 188.8,394.0 189.0,394.0 189.1,393.9 189.3,393.8 189.5,394.2 189.6,394.4 189.8,394.5 189.9,394.5 190.1,394.5 190.3,394.5 190.4,394.1 190.6,394.4 190.7,394.5 190.9,394.5 191.1,394.5 191.2,394.4 191.4,393.7 191.5,394.1M192.3,394.4 192.5,393.4 192.7,393.9 192.8,394.3 193.0,394.5 193.1,394.4 193.3,394.3 193.5,394.1 193.6,394.2 193.8,394.4 194.0,394.2M194.6,393.1 194.8,393.9 194.9,393.5 195.1,387.3 195.2,390.0 195.4,392.7 195.6,393.0 195.7,393.5 195.9,391.8 196.0,392.3 196.2,392.9 196.4,393.1 196.5,392.2 196.7,391.6 196.8,392.2 197.0,392.8 197.2,393.3 197.3,393.6 197.5,393.4 197.6,393.0 197.8,394.3 198.0,394.4 198.1,392.9M198.6,394.2 198.8,394.3 198.9,394.1 199.1,393.8 199.2,394.3 199.4,394.5 199.6,394.2 199.7,394.4 199.9,394.5 200.0,394.3 200.2,394.3 200.4,394.5 200.5,393.9 200.7,393.9 200.8,394.0 201.0,394.3M201.5,394.5 201.6,394.5 201.8,394.5 202.0,394.3M202.6,393.9 202.8,394.5 202.9,394.5 203.1,393.9 203.2,394.4 203.4,394.5 203.6,394.2 203.7,394.4 203.9,394.5 204.0,394.2 204.2,393.9 204.4,394.4 204.5,394.5 204.7,394.3 204.8,392.9 205.0,392.6 205.2,394.5 205.3,394.5 205.5,394.4 205.6,393.8 205.8,393.9 206.0,394.4 206.1,394.4 206.3,393.5 206.5,393.3 206.6,393.7 206.8,393.4 206.9,392.4 207.1,391.5 207.3,392.3 207.4,385.6 207.6,391.1 207.7,391.4 207.9,390.0 208.1,391.5 208.2,392.8 208.4,393.3 208.5,393.9 208.7,392.1 208.9,390.6 209.0,391.7 209.2,392.0M209.5,393.0 209.7,391.9 209.8,392.7 210.0,392.8 210.1,393.2 210.3,394.0 210.5,394.2 210.6,393.6 210.8,393.9 210.9,394.1 211.1,393.4 211.3,394.2 211.4,393.6 211.6,393.6 211.7,394.5M212.7,394.5 212.9,394.4 213.0,394.4 213.2,394.4 213.3,394.5 213.5,394.5 213.7,394.2M214.0,394.4 214.1,394.5 214.3,394.5 214.5,394.2 214.6,394.2 214.8,394.3 214.9,394.5 215.1,394.5 215.3,394.5 215.4,394.4 215.6,394.5 215.7,394.0 215.9,394.2 216.1,394.5 216.2,394.1 216.4,394.5 216.5,394.3 216.7,393.9 216.9,394.5 217.0,394.4 217.2,394.2 217.3,394.4 217.5,394.5 217.7,394.5 217.8,394.5 218.0,394.3 218.2,393.0 218.3,393.8 218.5,394.4 218.6,394.1 218.8,393.2 219.0,392.7 219.1,392.9 219.3,393.4 219.4,393.5 219.6,393.3 219.8,393.3 219.9,393.1 220.1,392.8 220.2,392.3 220.4,392.1 220.6,393.1 220.7,393.7 220.9,393.9 221.0,393.5 221.2,393.6 221.4,393.0 221.5,392.1 221.7,391.6 221.8,389.4 222.0,387.6 222.2,374.2 222.3,389.6 222.5,391.5 222.6,391.9 222.8,393.1 223.0,392.9M223.3,393.4 223.4,394.2 223.6,394.1 223.8,394.4 223.9,394.4 224.1,394.4 224.2,394.3 224.4,394.0 224.6,394.4 224.7,394.5 224.9,394.5 225.0,394.5 225.2,394.4 225.4,394.3 225.5,394.0 225.7,394.5 225.8,394.3 226.0,394.1 226.2,394.2M227.8,394.4 227.9,394.5 228.1,394.4 228.2,393.9 228.4,394.5 228.6,394.5 228.7,394.2 228.9,394.3M229.5,394.0 229.7,394.3 229.8,394.2 230.0,394.3 230.2,394.2 230.3,394.1M230.7,393.2 230.8,392.6 231.0,392.8 231.1,392.7 231.3,392.0 231.5,390.5 231.6,390.9 231.8,390.9 231.9,392.5 232.1,392.7 232.3,391.0 232.4,388.9 232.6,391.4 232.7,390.2 232.9,392.0 233.1,393.0 233.2,392.7 233.4,393.0 233.5,393.7 233.7,394.3 233.9,393.9 234.0,393.7 234.2,394.3 234.3,394.1 234.5,394.1 234.7,394.0 234.8,394.0 235.0,394.5 235.1,394.5M238.5,394.5 238.7,394.5 238.8,394.5M239.1,394.3 239.3,394.0 239.5,393.8 239.6,394.4 239.8,394.5 239.9,394.0 240.1,394.2 240.3,394.5 240.4,394.5 240.6,394.5 240.7,394.5 240.9,394.5 241.1,394.1 241.2,393.9 241.4,394.3 241.5,394.0 241.7,394.2 241.9,394.4 242.0,394.5 242.2,393.9 242.4,393.3 242.5,393.8 242.7,394.0 242.8,394.1 243.0,394.1 243.2,394.0 243.3,394.1M243.6,391.9 243.8,394.1 244.0,393.3 244.1,392.5 244.3,393.3 244.4,393.4 244.6,393.9 244.8,393.9 244.9,394.0 245.1,393.1 245.2,392.2 245.4,391.8 245.6,393.3 245.7,394.1 245.9,394.1 246.0,394.4 246.2,393.7 246.4,393.4 246.5,394.5 246.7,394.5M247.6,394.5 247.8,394.2 248.0,394.5" stroke="#000000"/>
</g>
<path d="M55.6,313.7v2.2M55.6,398.7v-2.2M79.7,313.7v2.2M79.7,398.7v-2.2M103.7,313.7v2.2M103.7,398.7v-2.2M127.8,313.7v2.2M127.8,398.7v-2.2M151.8,313.7v2.2M151.8,398.7v-2.2M175.8,313.7v2.2M175.8,398.7v-2.2M199.9,313.7v2.2M199.9,398.7v-2.2M223.9,313.7v2.2M223.9,398.7v-2.2M31.6,395.4h2.2M248.0,395.4h-2.2M31.6,379.1h2.2M248.0,379.1h-2.2M31.6,362.8h2.2M248.0,362.8h-2.2M31.6,346.4h2.2M248.0,346.4h-2.2M31.6,330.1h2.2M248.0,330.1h-2.2" stroke="#000" stroke-width="1" fill="none"/>
<rect x="31.6" y="313.7" width="216.4" height="85.0" fill="none" stroke="#222" stroke-width="1.3"/>
<text x="31.6" y="410.8" font-size="9.3" text-anchor="middle">2000</text>
<text x="55.6" y="410.8" font-size="9.3" text-anchor="middle">2002</text>
<text x="79.7" y="410.8" font-size="9.3" text-anchor="middle">2004</text>
<text x="103.7" y="410.8" font-size="9.3" text-anchor="middle">2006</text>
<text x="127.8" y="410.8" font-size="9.3" text-anchor="middle">2008</text>
<text x="151.8" y="410.8" font-size="9.3" text-anchor="middle">2010</text>
<text x="175.8" y="410.8" font-size="9.3" text-anchor="middle">2012</text>
<text x="199.9" y="410.8" font-size="9.3" text-anchor="middle">2014</text>
<text x="223.9" y="410.8" font-size="9.3" text-anchor="middle">2016</text>
<text x="248.0" y="410.8" font-size="9.3" text-anchor="middle">2018</text>
<text x="28.5" y="399.2" font-size="9.3" text-anchor="end">0</text>
<text x="28.5" y="382.9" font-size="9.3" text-anchor="end">1</text>
<text x="28.5" y="366.6" font-size="9.3" text-anchor="end">2</text>
<text x="28.5" y="350.2" font-size="9.3" text-anchor="end">3</text>
<text x="28.5" y="333.9" font-size="9.3" text-anchor="end">4</text>
<text x="28.5" y="317.5" font-size="9.3" text-anchor="end">5</text>
<text x="139.8" y="306.8" font-size="11.5" text-anchor="middle">Manaus - MN</text>
<text x="139.8" y="424.5" font-size="11.6" text-anchor="middle">Date</text>
<text transform="translate(16.6,356.6) rotate(-90)" font-size="11.3" text-anchor="middle">AOD</text>
<text x="41.0" y="331.5" font-size="10.2" font-weight="bold">e)</text>
<path d="M340.5,313.7V398.7M364.5,313.7V398.7M388.6,313.7V398.7M412.6,313.7V398.7M436.6,313.7V398.7M460.7,313.7V398.7M484.7,313.7V398.7M508.8,313.7V398.7M316.4,395.4H532.8M316.4,379.1H532.8M316.4,362.8H532.8M316.4,346.4H532.8M316.4,330.1H532.8" stroke="#ababab" stroke-width="1" stroke-dasharray="1.3,2.2" fill="none"/>
<clipPath id="cf"><rect x="316.4" y="313.7" width="216.4" height="85.0"/></clipPath>
<g clip-path="url(#cf)" fill="none" stroke-width="1.6" stroke-linejoin="round">
<path d="M345.9,393.3 346.1,390.8 346.3,387.7 346.4,391.8 346.6,392.1 346.7,391.7 346.9,391.5 347.1,387.4 347.2,386.0 347.4,388.0 347.5,389.5 347.7,389.5 347.9,388.3 348.0,384.0 348.2,384.0 348.3,384.0 348.5,384.0 348.7,384.0 348.8,384.0 349.0,383.7 349.1,370.9 349.3,384.0 349.5,384.0 349.6,384.0 349.8,385.2 349.9,388.0M351.5,392.8 351.7,392.5 351.9,392.8 352.0,393.5 352.2,393.5 352.3,392.6M353.5,394.1 353.5,394.1M353.8,394.1 353.8,394.1M354.1,394.1 354.3,394.1 354.4,394.1 354.6,394.1 354.8,394.1 354.9,394.1M355.6,390.8 355.7,394.1 355.9,394.1 356.0,393.8 356.2,394.1 356.4,392.2 356.5,392.9 356.7,394.1 356.8,394.1 357.0,394.1 357.2,391.2 357.3,393.0 357.5,394.0 357.6,394.0 357.8,392.8 358.0,390.7 358.1,392.8 358.3,393.5 358.4,392.5 358.6,392.8M360.4,388.2 360.5,385.1 360.7,383.5 360.8,369.6 361.0,351.5 361.2,384.3 361.3,386.4 361.5,389.9 361.6,386.6 361.8,391.3 362.0,392.2M362.6,393.5 362.8,393.9 362.9,394.0 363.1,391.8 363.2,390.6 363.4,392.1 363.6,392.6 363.7,392.6 363.9,394.1 364.0,394.1 364.2,394.1 364.4,394.0 364.5,394.1 364.7,394.1 364.9,393.8 365.0,393.9 365.2,394.1 365.3,394.1 365.5,394.0 365.7,394.1 365.8,394.1 366.0,394.1 366.1,394.1 366.3,393.8 366.5,393.8 366.6,394.1M366.9,393.8 367.1,391.9 367.3,390.5 367.4,393.7 367.6,394.1 367.7,394.1M368.1,394.1 368.2,393.9 368.4,393.4 368.5,392.6 368.7,392.6 368.9,393.3M369.7,393.4 369.8,394.1 370.0,394.1 370.1,393.7 370.3,392.9 370.5,391.7M370.8,385.2 370.8,385.2M372.4,387.2 372.5,379.9 372.7,385.4 372.9,357.4 373.0,379.2 373.2,381.3 373.3,385.6 373.5,389.0 373.7,387.8 373.8,392.0 374.0,392.7 374.1,392.0 374.3,392.2 374.5,389.8 374.6,391.1 374.8,393.9 374.9,393.4M375.4,393.3 375.6,393.6 375.7,393.6 375.9,393.4 376.1,393.8 376.2,393.9M377.5,394.1 377.7,394.1 377.8,394.1 378.0,394.1 378.2,393.8 378.3,393.0 378.5,394.1 378.6,394.1M379.1,391.1 379.3,393.6 379.4,394.1 379.6,393.9 379.8,392.4 379.9,390.0 380.1,393.6 380.2,394.1 380.4,394.1 380.6,394.1 380.7,394.1 380.9,394.1 381.0,394.1 381.2,394.1 381.4,394.1 381.5,394.1 381.7,394.1 381.8,394.1M383.9,384.0 384.1,384.0 384.2,367.2 384.4,348.0 384.6,383.3 384.7,390.2 384.9,391.6M385.2,390.6 385.4,393.4 385.5,390.7 385.7,384.0M387.4,392.7 387.4,392.7M387.9,393.5 387.9,393.5M388.6,394.1 388.7,394.1 388.9,394.1 389.1,394.1 389.2,394.1 389.4,394.1 389.5,394.1 389.7,394.1 389.9,394.1 390.0,393.7 390.2,394.1 390.3,394.1 390.5,394.1 390.7,394.1M392.1,393.0 392.3,394.1 392.4,394.1 392.6,394.1 392.7,393.9 392.9,393.3 393.1,393.9 393.2,394.0 393.4,393.6 393.5,393.8 393.7,394.1 393.9,394.1 394.0,392.6 394.2,393.6 394.3,392.7 394.5,389.2 394.7,391.8 394.8,390.1 395.0,388.5 395.1,390.5 395.3,390.9 395.5,392.8M395.8,393.1 395.9,390.7 396.1,384.0 396.3,384.0 396.4,384.0M396.7,390.8 396.9,389.3 397.1,384.3 397.2,387.6 397.4,384.0M397.9,391.7 398.0,392.2 398.2,394.0 398.3,394.1 398.5,391.3M399.8,391.6 399.9,393.1 400.1,393.5 400.3,393.2 400.4,393.2 400.6,393.4 400.8,393.4 400.9,393.6 401.1,394.1 401.2,394.1 401.4,394.1 401.6,393.5M403.2,393.8 403.3,393.4 403.5,392.8 403.6,394.1 403.8,394.1 404.0,394.1 404.1,394.1 404.3,394.1 404.4,393.9 404.6,393.8 404.8,394.1 404.9,394.1 405.1,394.0 405.2,393.4 405.4,393.7 405.6,394.0M407.0,384.5 407.2,393.0 407.3,391.3 407.5,384.0 407.6,388.8 407.8,392.1 408.0,392.2 408.1,392.8 408.3,392.7 408.4,384.2 408.6,385.2 408.8,392.4 408.9,390.4 409.1,389.9 409.2,391.6 409.4,388.3 409.6,384.0M410.0,392.4 410.2,393.2 410.4,391.7 410.5,393.8 410.7,393.4 410.8,390.3 411.0,393.1 411.2,394.1 411.3,393.8 411.5,393.0 411.6,392.5 411.8,394.1 412.0,394.1 412.1,394.1 412.3,394.1 412.4,394.1 412.6,394.1 412.8,393.9 412.9,393.2 413.1,393.4 413.3,394.1 413.4,393.8 413.6,393.9 413.7,393.5 413.9,393.0 414.1,394.1 414.2,394.1 414.4,394.1 414.5,394.1 414.7,394.1 414.9,394.1M415.3,394.1 415.5,394.1 415.7,394.1M416.1,394.1 416.3,394.1M418.5,393.1 418.7,389.0 418.9,384.0 419.0,384.6 419.2,384.0 419.3,386.2 419.5,391.9 419.7,391.6 419.8,387.7 420.0,387.0 420.1,385.6 420.3,384.9 420.5,387.3 420.6,384.0 420.8,384.0 420.9,384.0 421.1,384.0 421.3,385.4 421.4,390.1 421.6,387.0 421.7,384.0 421.9,379.1 422.1,385.8 422.2,387.1 422.4,384.0 422.5,384.0 422.7,386.3 422.9,384.0 423.0,388.4M423.3,393.5 423.5,393.7 423.7,392.6 423.8,387.0 424.0,391.4 424.1,393.3 424.3,392.3 424.5,393.4M425.0,391.6 425.0,391.6M427.0,394.1 427.2,394.1M428.6,393.9 428.8,394.1M429.6,390.0 429.8,391.8 429.9,392.7M430.2,391.1 430.4,389.7 430.6,391.2 430.7,388.6 430.9,387.5 431.0,388.6 431.2,388.4 431.4,386.2M432.3,388.6 432.5,386.7 432.6,384.0 432.8,384.0 433.0,384.0 433.1,384.0 433.3,388.7 433.4,389.8 433.6,386.5 433.8,388.0 433.9,388.7 434.1,385.9 434.2,384.0 434.4,389.4 434.6,386.8 434.7,384.0 434.9,389.2 435.0,392.1 435.2,392.4 435.4,391.1 435.5,390.3 435.7,390.6 435.8,389.1 436.0,388.6 436.2,394.1 436.3,394.1 436.5,392.5 436.6,393.4 436.8,394.1M437.5,394.1 437.5,394.1M438.1,393.6 438.3,393.5 438.4,394.1 438.6,394.1 438.7,394.1 438.9,393.5 439.1,393.4 439.2,392.7M440.0,394.0 440.2,394.1 440.3,394.1 440.5,394.1 440.7,394.1 440.8,394.1 441.0,394.1 441.1,393.0 441.3,394.1M441.6,394.1 441.8,391.5 441.9,390.3M442.7,391.8 442.9,393.0 443.1,393.8 443.2,393.3 443.4,393.2 443.5,392.0 443.7,392.7 443.9,393.1 444.0,393.3 444.2,393.9 444.3,391.9 444.5,384.0 444.7,384.0 444.8,391.8 445.0,392.0 445.1,389.4 445.3,391.9 445.5,390.8 445.6,389.4 445.8,391.6 445.9,391.1 446.1,391.1 446.3,391.5 446.4,388.7 446.6,394.1 446.7,394.1 446.9,390.7 447.1,392.1 447.2,393.6 447.4,393.9 447.5,393.8 447.7,393.1M448.3,393.1 448.3,393.1M449.0,393.8 449.2,394.1 449.3,394.1 449.5,394.1 449.6,394.1 449.8,394.0 450.0,388.0 450.1,387.8 450.3,393.5 450.4,394.1 450.6,394.1 450.8,394.1 450.9,394.1 451.1,394.1 451.2,394.1 451.4,393.8 451.6,394.1M452.2,394.1 452.4,394.1 452.5,394.0 452.7,394.0 452.8,394.1M454.3,392.5 454.4,392.3M454.8,394.1 454.9,392.5 455.1,393.0M455.6,392.1 455.7,391.8 455.9,391.9 456.0,384.0 456.2,384.0 456.4,388.1M456.7,385.4 456.8,389.0 457.0,390.0 457.2,391.2M457.8,390.6 457.8,390.6M458.1,391.7 458.3,390.7M459.2,394.1 459.4,394.1 459.6,394.1 459.7,392.5 459.9,392.7 460.0,392.0 460.2,392.9M461.2,393.1 461.3,394.0 461.5,393.9M462.5,394.1 462.6,394.1 462.8,394.1 462.9,394.1 463.1,393.6 463.3,394.1 463.4,392.7 463.6,392.1 463.7,394.1 463.9,394.1M464.2,394.1 464.4,394.1 464.5,393.8 464.7,393.2M465.0,392.0 465.2,393.6 465.3,393.8 465.5,390.6 465.7,390.2M466.3,392.7 466.5,391.2 466.6,384.0 466.8,384.0 466.9,391.2 467.1,392.7 467.3,390.1 467.4,387.8 467.6,384.0 467.7,384.0 467.9,384.0 468.1,384.0 468.2,384.0 468.4,384.0 468.5,387.7 468.7,384.0 468.9,386.0 469.0,384.0 469.2,384.0 469.3,393.3M470.0,384.0 470.0,384.0M470.3,384.0 470.5,384.0 470.6,390.3 470.8,392.3 470.9,390.3 471.1,391.6 471.3,391.2 471.4,390.5 471.6,391.5 471.7,392.2 471.9,393.8 472.1,394.1 472.2,394.1 472.4,392.7 472.5,392.5 472.7,393.4 472.9,394.1 473.0,394.0 473.2,394.0M474.3,391.7 474.5,392.6M475.0,391.2 475.0,391.2M475.6,394.1 475.8,391.3 475.9,390.0M476.6,394.1 476.7,394.1 476.9,394.1 477.0,393.5M477.8,394.1 477.8,394.1M478.3,393.3 478.5,393.9 478.6,394.1 478.8,393.2 479.0,389.8 479.1,391.8 479.3,393.4 479.4,394.1 479.6,393.1 479.8,390.6 479.9,390.0 480.1,393.8 480.2,393.3 480.4,391.4 480.6,388.5M481.0,391.2 481.2,388.0 481.4,388.8 481.5,381.1 481.7,389.9 481.8,389.0 482.0,389.9 482.2,391.5M482.6,393.7 482.8,393.2 483.0,392.1 483.1,392.6 483.3,391.5 483.4,393.3 483.6,394.0 483.8,394.1 483.9,394.1 484.1,394.1 484.2,394.1 484.4,394.1 484.6,393.3 484.7,392.9M485.5,394.1 485.7,394.1 485.9,393.7 486.0,393.3 486.2,394.1 486.3,394.1 486.5,394.1 486.7,394.1 486.8,394.1 487.0,394.1 487.1,393.6 487.3,393.9 487.5,394.1 487.6,394.1 487.8,393.7 487.9,392.0M488.4,394.1 488.6,394.1 488.7,394.1 488.9,393.8 489.1,393.2 489.2,394.1 489.4,394.1 489.5,391.5 489.7,393.9 489.9,394.1M490.8,384.9 491.0,389.2 491.1,388.4 491.3,387.9 491.5,392.6 491.6,392.9M493.1,389.3 493.1,389.3M493.5,384.0 493.7,384.0 493.9,384.0 494.0,384.9M495.6,390.9 495.8,391.4 495.9,390.7 496.1,393.3 496.3,393.8 496.4,392.9 496.6,394.1 496.7,394.0 496.9,394.1 497.1,393.5 497.2,394.1 497.4,394.1 497.6,393.0 497.7,390.9 497.9,394.1 498.0,394.1 498.2,394.1M499.8,393.2 500.0,393.7 500.1,394.1 500.3,394.1 500.4,394.1 500.6,394.1M500.9,394.1 501.1,394.1 501.2,392.9 501.4,392.6 501.6,393.5M502.2,392.9 502.4,393.6 502.5,394.1 502.7,393.8 502.8,392.7 503.0,393.8 503.2,394.0 503.3,392.5 503.5,391.1 503.6,387.2 503.8,384.0 504.0,384.0 504.1,389.3 504.3,391.4 504.4,391.9 504.6,392.5 504.8,389.5 504.9,388.7 505.1,385.7 505.2,380.4 505.4,373.1 505.6,385.7 505.7,385.2 505.9,387.1 506.0,390.2 506.2,387.8 506.4,384.0 506.5,388.4M506.8,390.1 507.0,393.3 507.2,393.7 507.3,394.0M508.0,393.7 508.1,391.4 508.3,391.6 508.4,391.3 508.6,392.2 508.8,393.5 508.9,393.6 509.1,392.7 509.3,392.2 509.4,393.5 509.6,393.5 509.7,393.6 509.9,394.1 510.1,394.1 510.2,393.9 510.4,394.0 510.5,394.1M511.0,394.1 511.2,393.0 511.3,393.4M512.6,393.3 512.8,393.2M514.7,392.7 514.9,391.9 515.0,392.4 515.2,390.8 515.3,388.5 515.5,388.1 515.7,385.4M517.1,390.3 517.3,390.5 517.4,392.1M518.1,386.5 518.2,392.6 518.4,392.4 518.5,391.5 518.7,393.4 518.9,393.9 519.0,393.5 519.2,391.0 519.3,391.9 519.5,393.9 519.7,392.6 519.8,391.5 520.0,392.3 520.1,392.7 520.3,393.8 520.5,394.1 520.6,394.1 520.8,393.9 521.0,394.1 521.1,394.1 521.3,390.1 521.4,391.6 521.6,391.8 521.8,393.9M522.6,394.1 522.7,394.1M523.0,394.1 523.2,394.1 523.4,393.8 523.5,391.7 523.7,392.5 523.8,394.0 524.0,393.5 524.2,394.1M524.5,394.1 524.6,393.8 524.8,393.8 525.0,392.2 525.1,388.7 525.3,391.4 525.4,394.0 525.6,394.1 525.8,394.1 525.9,394.1 526.1,393.9 526.2,393.7 526.4,393.7 526.6,392.4 526.7,391.8 526.9,393.7 527.0,392.5 527.2,391.3 527.4,389.4 527.5,387.7 527.7,389.2M529.0,391.9 529.1,387.9 529.3,390.2 529.4,380.7 529.6,385.3 529.8,384.8 529.9,389.9 530.1,391.4 530.2,392.2 530.4,393.2 530.6,392.9 530.7,393.1 530.9,392.1 531.0,392.8 531.2,393.8 531.4,392.4 531.5,391.4 531.7,389.0 531.8,391.7 532.0,393.1 532.2,392.4 532.3,393.9 532.5,394.1M532.8,392.3 532.8,392.3" stroke="#d42430"/>
<path d="M346.4,394.8 346.4,394.8M347.9,394.7 348.0,395.1 348.2,394.7M348.8,394.6 349.0,394.7M353.3,395.1 353.5,395.2 353.6,395.2 353.8,395.2 354.0,395.2 354.1,395.2 354.3,395.2 354.4,395.2 354.6,395.1M356.5,395.0 356.7,394.8 356.8,394.6 357.0,394.2 357.2,393.8 357.3,392.6 357.5,393.3 357.6,389.0 357.8,390.2 358.0,389.8 358.1,375.8 358.3,390.0 358.4,390.8 358.6,393.0 358.8,393.0M359.1,394.1 359.2,394.4 359.4,390.9 359.6,389.2 359.7,388.4 359.9,388.8 360.0,392.5 360.2,393.0 360.4,393.9 360.5,393.2M362.3,394.8 362.4,395.0 362.6,394.9 362.8,394.8 362.9,395.0 363.1,395.1 363.2,395.2 363.4,395.2 363.6,395.2 363.7,395.2 363.9,395.2 364.0,395.2M364.9,395.2 365.0,395.2 365.2,395.2 365.3,395.2 365.5,395.1 365.7,395.1 365.8,395.2 366.0,395.2M367.1,395.2 367.3,395.2 367.4,395.2 367.6,395.2M368.2,395.2 368.4,395.2 368.5,395.2 368.7,395.2 368.9,395.2 369.0,395.2 369.2,395.2 369.3,395.2 369.5,395.2 369.7,395.2 369.8,395.2 370.0,395.2 370.1,395.2M372.4,386.2 372.5,384.9 372.7,376.8 372.9,367.7 373.0,377.3 373.2,390.0 373.3,390.9M374.5,394.6 374.6,394.8M376.5,395.1 376.7,395.0 376.9,395.1 377.0,395.0 377.2,395.2 377.4,395.2 377.5,395.0 377.7,395.2 377.8,395.0 378.0,394.9 378.2,395.2M380.1,395.1 380.2,394.8 380.4,395.0 380.6,395.0 380.7,395.1 380.9,395.1 381.0,395.1M381.8,395.1 382.0,395.2M384.9,392.4 385.0,391.9 385.2,392.4 385.4,392.2 385.5,391.5 385.7,392.7 385.8,393.8 386.0,393.4 386.2,393.2 386.3,394.2 386.5,395.0 386.6,395.2 386.8,395.1 387.0,395.1 387.1,395.2 387.3,395.2 387.4,395.1 387.6,395.1 387.8,395.1 387.9,395.2M388.6,395.1 388.7,395.1 388.9,395.2 389.1,395.2 389.2,395.2 389.4,395.2 389.5,395.1 389.7,394.8 389.9,394.9 390.0,395.2M390.3,395.0 390.5,395.2 390.7,395.2 390.8,395.2 391.0,395.2M394.8,395.1 395.0,395.0 395.1,395.1 395.3,395.1 395.5,395.0 395.6,395.0 395.8,394.9M396.1,394.9 396.3,394.4 396.4,394.6 396.6,394.5 396.7,392.5 396.9,392.7 397.1,393.5 397.2,393.6 397.4,394.2 397.5,394.1 397.7,394.3 397.9,394.4 398.0,394.4 398.2,395.0 398.3,395.1 398.5,394.4 398.7,394.7 398.8,395.2 399.0,395.2 399.1,395.1 399.3,395.2 399.5,395.2 399.6,395.2 399.8,394.9 399.9,395.0 400.1,395.1 400.3,395.2 400.4,395.2 400.6,395.2 400.8,395.1 400.9,395.2 401.1,395.2 401.2,395.2 401.4,395.2M402.0,395.2 402.2,394.9 402.4,395.1 402.5,395.2 402.7,395.2 402.8,395.2 403.0,395.2 403.2,395.1 403.3,395.2 403.5,395.2 403.6,395.2 403.8,395.0M404.1,395.2 404.3,395.2 404.4,395.2 404.6,395.2 404.8,395.2 404.9,395.2M406.8,394.9 407.0,394.9 407.2,394.8 407.3,394.7 407.5,393.9 407.6,392.4 407.8,392.2 408.0,392.9 408.1,393.9 408.3,392.7 408.4,392.3 408.6,393.8 408.8,392.0 408.9,388.8 409.1,393.1 409.2,394.7 409.4,394.2 409.6,394.6 409.7,394.8 409.9,393.7 410.0,394.5 410.2,394.8 410.4,394.9 410.5,395.0 410.7,395.0 410.8,395.0 411.0,395.0 411.2,395.2 411.3,395.2M411.6,395.2 411.8,395.2 412.0,394.6 412.1,394.8M412.8,395.2 412.9,395.2 413.1,394.8M414.1,395.2 414.2,395.2 414.4,395.2 414.5,395.1 414.7,395.2 414.9,395.2 415.0,395.1 415.2,395.0M415.5,395.2 415.5,395.2M416.8,395.1 416.8,395.1M419.5,393.0 419.7,393.9 419.8,394.7 420.0,394.2 420.1,389.5 420.3,392.9 420.5,393.3 420.6,391.0 420.8,393.4 420.9,393.1 421.1,393.6 421.3,394.0 421.4,394.0 421.6,394.5M422.9,395.0 423.0,395.2 423.2,395.2 423.3,395.2 423.5,395.2 423.7,395.2 423.8,395.2 424.0,395.2 424.1,395.1 424.3,395.0 424.5,395.0 424.6,395.1 424.8,395.1M425.3,394.9 425.4,395.2 425.6,395.2 425.8,395.1 425.9,395.0 426.1,395.2 426.2,395.2 426.4,395.2 426.6,395.2 426.7,395.2 426.9,395.2 427.0,395.2 427.2,395.1 427.4,395.0 427.5,395.1 427.7,395.2 427.8,395.2 428.0,395.2 428.2,395.2 428.3,395.1M429.4,395.2 429.6,395.2 429.8,395.2 429.9,395.2 430.1,395.2 430.2,395.0 430.4,394.8 430.6,394.8M432.3,392.4 432.5,388.1 432.6,391.3 432.8,393.5 433.0,392.9 433.1,390.9 433.3,389.7 433.4,392.6 433.6,393.5 433.8,393.6 433.9,393.8M435.7,395.0 435.8,395.2 436.0,395.2 436.2,395.2 436.3,395.1 436.5,395.2 436.6,395.2 436.8,395.2 437.0,395.1 437.1,395.2 437.3,395.2 437.5,395.1M437.8,395.2 437.8,395.2M438.4,395.0 438.6,394.8 438.7,394.9 438.9,395.2 439.1,395.2 439.2,395.2 439.4,395.2 439.5,395.0 439.7,395.1 439.9,395.2M440.3,395.2 440.5,395.2 440.7,395.2 440.8,395.0M442.3,395.0 442.4,394.9 442.6,395.1 442.7,395.0 442.9,394.8 443.1,394.9 443.2,394.8M444.7,381.0 444.8,386.2 445.0,372.8 445.1,345.9 445.3,378.3 445.5,384.3 445.6,390.4 445.8,388.7 445.9,393.2 446.1,392.5 446.3,394.5 446.4,394.2 446.6,394.7 446.7,394.9 446.9,395.0 447.1,395.1 447.2,395.2 447.4,395.2 447.5,395.2 447.7,395.0 447.9,395.2M448.5,394.9 448.7,395.1 448.8,395.1 449.0,394.8 449.2,395.2 449.3,395.2 449.5,395.2 449.6,395.2M450.3,395.1 450.4,395.0 450.6,395.1 450.8,395.1 450.9,395.2 451.1,395.2 451.2,395.2 451.4,395.2 451.6,395.2M453.2,395.2 453.3,395.1 453.5,395.1 453.6,395.1 453.8,395.2 454.0,395.2 454.1,395.2 454.3,394.9M458.3,393.9 458.4,392.1 458.6,393.3 458.8,394.5 458.9,394.9 459.1,394.8 459.2,394.8 459.4,395.2 459.6,395.2 459.7,395.0 459.9,395.0 460.0,395.2 460.2,395.2 460.4,395.2 460.5,395.2 460.7,395.1 460.9,395.1 461.0,395.2 461.2,395.2 461.3,395.2 461.5,395.2 461.7,395.2 461.8,395.2 462.0,395.2 462.1,395.2 462.3,395.0M462.9,395.2 463.1,395.2 463.3,395.1 463.4,395.2 463.6,395.2 463.7,395.0 463.9,394.9 464.1,394.8M466.0,395.2 466.1,395.1 466.3,395.1 466.5,395.2M467.9,387.4 468.1,387.1 468.2,389.6 468.4,387.9 468.5,383.2 468.7,383.2 468.9,390.9M471.9,395.1 472.1,395.2 472.2,395.2 472.4,395.2 472.5,395.2 472.7,395.1 472.9,395.2 473.0,395.2M473.5,395.2 473.7,395.2 473.8,395.2 474.0,395.2M475.1,395.0 475.3,395.1 475.4,395.2 475.6,395.2 475.8,395.2 475.9,395.2 476.1,395.2 476.2,395.2 476.4,395.2 476.6,395.2 476.7,395.2 476.9,395.0 477.0,395.2 477.2,395.2 477.4,395.2 477.5,395.2 477.7,395.2 477.8,395.1 478.0,395.0 478.2,395.0 478.3,394.6 478.5,395.0 478.6,394.8 478.8,393.7 479.0,392.8 479.1,393.5 479.3,394.2 479.4,393.0 479.6,393.4 479.8,392.6 479.9,390.5 480.1,385.3 480.2,388.0 480.4,391.6 480.6,387.1 480.7,386.6 480.9,390.9 481.0,386.7 481.2,386.2 481.4,391.7 481.5,392.1 481.7,393.0 481.8,392.8 482.0,393.1 482.2,393.6M482.5,393.1 482.5,393.1M483.0,394.2 483.1,394.9 483.3,395.0 483.4,395.0 483.6,395.0M485.7,394.9 485.9,395.1 486.0,395.2M488.1,395.2 488.3,395.0 488.4,395.2 488.6,395.2 488.7,395.2 488.9,395.1 489.1,394.8 489.2,395.2 489.4,395.2 489.5,395.1 489.7,394.9 489.9,395.1 490.0,395.2 490.2,395.1 490.3,395.0M491.0,393.8 491.1,392.8 491.3,389.2 491.5,388.2 491.6,390.5 491.8,391.0 491.9,393.1 492.1,393.8 492.3,392.1 492.4,389.6 492.6,390.4 492.7,391.4 492.9,388.6 493.1,387.6 493.2,389.2 493.4,389.2 493.5,389.5 493.7,388.9 493.9,384.0 494.0,387.3 494.2,392.0 494.3,391.8 494.5,393.8 494.7,394.0 494.8,394.3M495.1,394.6 495.3,394.8M495.8,395.0 495.9,395.1 496.1,395.1M496.9,395.2 497.1,395.1 497.2,395.1 497.4,395.2 497.6,395.1 497.7,395.2 497.9,395.2 498.0,395.2 498.2,395.1 498.4,395.1 498.5,395.1 498.7,395.2 498.8,395.2 499.0,395.2 499.2,395.2 499.3,395.2 499.5,395.2 499.6,395.0 499.8,395.2 500.0,395.2 500.1,395.1 500.3,395.0 500.4,395.2 500.6,395.2 500.8,395.0 500.9,395.1M501.4,395.0 501.4,395.0M503.6,391.6 503.8,390.6 504.0,392.6 504.1,392.3 504.3,393.1 504.4,392.3 504.6,387.2 504.8,392.1 504.9,393.8M506.0,393.9 506.2,392.2 506.4,393.8 506.5,395.0 506.7,394.6 506.8,393.4 507.0,393.5 507.2,394.5 507.3,394.8 507.5,395.1 507.6,395.1 507.8,394.9 508.0,395.2M509.6,395.2 509.7,395.2 509.9,395.2 510.1,395.2 510.2,395.2 510.4,395.2 510.5,395.1 510.7,395.1 510.9,395.1 511.0,395.2 511.2,395.2 511.3,395.2 511.5,394.8 511.7,395.1 511.8,395.1 512.0,395.1 512.1,395.2 512.3,395.1 512.5,395.0 512.6,395.0M513.1,394.9 513.1,394.9M514.5,395.2 514.7,395.0 514.9,394.7 515.0,393.9 515.2,394.1 515.3,394.3 515.5,392.0 515.7,386.1 515.8,390.7 516.0,393.6 516.1,393.9 516.3,394.2 516.5,393.0 516.6,391.0 516.8,390.5 516.9,391.2 517.1,390.2 517.3,390.3 517.4,393.2 517.6,393.8 517.7,392.7 517.9,392.7 518.1,394.6 518.2,395.0 518.4,394.7M519.0,395.0 519.0,395.0M519.7,395.0 519.8,395.2 520.0,395.2 520.1,394.9 520.3,395.1 520.5,395.2 520.6,395.2 520.8,394.7 521.0,395.0 521.1,395.0 521.3,395.1 521.4,395.2 521.6,395.2 521.8,395.1 521.9,395.2 522.1,395.0 522.2,395.2 522.4,395.2 522.6,395.0 522.7,395.0 522.9,395.1 523.0,395.2 523.2,395.2 523.4,395.2 523.5,395.2 523.7,395.2 523.8,395.0 524.0,395.2 524.2,395.2 524.3,395.2 524.5,395.1 524.6,395.0 524.8,395.2 525.0,395.2 525.1,395.2 525.3,395.2 525.4,395.1M525.8,395.1 525.9,394.6 526.1,394.6 526.2,395.0 526.4,394.7 526.6,394.8 526.7,395.2 526.9,395.1 527.0,395.1M528.8,392.5 529.0,390.9 529.1,393.0 529.3,385.7 529.4,381.1 529.6,390.6 529.8,389.7 529.9,392.3 530.1,392.5 530.2,392.8 530.4,394.0 530.6,394.6 530.7,394.2 530.9,394.8 531.0,394.9 531.2,394.9 531.4,395.1 531.5,395.1 531.7,395.1 531.8,395.1 532.0,395.0 532.2,395.2 532.3,395.2 532.5,395.0 532.6,395.2 532.8,395.2" stroke="#2c20b4"/>
<path d="M332.2,394.0 332.3,393.6 332.5,393.4 332.6,394.0 332.8,393.5 333.0,393.4 333.1,392.8 333.3,393.2 333.4,392.8 333.6,391.7 333.8,391.9 333.9,389.4 334.1,390.7 334.2,376.0 334.4,391.4 334.6,389.6 334.7,389.5 334.9,387.5 335.0,389.4 335.2,388.1 335.4,386.5 335.5,390.2 335.7,381.6 335.8,391.3 336.0,388.8 336.2,387.4 336.3,386.6 336.5,386.6 336.6,389.4M337.0,384.0 337.1,386.1 337.3,386.5 337.4,376.5 337.6,387.2 337.8,391.9 337.9,391.8 338.1,391.5 338.2,391.3 338.4,391.9 338.6,392.1 338.7,393.2 338.9,393.2 339.0,393.7 339.2,393.9M345.5,393.8 345.6,393.8 345.8,393.6 345.9,393.2 346.1,392.8 346.3,393.8 346.4,390.7 346.6,391.4 346.7,388.7 346.9,388.2 347.1,382.4 347.2,390.6 347.4,391.7 347.5,390.1M348.2,375.1 348.3,384.2 348.5,373.9 348.7,349.8 348.8,378.5 349.0,384.4 349.1,389.2M349.6,387.2 349.8,389.5 349.9,389.2 350.1,391.7 350.3,391.2 350.4,392.9 350.6,393.8 350.7,393.3M351.7,394.1 351.9,394.3 352.0,394.3 352.2,394.3 352.3,394.3 352.5,394.1 352.7,393.5 352.8,394.4 353.0,394.4 353.2,394.0 353.3,394.2 353.5,393.9M355.1,394.5 355.2,394.5 355.4,394.4 355.6,394.5 355.7,394.4 355.9,393.5 356.0,394.4 356.2,394.4 356.4,394.4 356.5,394.4 356.7,394.2 356.8,394.1 357.0,394.1 357.2,394.0 357.3,393.4 357.5,393.1 357.6,392.4 357.8,393.0 358.0,392.3 358.1,390.8 358.3,392.2 358.4,380.7 358.6,383.0 358.8,390.9 358.9,389.0 359.1,391.0 359.2,390.9M359.7,390.3 359.7,390.3M360.4,390.7 360.5,390.0 360.7,390.1 360.8,387.3 361.0,383.2 361.2,388.0 361.3,389.6 361.5,390.8 361.6,388.5 361.8,387.2 362.0,388.8 362.1,392.4 362.3,392.7 362.4,390.2 362.6,391.5 362.8,393.5 362.9,394.2 363.1,394.4 363.2,394.4 363.4,393.8M364.2,394.3 364.2,394.3M365.0,394.3 365.0,394.3M365.5,394.1 365.7,394.2 365.8,394.5 366.0,393.9 366.1,394.3 366.3,394.2 366.5,394.2 366.6,394.5 366.8,394.2 366.9,394.3 367.1,394.5 367.3,394.0 367.4,393.7 367.6,394.5 367.7,394.5 367.9,394.5 368.1,394.5 368.2,394.5 368.4,394.4 368.5,394.2 368.7,393.9 368.9,394.4 369.0,393.3 369.2,393.3 369.3,394.5 369.5,394.5 369.7,394.4 369.8,394.2 370.0,391.7 370.1,392.3 370.3,394.2 370.5,393.7 370.6,393.6 370.8,393.2 370.9,392.4 371.1,393.2 371.3,393.0 371.4,391.4 371.6,385.9 371.7,386.9 371.9,389.8 372.1,388.5 372.2,387.2 372.4,384.9 372.5,379.1 372.7,388.3 372.9,389.0 373.0,390.0 373.2,390.1 373.3,391.6 373.5,390.2 373.7,389.9 373.8,391.9 374.0,393.1 374.1,393.4 374.3,393.0 374.5,392.1 374.6,391.9 374.8,393.3 374.9,393.7 375.1,393.5 375.3,393.8 375.4,394.5M375.9,394.5 376.1,394.5 376.2,394.1 376.4,393.6 376.5,394.5 376.7,394.5 376.9,394.5 377.0,394.5 377.2,394.5 377.4,394.5 377.5,394.3 377.7,394.3M378.6,394.5 378.8,394.4 379.0,394.3 379.1,393.7 379.3,394.0 379.4,394.5 379.6,394.5 379.8,394.4 379.9,394.2 380.1,394.1 380.2,394.3 380.4,394.3 380.6,394.4 380.7,394.5 380.9,394.4 381.0,394.2 381.2,394.2 381.4,394.5 381.5,394.0 381.7,393.3 381.8,394.0 382.0,394.1 382.2,393.6 382.3,393.5 382.5,393.1 382.6,390.7 382.8,392.3 383.0,393.1 383.1,393.0 383.3,391.0 383.4,387.3 383.6,388.8 383.8,388.3 383.9,387.6 384.1,384.6 384.2,372.4 384.4,373.1 384.6,363.1 384.7,333.2 384.9,365.5 385.0,366.8 385.2,381.0 385.4,380.8 385.5,384.3 385.7,390.9 385.8,390.0 386.0,390.6 386.2,392.5 386.3,393.0 386.5,391.7 386.6,392.4 386.8,394.1 387.0,394.1 387.1,393.3 387.3,394.3 387.4,394.3 387.6,394.3 387.8,393.7 387.9,394.1 388.1,393.9 388.2,394.1 388.4,394.1 388.6,393.7 388.7,394.4 388.9,394.1 389.1,394.3 389.2,394.5 389.4,394.4 389.5,394.3M390.0,394.1 390.2,394.5 390.3,394.5 390.5,394.4 390.7,394.0 390.8,393.7 391.0,394.1 391.1,394.0 391.3,394.2 391.5,394.2 391.6,394.5 391.8,394.4 391.9,394.4 392.1,394.2 392.3,394.0 392.4,393.9 392.6,394.4 392.7,394.3 392.9,394.2M394.7,391.1 394.8,392.1 395.0,392.2 395.1,382.4 395.3,392.2 395.5,391.4 395.6,389.0 395.8,390.2 395.9,390.3 396.1,390.1 396.3,386.8 396.4,388.6 396.6,372.8 396.7,359.8 396.9,370.1 397.1,378.8 397.2,384.3 397.4,391.6 397.5,388.0 397.7,389.8 397.9,391.5 398.0,391.6 398.2,392.6 398.3,392.4 398.5,393.0 398.7,393.6 398.8,393.8 399.0,394.2 399.1,394.4 399.3,394.3 399.5,394.4 399.6,393.8 399.8,393.4 399.9,393.3 400.1,393.8 400.3,394.4 400.4,394.2 400.6,394.5 400.8,394.5 400.9,394.2 401.1,394.5M401.4,394.5 401.6,394.5 401.7,394.5 401.9,394.5 402.0,394.5 402.2,393.7 402.4,394.0 402.5,394.5 402.7,394.5 402.8,394.5 403.0,393.7 403.2,394.3 403.3,394.5 403.5,394.4 403.6,394.1 403.8,394.3 404.0,393.8 404.1,393.0 404.3,394.5 404.4,394.5 404.6,394.5 404.8,394.5 404.9,394.5 405.1,394.5 405.2,394.2 405.4,394.3 405.6,394.5 405.7,394.5 405.9,394.4 406.0,394.2 406.2,394.1 406.4,393.7 406.5,393.4 406.7,393.5 406.8,393.7M407.2,391.3 407.3,388.4 407.5,391.1 407.6,393.2 407.8,392.9 408.0,392.4 408.1,392.4 408.3,392.0 408.4,391.1 408.6,391.4 408.8,392.2 408.9,391.4 409.1,392.5 409.2,392.9 409.4,386.3 409.6,313.7 409.7,379.5 409.9,392.4 410.0,392.6 410.2,391.6 410.4,392.2 410.5,393.6 410.7,393.4 410.8,392.7 411.0,393.7 411.2,394.4 411.3,394.2 411.5,393.7 411.6,394.4 411.8,394.5 412.0,394.5 412.1,394.5 412.3,394.5 412.4,394.5 412.6,394.5 412.8,394.5 412.9,394.5 413.1,394.5 413.3,394.5 413.4,394.5 413.6,394.5 413.7,394.5 413.9,394.2 414.1,394.0 414.2,394.5 414.4,394.5 414.5,394.0 414.7,394.3 414.9,394.5 415.0,394.5 415.2,394.5 415.3,394.0 415.5,393.7 415.7,394.5 415.8,394.5 416.0,394.4 416.1,394.3 416.3,394.5 416.5,394.5 416.6,394.2 416.8,394.2 416.9,394.2 417.1,394.5M417.4,394.4 417.6,394.1 417.7,394.0 417.9,393.3 418.1,393.1 418.2,394.2 418.4,394.5 418.5,394.2 418.7,394.4 418.9,394.5 419.0,394.0 419.2,393.7 419.3,393.5 419.5,392.1 419.7,390.6 419.8,391.9 420.0,391.6 420.1,391.8 420.3,392.9 420.5,392.9 420.6,392.1 420.8,388.7 420.9,390.0 421.1,392.1 421.3,393.4 421.4,394.2 421.6,393.8 421.7,394.1 421.9,393.7 422.1,393.0 422.2,394.1 422.4,393.9 422.5,394.1 422.7,393.8 422.9,391.7 423.0,392.7 423.2,394.1 423.3,394.5 423.5,394.1 423.7,394.3 423.8,394.5 424.0,394.5 424.1,394.5 424.3,394.5 424.5,394.5 424.6,394.5 424.8,394.5 425.0,394.1 425.1,394.2 425.3,394.3 425.4,394.4 425.6,394.5 425.8,394.5 425.9,394.5 426.1,394.2 426.2,394.3 426.4,394.5 426.6,394.4 426.7,394.5 426.9,394.5 427.0,394.5 427.2,394.5 427.4,394.5 427.5,394.5 427.7,394.5 427.8,394.5 428.0,394.5 428.2,394.5 428.3,394.5 428.5,394.5 428.6,394.5 428.8,394.5 429.0,394.5 429.1,394.1 429.3,394.5 429.4,394.5 429.6,394.5 429.8,394.5 429.9,394.4 430.1,393.9 430.2,394.0 430.4,393.6 430.6,393.6 430.7,393.4 430.9,392.8 431.0,392.3 431.2,391.5 431.4,392.9 431.5,393.4 431.7,393.0M432.0,390.1 432.2,391.2 432.3,389.2 432.5,390.6 432.6,392.1 432.8,391.0 433.0,392.2 433.1,393.0 433.3,390.8 433.4,389.4 433.6,390.8 433.8,391.9 433.9,392.1 434.1,391.0 434.2,391.2 434.4,392.5 434.6,393.4 434.7,393.3 434.9,393.8 435.0,393.4 435.2,391.9 435.4,392.7 435.5,393.4 435.7,394.3 435.8,394.5 436.0,394.5 436.2,394.2 436.3,393.8 436.5,394.3 436.6,394.5 436.8,394.3 437.0,394.1 437.1,394.5 437.3,394.5 437.5,394.5 437.6,394.4 437.8,393.2 437.9,393.0 438.1,394.1 438.3,393.4M438.7,394.5 438.9,394.5 439.1,394.5 439.2,394.5 439.4,394.3 439.5,394.5 439.7,394.3 439.9,392.7 440.0,394.1 440.2,394.5 440.3,394.5 440.5,394.5 440.7,394.4 440.8,393.9 441.0,394.5 441.1,394.5 441.3,394.1 441.5,394.5 441.6,393.4 441.8,393.1 441.9,394.0 442.1,393.7 442.3,393.8 442.4,394.1 442.6,393.1 442.7,390.7 442.9,388.6 443.1,389.5 443.2,391.6 443.4,391.3 443.5,390.8 443.7,391.8 443.9,392.4 444.0,392.2 444.2,389.8 444.3,385.5 444.5,385.3 444.7,380.7 444.8,381.8 445.0,376.6 445.1,357.8 445.3,382.8 445.5,387.6 445.6,384.4 445.8,386.8 445.9,387.1 446.1,390.6 446.3,391.9 446.4,391.5 446.6,391.5 446.7,392.3M447.4,393.9 447.5,394.1 447.7,393.6 447.9,393.0 448.0,393.5 448.2,394.4 448.3,394.5 448.5,394.4 448.7,394.5 448.8,394.4 449.0,394.5 449.2,394.5 449.3,394.5 449.5,393.9 449.6,393.7 449.8,394.2 450.0,394.4 450.1,394.3 450.3,394.4 450.4,394.3 450.6,393.9 450.8,394.4 450.9,394.5 451.1,394.5 451.2,394.5 451.4,394.5 451.6,394.5 451.7,394.5 451.9,394.4 452.0,394.5 452.2,394.5M452.7,394.3 452.8,394.5 453.0,394.5 453.2,394.3 453.3,393.9 453.5,393.7 453.6,393.5 453.8,392.9 454.0,393.0 454.1,394.4 454.3,394.4 454.4,394.2 454.6,394.2 454.8,394.2 454.9,393.8 455.1,393.2 455.2,393.5 455.4,394.1 455.6,393.6 455.7,393.2 455.9,393.6 456.0,393.2 456.2,392.2 456.4,391.9 456.5,392.3 456.7,391.1 456.8,386.2 457.0,383.0 457.2,378.6 457.3,391.1 457.5,387.9 457.6,392.2 457.8,390.7 458.0,391.6 458.1,392.1 458.3,392.7 458.4,394.1M459.4,394.3 459.4,394.3M460.5,394.4 460.7,394.3 460.9,394.5 461.0,393.7 461.2,393.9 461.3,394.5 461.5,394.5 461.7,394.0 461.8,394.4 462.0,394.5 462.1,394.0 462.3,394.5 462.5,394.5 462.6,394.5 462.8,394.5 462.9,394.5 463.1,394.5 463.3,394.5 463.4,394.5 463.6,394.4 463.7,394.3 463.9,394.4 464.1,394.5 464.2,394.5 464.4,394.4 464.5,394.5 464.7,394.5 464.9,394.5 465.0,393.9 465.2,393.1 465.3,394.1 465.5,394.5 465.7,393.4 465.8,392.3 466.0,392.7 466.1,393.6 466.3,393.8 466.5,393.5 466.6,393.5 466.8,392.4 466.9,392.2 467.1,392.4 467.3,389.9 467.4,388.9 467.6,387.9 467.7,389.1 467.9,391.6 468.1,388.0 468.2,383.5 468.4,387.2 468.5,386.8 468.7,391.2 468.9,386.9 469.0,375.5 469.2,383.6 469.3,387.8 469.5,388.4M472.2,394.3 472.4,394.4 472.5,394.4 472.7,394.4 472.9,394.4 473.0,393.5 473.2,393.3 473.4,394.5 473.5,394.5 473.7,394.5 473.8,394.5 474.0,394.5 474.2,394.4 474.3,394.5 474.5,394.5 474.6,394.5 474.8,394.5 475.0,394.5 475.1,394.5 475.3,394.2 475.4,394.2 475.6,394.2 475.8,394.5 475.9,394.5 476.1,394.5 476.2,394.1 476.4,394.4 476.6,394.4 476.7,394.5 476.9,394.3 477.0,393.8 477.2,394.3 477.4,393.7 477.5,394.1 477.7,394.4 477.8,394.3 478.0,394.5 478.2,394.5 478.3,394.2 478.5,394.1 478.6,394.2 478.8,393.9 479.0,393.6 479.1,393.4 479.3,393.4 479.4,393.7 479.6,393.0 479.8,391.7 479.9,390.7M480.2,393.5 480.4,392.3 480.6,392.1 480.7,392.7 480.9,393.3M481.2,393.4 481.4,394.2 481.5,392.4 481.7,392.8 481.8,394.1 482.0,394.0 482.2,393.8 482.3,393.0 482.5,393.2 482.6,393.0 482.8,391.6 483.0,393.9 483.1,394.5 483.3,394.5 483.4,394.5 483.6,394.5 483.8,394.5 483.9,394.5 484.1,394.3 484.2,394.0 484.4,394.0 484.6,394.5 484.7,394.5 484.9,394.3 485.1,393.9 485.2,393.5 485.4,394.2M485.9,394.5 486.0,394.5 486.2,394.5 486.3,394.5M487.1,394.5 487.3,394.5 487.5,394.5 487.6,394.5 487.8,394.1M488.4,394.5 488.6,394.5 488.7,394.5 488.9,394.5 489.1,394.5 489.2,394.5 489.4,394.1 489.5,393.5 489.7,394.3 489.9,393.8 490.0,394.0 490.2,393.8 490.3,392.8 490.5,392.6 490.7,391.9M491.0,390.1 491.1,391.3 491.3,389.8 491.5,392.3 491.6,392.8 491.8,390.7 491.9,389.8 492.1,390.4 492.3,389.1 492.4,388.8 492.6,388.0 492.7,388.3 492.9,390.1M493.2,387.4 493.4,387.1 493.5,388.4 493.7,388.1 493.9,381.1 494.0,388.6 494.2,387.8 494.3,391.3 494.5,390.5 494.7,392.4 494.8,390.9 495.0,390.8 495.1,393.2 495.3,393.6 495.5,394.1 495.6,394.1 495.8,394.3 495.9,394.4 496.1,394.4 496.3,394.1 496.4,394.0 496.6,394.0 496.7,393.8 496.9,393.8 497.1,393.9 497.2,393.6 497.4,394.4 497.6,394.5 497.7,394.3 497.9,394.5 498.0,394.5 498.2,394.5 498.4,394.3 498.5,394.5 498.7,394.5 498.8,394.5 499.0,394.3 499.2,393.5 499.3,393.6M500.0,394.5 500.1,394.5 500.3,394.5 500.4,394.5 500.6,394.2 500.8,394.5 500.9,394.3 501.1,394.4 501.2,394.5 501.4,394.2 501.6,393.8 501.7,394.0 501.9,394.4 502.0,394.4 502.2,394.4 502.4,393.9 502.5,393.6 502.7,393.6 502.8,394.4 503.0,394.3 503.2,393.7 503.3,392.3 503.5,391.8M503.8,393.2 504.0,393.3 504.1,394.1 504.3,393.4 504.4,392.1 504.6,391.4 504.8,390.7 504.9,387.8 505.1,388.5 505.2,388.9 505.4,379.1 505.6,385.4 505.7,390.0 505.9,391.5 506.0,390.4 506.2,390.7 506.4,392.0 506.5,392.5 506.7,393.5 506.8,393.4 507.0,393.6 507.2,394.1 507.3,393.8 507.5,393.8 507.6,394.1 507.8,394.0 508.0,394.2 508.1,394.4 508.3,393.8 508.4,393.7 508.6,394.4 508.8,394.4 508.9,394.4 509.1,394.5 509.3,394.0 509.4,394.2 509.6,394.5 509.7,394.5 509.9,394.5 510.1,394.5 510.2,394.5 510.4,394.4 510.5,394.4M511.5,394.5 511.7,394.4 511.8,394.2 512.0,394.2 512.1,393.8 512.3,394.3 512.5,394.5 512.6,394.5 512.8,394.4 512.9,393.1 513.1,394.2 513.3,394.5 513.4,394.5M514.4,393.9 514.5,393.9 514.7,393.8 514.9,392.7 515.0,391.1 515.2,393.5 515.3,393.9 515.5,393.2 515.7,392.9 515.8,391.5 516.0,392.0M516.8,387.6 516.9,387.9 517.1,382.9 517.3,377.5 517.4,390.1 517.6,391.0 517.7,390.0 517.9,390.9 518.1,392.3 518.2,392.6 518.4,391.8 518.5,391.0 518.7,392.7 518.9,393.9 519.0,393.7 519.2,393.0 519.3,393.2 519.5,394.2 519.7,394.4 519.8,394.1 520.0,394.4 520.1,394.4 520.3,394.4M520.8,393.9 521.0,393.8 521.1,393.3 521.3,394.1 521.4,394.5 521.6,394.2 521.8,394.0 521.9,394.4 522.1,394.2 522.2,394.4 522.4,394.5 522.6,394.0M525.0,394.3 525.0,394.3M525.3,394.5 525.4,394.5 525.6,394.5 525.8,394.2M527.8,393.2 528.0,392.4 528.2,392.0 528.3,390.0 528.5,392.2 528.6,392.9 528.8,391.3 529.0,390.9 529.1,392.0 529.3,392.9 529.4,391.4 529.6,390.6 529.8,393.6 529.9,393.6 530.1,391.9 530.2,392.7 530.4,392.5 530.6,392.9 530.7,393.9 530.9,393.6 531.0,393.6 531.2,394.0 531.4,393.8 531.5,393.6 531.7,394.1 531.8,394.3M532.3,394.5 532.5,394.0 532.6,394.5 532.8,394.5" stroke="#000000"/>
</g>
<path d="M340.5,313.7v2.2M340.5,398.7v-2.2M364.5,313.7v2.2M364.5,398.7v-2.2M388.6,313.7v2.2M388.6,398.7v-2.2M412.6,313.7v2.2M412.6,398.7v-2.2M436.6,313.7v2.2M436.6,398.7v-2.2M460.7,313.7v2.2M460.7,398.7v-2.2M484.7,313.7v2.2M484.7,398.7v-2.2M508.8,313.7v2.2M508.8,398.7v-2.2M316.4,395.4h2.2M532.8,395.4h-2.2M316.4,379.1h2.2M532.8,379.1h-2.2M316.4,362.8h2.2M532.8,362.8h-2.2M316.4,346.4h2.2M532.8,346.4h-2.2M316.4,330.1h2.2M532.8,330.1h-2.2" stroke="#000" stroke-width="1" fill="none"/>
<rect x="316.4" y="313.7" width="216.4" height="85.0" fill="none" stroke="#222" stroke-width="1.3"/>
<text x="316.4" y="410.8" font-size="9.3" text-anchor="middle">2000</text>
<text x="340.5" y="410.8" font-size="9.3" text-anchor="middle">2002</text>
<text x="364.5" y="410.8" font-size="9.3" text-anchor="middle">2004</text>
<text x="388.6" y="410.8" font-size="9.3" text-anchor="middle">2006</text>
<text x="412.6" y="410.8" font-size="9.3" text-anchor="middle">2008</text>
<text x="436.6" y="410.8" font-size="9.3" text-anchor="middle">2010</text>
<text x="460.7" y="410.8" font-size="9.3" text-anchor="middle">2012</text>
<text x="484.7" y="410.8" font-size="9.3" text-anchor="middle">2014</text>
<text x="508.8" y="410.8" font-size="9.3" text-anchor="middle">2016</text>
<text x="532.8" y="410.8" font-size="9.3" text-anchor="middle">2018</text>
<text x="313.3" y="399.2" font-size="9.3" text-anchor="end">0</text>
<text x="313.3" y="382.9" font-size="9.3" text-anchor="end">1</text>
<text x="313.3" y="366.6" font-size="9.3" text-anchor="end">2</text>
<text x="313.3" y="350.2" font-size="9.3" text-anchor="end">3</text>
<text x="313.3" y="333.9" font-size="9.3" text-anchor="end">4</text>
<text x="313.3" y="317.5" font-size="9.3" text-anchor="end">5</text>
<text x="424.6" y="306.8" font-size="11.5" text-anchor="middle">Cuiabá Miranda - CM</text>
<text x="424.6" y="424.5" font-size="11.6" text-anchor="middle">Date</text>
<text transform="translate(301.4,356.6) rotate(-90)" font-size="11.3" text-anchor="middle">AOD</text>
<text x="325.8" y="331.5" font-size="10.2" font-weight="bold">f)</text>
</svg>
</body></html>
